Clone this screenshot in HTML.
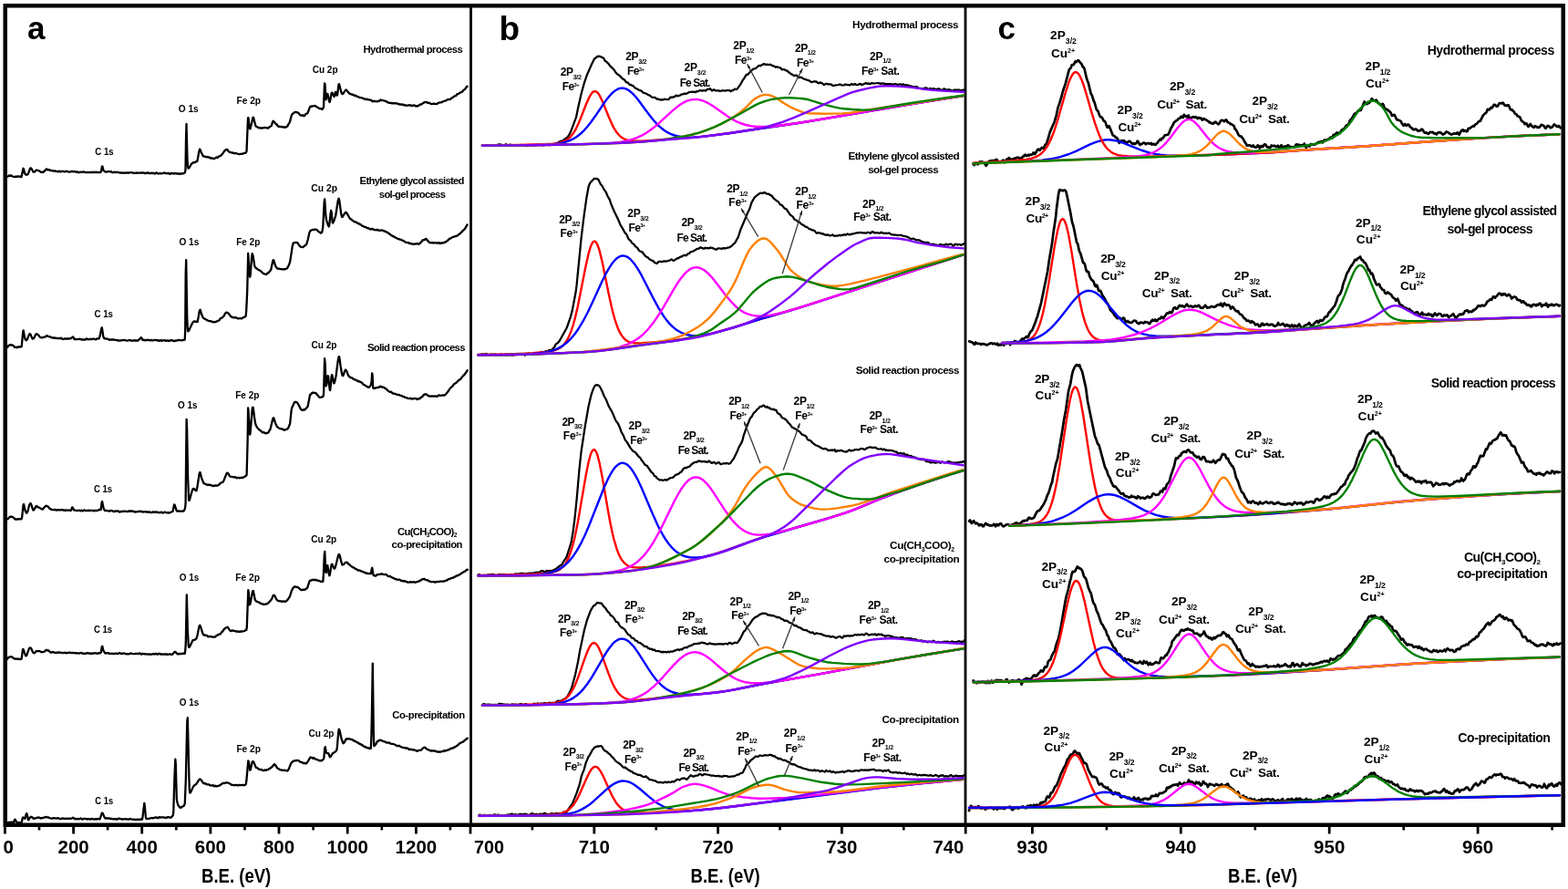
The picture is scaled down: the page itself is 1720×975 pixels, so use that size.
<!DOCTYPE html>
<html><head><meta charset="utf-8"><title>XPS spectra</title>
<style>html,body{margin:0;padding:0;background:#fff;overflow:hidden;}svg{display:block;}</style></head>
<body><svg width="1720" height="975" viewBox="0 0 1720 975">
<rect width="1720" height="975" fill="#fff"/>
<rect x="5.75" y="6.25" width="1709" height="898.5" fill="none" stroke="#000" stroke-width="4.5"/>
<line x1="516.5" y1="6" x2="516.5" y2="905" stroke="#000" stroke-width="2.8"/>
<line x1="1059" y1="6" x2="1059" y2="905" stroke="#000" stroke-width="2.8"/>
<line x1="5.4" y1="905" x2="5.4" y2="914.5" stroke="#000" stroke-width="2.8"/>
<line x1="43.0" y1="905" x2="43.0" y2="910.5" stroke="#000" stroke-width="2.6"/>
<line x1="80.6" y1="905" x2="80.6" y2="914.5" stroke="#000" stroke-width="2.8"/>
<line x1="118.1" y1="905" x2="118.1" y2="910.5" stroke="#000" stroke-width="2.6"/>
<line x1="155.7" y1="905" x2="155.7" y2="914.5" stroke="#000" stroke-width="2.8"/>
<line x1="193.3" y1="905" x2="193.3" y2="910.5" stroke="#000" stroke-width="2.6"/>
<line x1="230.9" y1="905" x2="230.9" y2="914.5" stroke="#000" stroke-width="2.8"/>
<line x1="268.5" y1="905" x2="268.5" y2="910.5" stroke="#000" stroke-width="2.6"/>
<line x1="306.0" y1="905" x2="306.0" y2="914.5" stroke="#000" stroke-width="2.8"/>
<line x1="343.6" y1="905" x2="343.6" y2="910.5" stroke="#000" stroke-width="2.6"/>
<line x1="381.2" y1="905" x2="381.2" y2="914.5" stroke="#000" stroke-width="2.8"/>
<line x1="418.8" y1="905" x2="418.8" y2="910.5" stroke="#000" stroke-width="2.6"/>
<line x1="456.4" y1="905" x2="456.4" y2="914.5" stroke="#000" stroke-width="2.8"/>
<line x1="493.9" y1="905" x2="493.9" y2="910.5" stroke="#000" stroke-width="2.6"/>
<line x1="516.0" y1="905" x2="516.0" y2="914.5" stroke="#000" stroke-width="2.8"/>
<line x1="583.9" y1="905" x2="583.9" y2="910.5" stroke="#000" stroke-width="2.6"/>
<line x1="651.8" y1="905" x2="651.8" y2="914.5" stroke="#000" stroke-width="2.8"/>
<line x1="719.7" y1="905" x2="719.7" y2="910.5" stroke="#000" stroke-width="2.6"/>
<line x1="787.6" y1="905" x2="787.6" y2="914.5" stroke="#000" stroke-width="2.8"/>
<line x1="855.5" y1="905" x2="855.5" y2="910.5" stroke="#000" stroke-width="2.6"/>
<line x1="923.4" y1="905" x2="923.4" y2="914.5" stroke="#000" stroke-width="2.8"/>
<line x1="991.3" y1="905" x2="991.3" y2="910.5" stroke="#000" stroke-width="2.6"/>
<line x1="1059.2" y1="905" x2="1059.2" y2="914.5" stroke="#000" stroke-width="2.8"/>
<line x1="1132.4" y1="905" x2="1132.4" y2="914.5" stroke="#000" stroke-width="2.8"/>
<line x1="1213.9" y1="905" x2="1213.9" y2="910.5" stroke="#000" stroke-width="2.6"/>
<line x1="1295.3" y1="905" x2="1295.3" y2="914.5" stroke="#000" stroke-width="2.8"/>
<line x1="1376.8" y1="905" x2="1376.8" y2="910.5" stroke="#000" stroke-width="2.6"/>
<line x1="1458.2" y1="905" x2="1458.2" y2="914.5" stroke="#000" stroke-width="2.8"/>
<line x1="1539.7" y1="905" x2="1539.7" y2="910.5" stroke="#000" stroke-width="2.6"/>
<line x1="1621.1" y1="905" x2="1621.1" y2="914.5" stroke="#000" stroke-width="2.8"/>
<line x1="1702.6" y1="905" x2="1702.6" y2="910.5" stroke="#000" stroke-width="2.6"/>
<g font-family='"Liberation Sans", Arial, sans-serif' font-weight="bold" fill="#000">
<text x="3.4" y="936.0" font-size="19.40" textLength="11.4" lengthAdjust="spacingAndGlyphs" >0</text>
<text x="63.5" y="936.0" font-size="19.40" textLength="34.2" lengthAdjust="spacingAndGlyphs" >200</text>
<text x="138.6" y="936.0" font-size="19.40" textLength="34.2" lengthAdjust="spacingAndGlyphs" >400</text>
<text x="213.8" y="936.0" font-size="19.40" textLength="34.2" lengthAdjust="spacingAndGlyphs" >600</text>
<text x="288.9" y="936.0" font-size="19.40" textLength="34.2" lengthAdjust="spacingAndGlyphs" >800</text>
<text x="358.4" y="936.0" font-size="19.40" textLength="45.6" lengthAdjust="spacingAndGlyphs" >1000</text>
<text x="433.6" y="936.0" font-size="19.40" textLength="45.6" lengthAdjust="spacingAndGlyphs" >1200</text>
<text x="520.0" y="936.0" font-size="19.40" textLength="33.0" lengthAdjust="spacingAndGlyphs" >700</text>
<text x="634.7" y="936.0" font-size="19.40" textLength="34.2" lengthAdjust="spacingAndGlyphs" >710</text>
<text x="770.5" y="936.0" font-size="19.40" textLength="34.2" lengthAdjust="spacingAndGlyphs" >720</text>
<text x="906.3" y="936.0" font-size="19.40" textLength="34.2" lengthAdjust="spacingAndGlyphs" >730</text>
<text x="1023.6" y="936.0" font-size="19.40" textLength="33.7" lengthAdjust="spacingAndGlyphs" >740</text>
<text x="1115.3" y="936.0" font-size="19.40" textLength="34.2" lengthAdjust="spacingAndGlyphs" >930</text>
<text x="1278.2" y="936.0" font-size="19.40" textLength="34.2" lengthAdjust="spacingAndGlyphs" >940</text>
<text x="1441.1" y="936.0" font-size="19.40" textLength="34.2" lengthAdjust="spacingAndGlyphs" >950</text>
<text x="1604.0" y="936.0" font-size="19.40" textLength="34.2" lengthAdjust="spacingAndGlyphs" >960</text>
<text x="221.0" y="967.7" font-size="21.40" textLength="76.3" lengthAdjust="spacingAndGlyphs" >B.E. (eV)</text>
<text x="757.6" y="967.7" font-size="21.40" textLength="76.1" lengthAdjust="spacingAndGlyphs" >B.E. (eV)</text>
<text x="1347.0" y="967.7" font-size="21.40" textLength="76.3" lengthAdjust="spacingAndGlyphs" >B.E. (eV)</text>
<text x="30" y="42.5" font-size="35">a</text>
<text x="547.5" y="43.7" font-size="37">b</text>
<text x="1094.5" y="42.5" font-size="35">c</text>
</g>
<g font-family='"Liberation Sans", Arial, sans-serif' font-weight="bold" fill="#000">
<text x="398.5" y="57.7" font-size="11.30" textLength="109.2" lengthAdjust="spacing" >Hydrothermal process</text>
<text x="342.7" y="79.9" font-size="11.30" textLength="27.9" lengthAdjust="spacingAndGlyphs" >Cu 2p</text>
<text x="259.5" y="113.5" font-size="11.30" textLength="26.6" lengthAdjust="spacingAndGlyphs" >Fe 2p</text>
<text x="195.8" y="123.1" font-size="11.30" textLength="21.9" lengthAdjust="spacingAndGlyphs" >O 1s</text>
<text x="104.3" y="170.0" font-size="11.30" textLength="20.4" lengthAdjust="spacingAndGlyphs" >C 1s</text>
<text x="394.6" y="202.0" font-size="11.30" textLength="114.9" lengthAdjust="spacing" >Ethylene glycol assisted</text>
<text x="415.8" y="217.4" font-size="11.30" textLength="73.2" lengthAdjust="spacing" >sol-gel process</text>
<text x="341.3" y="210.2" font-size="11.30" textLength="28.7" lengthAdjust="spacingAndGlyphs" >Cu 2p</text>
<text x="259.2" y="268.7" font-size="11.30" textLength="26.1" lengthAdjust="spacingAndGlyphs" >Fe 2p</text>
<text x="196.4" y="268.5" font-size="11.30" textLength="22.0" lengthAdjust="spacingAndGlyphs" >O 1s</text>
<text x="103.5" y="347.9" font-size="11.30" textLength="20.5" lengthAdjust="spacingAndGlyphs" >C 1s</text>
<text x="402.9" y="385.4" font-size="11.30" textLength="107.6" lengthAdjust="spacing" >Solid reaction process</text>
<text x="341.5" y="382.2" font-size="11.30" textLength="28.0" lengthAdjust="spacingAndGlyphs" >Cu 2p</text>
<text x="258.2" y="437.1" font-size="11.30" textLength="26.3" lengthAdjust="spacingAndGlyphs" >Fe 2p</text>
<text x="195.0" y="448.0" font-size="11.30" textLength="21.5" lengthAdjust="spacingAndGlyphs" >O 1s</text>
<text x="103.0" y="539.8" font-size="11.30" textLength="20.2" lengthAdjust="spacingAndGlyphs" >C 1s</text>
<text x="429.6" y="600.5" font-size="11.30" textLength="77.9" lengthAdjust="spacing" >co-precipitation</text>
<text x="341.2" y="594.5" font-size="11.30" textLength="28.0" lengthAdjust="spacingAndGlyphs" >Cu 2p</text>
<text x="258.2" y="637.3" font-size="11.30" textLength="26.8" lengthAdjust="spacingAndGlyphs" >Fe 2p</text>
<text x="196.8" y="637.2" font-size="11.30" textLength="21.5" lengthAdjust="spacingAndGlyphs" >O 1s</text>
<text x="102.9" y="694.3" font-size="11.30" textLength="20.3" lengthAdjust="spacingAndGlyphs" >C 1s</text>
<text x="430.2" y="788.3" font-size="11.30" textLength="79.9" lengthAdjust="spacing" >Co-precipitation</text>
<text x="338.6" y="808.2" font-size="11.30" textLength="27.9" lengthAdjust="spacingAndGlyphs" >Cu 2p</text>
<text x="259.4" y="825.3" font-size="11.30" textLength="26.6" lengthAdjust="spacingAndGlyphs" >Fe 2p</text>
<text x="196.8" y="774.2" font-size="11.30" textLength="21.5" lengthAdjust="spacingAndGlyphs" >O 1s</text>
<text x="104.3" y="882.2" font-size="11.30" textLength="19.8" lengthAdjust="spacingAndGlyphs" >C 1s</text>
<text x="436" y="586.5" font-size="11.3" textLength="65.3" lengthAdjust="spacing">Cu(CH<tspan font-size="6.5" dy="2">3</tspan><tspan dy="-2">COO)</tspan><tspan font-size="6.5" dy="2">2</tspan></text>
</g>
<polyline points="8.0,193.6 9.0,193.3 10.0,192.5 11.5,192.8 12.0,192.4 13.0,192.8 13.5,193.5 15.5,194.0 20.0,193.5 22.0,193.6 23.0,194.1 23.5,193.9 25.5,184.7 26.0,185.2 27.0,190.0 28.5,191.6 29.5,191.7 30.5,191.2 31.0,190.4 33.0,184.9 33.5,184.4 34.0,184.5 35.0,185.8 36.0,187.8 36.5,188.4 37.0,188.7 38.0,188.4 39.5,186.7 40.0,186.5 42.0,187.0 44.0,188.1 45.0,188.9 46.5,188.7 47.0,189.0 49.0,187.5 51.0,185.4 52.0,185.9 52.5,186.5 54.0,186.0 55.0,187.0 56.0,186.9 59.0,187.7 60.5,187.4 61.5,187.8 63.0,187.9 63.5,188.4 64.5,188.1 65.0,187.6 66.5,188.4 67.5,187.9 69.0,187.8 71.0,188.4 72.0,188.2 73.0,187.6 74.5,188.3 76.5,188.7 78.0,188.0 79.5,188.0 81.0,188.3 82.0,188.0 83.5,188.7 84.5,188.3 86.0,189.2 86.5,189.3 88.0,188.6 89.5,188.9 91.5,188.4 94.0,189.1 96.5,188.8 98.0,189.1 98.5,188.9 99.0,189.0 100.5,188.8 101.5,189.0 103.0,188.7 104.0,189.2 105.5,188.7 106.0,189.1 106.5,188.9 107.0,189.2 108.5,188.9 109.5,189.1 110.5,188.9 111.0,187.4 112.0,182.3 112.5,182.7 113.5,187.1 116.0,188.7 119.0,188.1 120.0,188.1 120.5,188.4 122.0,188.1 123.0,189.0 124.0,189.3 125.5,188.6 127.5,189.1 129.0,188.7 131.0,189.5 132.5,189.4 133.5,189.7 134.5,189.5 135.5,189.9 136.5,189.5 137.5,189.7 140.0,189.3 142.0,189.5 144.0,189.0 145.5,189.7 147.0,189.6 148.5,189.8 150.0,189.4 151.5,189.8 152.5,189.6 154.0,189.6 154.5,189.4 155.0,189.7 157.0,189.4 157.5,189.6 158.5,189.6 159.0,190.2 160.0,190.2 160.5,189.6 161.0,189.8 162.0,189.4 162.5,189.4 163.5,190.1 164.0,189.9 165.5,190.2 166.5,189.6 167.5,190.0 169.0,189.8 170.0,190.5 171.5,189.3 172.0,189.8 172.5,189.8 173.0,190.3 174.0,190.5 175.5,190.0 176.5,190.3 178.5,190.2 180.5,189.4 182.0,190.2 183.5,190.3 184.0,189.8 185.0,189.8 185.5,190.4 186.5,190.9 187.5,189.9 188.0,189.8 189.0,190.4 190.0,190.4 190.5,190.0 195.0,190.5 196.0,190.3 197.5,190.8 199.5,190.2 200.5,190.5 202.5,189.7 203.0,188.7 203.5,186.3 204.0,153.2 204.5,136.0 205.5,175.0 206.0,182.2 206.5,184.6 207.0,184.5 207.5,183.9 210.5,179.2 212.0,178.1 213.5,178.3 214.0,178.0 215.5,177.1 216.0,177.0 216.5,176.4 218.0,167.8 219.0,163.7 219.5,163.8 221.0,167.8 223.0,171.4 223.5,171.3 224.0,171.7 225.0,171.6 226.5,172.4 227.5,172.0 228.5,172.5 230.0,172.7 231.0,173.6 232.5,173.4 234.5,174.1 235.0,174.1 237.5,172.4 238.0,172.9 239.0,172.8 240.0,171.4 241.5,171.2 242.0,170.9 244.5,168.2 246.5,165.2 248.5,163.8 249.0,163.8 249.5,164.1 250.5,165.9 251.5,166.7 252.0,166.8 252.5,167.1 253.0,167.0 255.0,167.8 255.5,167.5 257.0,168.3 259.0,167.9 260.0,168.5 262.5,169.1 264.0,168.8 265.0,168.9 265.5,168.6 266.0,168.7 266.5,168.4 267.0,168.4 267.5,167.8 269.0,167.9 269.5,167.6 270.5,166.2 272.0,129.3 272.5,129.1 273.5,138.7 274.0,141.2 274.5,141.4 277.5,128.7 278.0,128.9 278.5,130.4 280.0,136.8 280.5,138.0 281.0,138.7 284.5,140.4 285.5,140.2 286.5,140.6 287.5,140.6 288.5,140.1 291.0,139.9 294.0,140.6 296.0,139.0 297.5,138.3 298.0,137.4 299.0,133.7 299.5,132.8 301.0,133.9 301.5,134.8 302.0,135.0 302.5,135.9 304.0,136.8 304.5,137.9 305.5,138.8 306.0,138.6 307.5,139.1 309.5,139.0 310.5,139.5 311.5,139.7 312.0,139.4 313.5,139.5 314.0,139.4 315.5,138.3 316.5,136.1 317.5,134.6 318.0,133.6 319.5,127.6 320.5,125.3 321.5,124.3 322.0,124.2 323.5,122.9 326.0,123.2 328.0,124.5 329.0,125.9 330.0,126.6 331.0,126.7 332.0,126.2 333.0,127.0 334.0,127.1 335.5,124.9 337.0,124.5 337.5,123.8 340.0,117.3 341.0,116.7 341.5,116.8 342.0,116.4 342.5,116.6 345.0,116.0 346.0,116.2 347.5,117.4 349.0,118.0 350.0,119.0 351.5,119.0 353.5,119.9 354.0,119.4 355.0,117.3 356.0,91.4 356.5,92.0 357.5,109.3 359.0,102.8 359.5,103.2 361.0,110.7 361.5,112.0 362.0,111.4 363.5,102.8 364.0,101.6 364.5,101.8 366.5,106.0 367.0,104.9 368.0,100.8 368.5,100.9 369.5,104.7 370.0,104.7 371.5,92.7 372.0,92.1 374.5,101.6 375.0,102.7 375.5,103.1 376.5,102.6 378.5,99.5 379.5,98.5 380.0,98.6 381.5,100.6 384.0,103.1 386.0,103.4 386.5,103.9 387.0,103.9 389.0,104.9 390.0,104.7 392.0,106.1 392.5,106.0 393.5,106.3 394.5,107.1 396.5,107.1 398.0,107.8 399.0,108.1 399.5,108.5 400.5,108.7 401.0,108.7 402.0,109.1 403.0,108.6 404.0,109.3 405.0,109.3 405.5,109.7 406.5,109.8 407.0,109.6 408.5,111.3 410.0,110.8 410.5,111.0 411.0,110.8 414.0,111.4 415.5,110.6 416.0,110.8 417.5,109.4 418.5,110.1 419.5,110.0 423.0,110.8 424.5,111.9 427.0,112.9 429.0,112.9 430.0,113.4 431.5,113.1 433.0,113.3 434.0,113.1 435.5,113.5 436.0,113.9 436.5,113.8 437.5,114.0 438.5,114.7 440.0,114.5 443.0,115.0 443.5,115.4 444.5,115.5 445.0,115.3 447.0,115.8 448.5,115.2 449.0,115.5 450.5,115.3 451.5,116.0 452.5,116.1 454.0,115.3 454.5,115.4 455.5,116.3 457.0,116.2 457.5,116.5 458.0,116.1 458.5,116.1 459.5,115.6 460.5,114.7 462.0,114.5 464.0,113.1 464.5,113.1 465.0,112.4 465.5,112.4 466.0,112.0 466.5,112.1 468.0,111.9 469.0,112.8 469.5,113.0 470.5,112.7 473.5,114.2 475.5,113.7 478.5,114.1 479.5,113.8 480.5,113.0 482.5,112.3 484.0,112.4 485.5,111.5 488.5,110.5 489.0,110.5 489.5,110.0 491.0,109.3 491.5,108.9 492.0,109.2 493.0,109.2 494.5,108.4 495.0,107.8 496.0,107.1 497.0,106.8 498.5,105.3 500.0,105.2 501.5,103.2 503.0,102.9 505.0,101.4 506.5,101.0 507.5,100.2 508.0,99.3 510.5,97.3 512.0,94.9 512.5,94.7 512.6,94.9" fill="none" stroke="#000" stroke-width="2.3" stroke-linejoin="round" stroke-linecap="round" />
<polyline points="8.2,380.8 9.2,379.2 11.2,378.1 12.2,378.5 12.7,378.3 13.2,378.7 13.7,378.5 14.7,379.0 15.7,380.6 16.2,381.0 17.2,380.6 17.7,380.6 18.7,381.3 20.2,380.2 21.7,380.6 23.7,380.2 25.2,364.1 25.7,362.4 27.2,370.6 27.7,372.0 28.7,373.2 29.7,372.6 31.7,367.6 32.7,366.0 33.7,367.1 35.2,370.9 35.7,371.7 36.7,371.4 37.7,370.0 39.2,366.6 40.2,366.2 42.2,367.4 43.2,369.0 44.2,369.9 45.7,370.3 49.7,369.4 51.2,368.1 53.7,369.2 55.2,369.4 55.7,369.8 57.7,370.5 59.2,370.4 60.2,370.9 61.2,370.7 62.7,371.2 64.7,370.9 65.7,371.3 66.7,370.7 67.2,370.7 67.7,371.4 68.7,371.9 69.7,372.1 70.7,371.5 71.2,371.4 73.7,371.5 74.7,371.3 76.2,371.5 77.7,370.9 78.2,371.0 79.7,369.6 80.2,369.5 81.7,372.1 82.2,371.8 84.7,372.1 87.7,371.7 88.2,372.2 88.7,372.0 89.2,372.4 89.7,372.1 90.2,372.6 91.7,372.4 93.2,372.7 94.2,372.1 94.7,371.5 95.2,371.5 96.2,372.2 96.7,372.3 98.2,371.9 99.7,372.0 100.2,371.7 100.7,372.0 101.2,371.8 101.7,371.9 102.7,371.7 103.7,371.7 104.2,372.3 105.2,372.3 106.7,371.3 108.7,371.3 109.7,368.2 111.2,360.6 111.7,359.3 112.2,361.3 113.2,368.7 114.2,371.1 115.2,371.4 116.2,371.5 116.7,371.3 117.7,371.8 118.7,371.8 119.7,372.8 121.2,372.3 122.2,372.6 122.7,372.4 125.2,372.5 127.2,373.1 128.7,372.8 129.7,373.6 131.2,373.3 132.2,373.6 133.2,373.2 135.7,373.2 136.7,372.8 137.7,373.3 139.7,373.7 142.2,373.0 143.2,373.1 143.7,373.6 144.7,373.7 145.2,373.4 145.7,373.7 146.7,373.6 147.2,373.2 148.7,373.6 149.2,373.4 151.2,373.6 153.7,371.4 154.7,370.1 155.2,370.4 156.2,372.5 156.7,373.1 157.2,373.1 157.7,372.7 158.7,372.9 159.2,373.4 160.2,373.3 161.7,372.6 164.7,373.4 165.7,372.9 167.2,373.5 169.7,372.9 170.7,372.9 172.2,373.3 172.7,373.1 174.7,373.8 176.2,372.9 177.2,373.9 180.2,373.0 180.7,373.5 181.2,373.5 181.7,373.9 182.7,373.5 183.7,373.4 184.2,373.8 185.2,373.8 185.7,373.5 187.2,373.5 188.2,373.1 191.2,374.2 191.7,374.1 192.2,373.7 193.2,373.5 193.7,373.7 195.2,372.9 200.2,373.3 200.7,372.8 202.2,372.8 202.7,372.5 203.2,362.7 203.7,299.9 204.2,285.1 205.2,346.5 205.7,359.3 206.2,363.3 207.2,362.5 211.2,354.1 212.2,352.7 213.2,352.3 214.7,352.8 215.2,352.6 216.7,353.0 218.7,341.6 219.2,340.0 219.7,339.8 221.2,345.1 222.7,348.3 224.7,349.8 225.2,349.9 226.7,351.0 227.7,351.2 228.2,351.7 229.2,352.2 231.2,352.1 232.2,352.9 232.7,353.1 233.7,352.9 234.7,353.3 235.2,353.3 236.7,352.8 237.2,352.9 237.7,352.3 238.2,352.3 238.7,351.8 240.2,351.6 241.7,349.4 243.2,348.7 245.2,347.1 247.2,343.6 248.2,342.6 249.2,342.8 250.7,343.8 253.2,347.1 256.2,348.4 258.2,348.2 261.2,349.3 262.2,349.3 263.2,349.0 264.7,349.5 267.2,348.0 268.2,347.9 269.2,347.1 269.7,346.2 270.2,340.7 271.2,319.6 272.2,277.8 273.2,294.6 273.7,300.7 274.2,303.7 274.7,301.2 276.2,280.7 276.7,278.2 277.2,279.2 277.7,281.6 279.2,291.3 279.7,292.8 281.2,294.4 281.7,294.5 283.2,295.8 285.7,297.0 286.2,297.5 286.7,297.7 288.2,299.5 289.7,300.4 292.2,301.0 293.7,299.4 294.2,299.3 294.7,298.6 295.2,298.5 295.7,297.6 296.2,297.3 297.2,295.7 299.2,286.5 299.7,285.2 300.2,285.4 301.7,290.3 302.7,292.6 304.2,294.7 305.2,294.8 305.7,294.6 306.7,294.6 307.2,295.1 308.7,295.1 309.7,295.4 312.2,295.2 312.7,295.3 313.2,294.9 314.7,294.5 315.2,293.9 317.2,289.9 318.2,286.8 320.7,270.4 321.7,266.6 324.2,265.8 324.7,266.2 325.2,266.1 325.7,266.3 326.2,266.0 328.2,269.1 329.7,270.6 331.7,271.1 332.7,270.8 334.2,269.4 335.7,268.6 336.2,267.9 337.7,263.0 339.2,255.9 340.2,253.3 342.7,252.0 345.2,251.9 345.7,251.5 347.7,252.0 349.2,253.9 350.7,254.7 351.7,255.6 352.7,255.4 353.2,254.7 354.2,249.8 355.7,221.1 356.2,218.5 357.2,234.8 357.7,239.3 358.2,241.8 359.7,246.4 360.7,248.5 361.2,247.2 362.7,233.5 363.2,231.0 363.7,233.2 364.7,244.2 365.2,244.6 366.7,241.2 368.2,236.5 370.7,220.5 371.2,218.4 371.7,217.7 372.2,219.6 374.2,234.3 374.7,236.8 375.2,237.9 375.7,238.0 377.2,235.4 379.2,232.8 380.2,233.4 383.7,239.5 385.2,240.6 385.7,240.6 386.7,242.0 388.2,242.7 388.7,243.4 390.2,243.4 391.7,244.3 392.2,244.9 393.7,245.3 395.2,246.2 395.7,246.2 397.2,247.8 398.2,247.8 399.2,248.6 401.7,249.4 403.2,250.4 404.2,250.2 406.2,251.4 407.2,251.5 407.7,251.0 408.7,250.8 410.2,252.1 411.2,252.0 412.7,252.4 413.7,251.8 414.7,252.1 415.2,252.6 416.2,252.8 418.7,252.4 419.7,252.6 420.7,253.3 421.7,253.3 422.7,254.0 423.7,254.2 427.7,256.8 429.2,258.1 432.2,259.6 433.2,260.4 434.2,260.7 436.2,261.8 439.7,262.8 441.2,263.7 442.7,264.1 444.7,265.7 445.7,265.8 446.7,266.2 447.2,266.1 448.2,266.1 448.7,266.9 449.2,266.7 449.7,267.1 450.2,266.9 450.7,267.4 451.2,267.2 453.2,267.8 455.2,267.4 456.2,267.7 457.7,267.0 459.2,267.8 460.7,266.9 461.2,266.0 462.7,264.9 463.7,263.3 464.2,263.1 465.7,263.2 466.7,261.9 467.2,261.8 470.7,265.6 471.2,266.0 472.7,266.4 474.2,265.8 474.7,266.3 475.7,266.6 476.2,266.3 476.7,266.4 477.2,266.2 479.7,266.7 480.7,266.5 481.2,266.1 482.7,267.0 483.2,266.9 483.7,266.5 485.2,266.5 487.2,266.1 487.7,265.7 488.2,265.8 490.2,264.4 490.7,264.3 492.7,261.9 493.2,261.7 493.7,261.9 495.2,260.8 497.2,259.8 497.7,259.9 498.2,259.6 498.7,259.5 499.2,259.0 500.2,258.8 501.2,258.8 503.2,257.1 504.2,256.4 504.7,256.3 505.7,255.0 507.2,253.8 507.7,252.9 509.7,251.3 512.6,246.4" fill="none" stroke="#000" stroke-width="2.3" stroke-linejoin="round" stroke-linecap="round" />
<polyline points="8.6,569.2 10.6,567.0 11.6,566.5 13.1,566.8 14.6,567.6 15.1,567.6 15.6,568.5 16.6,569.5 17.6,569.3 19.1,569.6 19.6,569.2 23.1,569.4 23.6,569.2 24.1,567.7 25.6,553.6 26.1,552.9 27.6,559.9 28.1,561.3 29.1,562.7 29.6,562.3 30.6,560.3 32.1,554.1 33.1,552.3 33.6,552.0 34.6,554.2 36.1,559.1 36.6,559.6 37.6,558.6 39.6,555.1 40.1,554.9 41.6,556.3 42.1,556.2 43.1,556.7 45.1,558.2 45.6,558.0 46.1,558.4 47.1,558.5 48.1,556.9 50.6,554.7 51.1,555.0 51.6,554.9 52.6,555.6 54.6,557.9 57.1,559.1 58.1,559.2 60.1,558.8 61.1,559.4 62.1,559.5 64.1,559.1 64.6,559.3 67.1,559.3 67.6,559.0 68.6,559.1 69.1,559.5 70.1,559.3 71.6,560.0 72.1,559.3 73.6,559.7 76.1,559.7 77.6,560.0 78.1,559.3 79.1,556.5 79.6,556.5 81.1,559.4 83.6,560.0 86.1,559.9 86.6,559.7 88.6,560.3 89.1,559.6 90.1,560.0 90.6,560.5 92.1,559.4 93.6,560.0 95.1,560.2 96.1,559.8 96.6,560.0 97.1,559.6 97.6,560.0 98.1,559.7 98.6,560.1 99.1,559.8 102.1,559.9 102.6,560.3 104.1,560.0 106.6,560.0 108.1,559.5 109.1,558.8 110.6,559.1 111.6,551.4 112.1,550.0 113.6,557.5 114.6,559.5 115.1,560.0 116.6,560.0 117.1,560.2 117.6,560.0 119.6,560.6 120.6,560.6 121.1,559.9 121.6,559.9 123.6,560.3 124.6,561.1 125.1,561.2 126.6,560.3 128.1,560.7 129.6,560.5 131.1,561.5 131.6,561.5 132.6,560.9 134.1,561.1 134.6,560.7 136.1,560.9 136.6,560.7 139.1,560.8 140.1,561.3 140.6,560.7 141.6,560.3 142.6,560.5 143.1,560.9 144.6,560.4 145.6,560.6 146.1,561.0 147.1,561.3 147.6,560.9 148.6,561.6 151.1,561.0 152.6,561.1 153.1,560.7 154.6,561.0 155.6,560.8 156.6,561.5 157.6,561.3 158.6,561.4 159.1,561.2 160.1,561.1 160.6,561.6 161.1,561.3 161.6,561.6 163.6,561.4 164.1,561.8 164.6,561.6 166.1,562.2 166.6,562.1 167.6,561.3 168.1,561.3 169.6,561.8 171.1,561.3 172.1,561.6 173.1,562.2 174.1,562.0 175.6,562.4 176.1,561.9 177.1,561.6 178.1,562.3 179.1,562.5 179.6,562.0 180.6,561.7 183.1,562.4 184.6,562.1 185.1,562.5 186.1,562.4 186.6,562.0 188.1,561.6 189.6,560.6 191.1,553.3 191.6,553.7 193.6,559.9 194.1,560.4 194.6,560.7 195.6,560.3 196.6,560.6 199.6,560.6 200.1,560.8 200.6,560.6 201.1,560.7 202.1,559.9 203.1,556.9 203.6,552.0 204.6,459.9 205.1,469.7 206.1,523.3 207.1,548.8 207.6,548.9 208.1,547.6 210.6,538.8 211.6,536.3 212.1,535.9 212.6,535.9 214.6,537.9 215.1,538.2 215.6,538.1 216.6,533.0 218.6,519.6 219.1,518.1 219.6,518.1 221.1,524.4 223.6,530.2 224.6,530.4 226.6,531.5 228.1,531.8 228.6,531.7 229.1,531.9 229.6,531.6 230.1,531.9 230.6,531.8 234.1,533.1 235.6,532.5 236.6,532.5 237.1,532.8 237.6,532.4 238.1,532.7 238.6,532.3 239.1,532.4 240.6,531.3 242.1,529.5 243.6,529.1 244.6,528.6 245.1,527.9 248.6,519.3 249.1,518.7 249.6,518.6 250.6,519.6 251.6,521.7 252.6,522.7 256.6,523.3 258.1,523.1 258.6,523.7 259.6,524.3 261.1,523.8 262.1,523.9 262.6,524.3 263.6,524.2 265.1,523.7 266.1,524.1 268.6,522.7 269.6,521.8 270.1,521.7 270.6,521.0 271.6,484.3 272.1,447.4 272.6,451.2 273.6,472.3 274.1,476.7 274.6,474.7 276.6,449.8 277.1,446.6 277.6,447.0 278.1,449.9 279.1,458.3 280.1,464.5 281.1,467.1 282.6,469.5 285.1,471.9 286.6,472.7 287.6,474.1 288.1,474.4 289.1,474.2 289.6,474.3 290.6,475.0 291.6,475.3 292.1,475.0 293.6,474.8 294.6,473.9 296.6,470.4 299.1,460.0 299.6,458.5 300.1,458.3 300.6,459.1 302.1,464.2 304.1,468.2 304.6,468.6 306.6,469.9 308.1,470.3 309.6,470.3 310.6,471.3 311.6,471.5 312.1,471.3 312.6,471.6 313.1,471.2 314.6,470.9 316.1,469.6 318.1,464.7 319.6,450.1 320.1,447.4 323.1,441.0 323.6,440.8 324.1,441.1 325.1,440.9 326.1,441.6 328.6,446.0 329.1,447.5 330.1,448.8 331.1,449.7 332.1,449.9 332.6,449.5 333.6,449.2 334.1,449.5 335.1,448.7 335.6,448.0 337.1,446.5 337.6,445.7 340.1,432.9 340.6,432.8 341.1,432.1 341.6,432.0 342.1,431.1 343.1,430.6 344.1,430.6 345.6,431.1 346.1,431.0 346.6,431.3 348.1,433.3 348.6,433.6 350.1,435.7 350.6,435.8 352.1,435.8 353.1,435.4 353.6,435.4 354.6,434.5 355.1,430.6 356.1,393.1 356.6,398.2 357.6,423.4 358.1,422.7 359.6,412.2 360.1,412.6 361.6,426.8 362.1,428.1 362.6,424.6 363.6,413.1 364.1,411.1 364.6,412.2 366.1,420.4 366.6,420.4 367.1,419.1 368.6,412.2 370.6,396.4 371.6,391.1 372.1,391.2 372.6,393.8 373.6,401.7 375.1,410.2 375.6,411.8 376.1,412.3 376.6,411.5 378.1,407.2 379.1,405.5 380.1,406.7 382.1,411.9 384.1,413.8 386.6,414.6 387.1,415.3 388.1,416.1 388.6,416.0 390.6,417.0 391.1,417.0 392.6,418.2 393.1,418.4 393.6,418.0 394.1,418.3 394.6,418.3 395.1,418.9 397.1,419.8 398.6,421.7 400.6,422.7 402.6,424.2 403.1,424.1 403.6,424.6 404.6,424.8 405.1,424.6 406.6,422.6 407.6,419.0 408.1,409.3 408.6,411.5 409.1,423.9 409.6,425.9 411.1,425.9 411.6,425.6 412.1,425.7 412.6,425.1 414.6,425.0 415.1,424.6 415.6,424.8 416.6,424.4 417.1,423.6 418.6,424.5 419.1,424.3 421.1,424.8 422.1,425.7 423.6,426.4 425.6,428.6 426.6,429.3 427.1,429.6 428.1,429.8 428.6,429.6 429.1,429.8 430.6,431.4 431.6,431.4 432.1,431.8 432.6,431.9 433.6,431.8 435.6,432.9 437.1,432.9 439.1,433.8 440.1,433.8 441.6,434.9 442.6,434.8 444.1,435.8 446.1,436.1 447.1,436.9 449.6,437.1 450.1,436.8 450.6,437.1 451.1,437.0 451.6,437.5 453.6,437.3 454.6,436.9 456.6,437.2 457.6,438.0 459.1,437.4 460.1,437.4 461.6,435.9 462.1,435.9 463.1,435.1 465.6,432.4 466.6,432.4 467.1,432.6 467.6,432.4 469.1,433.6 470.1,434.1 470.6,434.1 471.1,434.6 474.1,434.4 476.1,434.7 477.6,434.4 478.6,434.8 479.6,434.8 481.1,433.4 481.6,433.7 482.1,433.5 482.6,433.8 483.6,433.8 484.6,433.5 485.1,433.7 486.6,433.5 487.1,433.6 488.1,433.2 489.1,432.4 492.1,428.5 493.6,426.0 496.6,423.3 497.6,421.6 499.6,420.2 500.6,419.7 502.6,417.5 505.6,415.5 506.6,413.7 510.1,410.1 512.7,406.2" fill="none" stroke="#000" stroke-width="2.3" stroke-linejoin="round" stroke-linecap="round" />
<polyline points="7.8,722.9 9.3,721.1 10.8,720.4 11.8,720.3 13.3,720.4 14.3,721.6 15.3,722.3 15.8,722.2 16.3,722.6 18.3,722.5 19.3,722.8 20.3,722.5 21.8,723.1 23.3,722.9 23.8,721.5 24.8,713.6 25.3,711.9 25.8,712.7 27.8,718.5 28.3,719.3 28.8,719.2 29.3,718.6 31.8,711.6 32.8,710.4 33.3,710.4 33.8,710.7 34.3,711.4 36.3,715.8 37.3,716.3 38.3,716.0 39.3,714.4 39.8,714.1 40.3,714.1 40.8,714.3 41.8,714.2 42.3,713.9 43.8,714.1 45.3,715.2 46.8,715.2 48.8,714.7 50.3,713.0 50.8,712.8 51.8,713.0 52.3,713.5 52.8,713.4 53.8,713.9 54.8,715.1 56.3,715.8 56.8,715.3 57.8,715.0 58.8,715.6 59.3,715.5 60.8,716.0 64.8,715.5 65.8,715.6 66.3,715.9 69.3,716.0 69.8,716.2 70.8,715.8 71.8,715.7 72.3,716.3 75.8,715.7 76.3,715.9 76.8,715.7 78.3,716.1 79.8,715.9 80.8,716.2 82.3,716.1 82.8,716.4 83.3,716.2 86.3,716.6 89.3,715.8 90.3,716.6 91.3,717.0 91.8,716.7 93.8,716.8 95.8,716.1 97.3,716.5 98.3,716.4 99.8,717.1 100.8,716.3 102.3,716.8 103.3,716.3 103.8,716.4 104.3,716.2 105.3,716.3 105.8,716.7 106.8,716.9 108.3,716.2 108.8,716.1 109.3,716.4 110.3,716.1 110.8,715.3 111.8,709.2 112.3,708.8 113.3,713.3 115.3,716.5 115.8,716.6 116.8,716.2 117.8,716.4 118.8,716.2 120.3,716.9 121.3,717.0 122.8,716.6 123.3,716.9 123.8,716.8 124.3,717.2 124.8,716.8 126.3,716.9 127.3,716.5 128.8,717.2 130.8,716.1 133.8,717.1 134.3,716.7 135.8,716.6 136.3,716.4 137.8,717.2 139.3,717.4 140.3,717.1 141.3,717.3 142.3,717.0 142.8,716.6 143.8,716.5 144.3,716.9 148.3,717.1 148.8,716.8 150.8,716.8 151.8,717.1 152.3,717.1 152.8,716.4 153.8,716.7 154.8,717.5 155.8,717.4 156.3,717.0 157.3,717.0 158.3,717.3 159.3,717.1 161.8,717.7 164.3,717.3 165.8,717.8 167.3,717.2 169.8,717.5 170.8,716.6 172.3,717.7 172.8,717.4 173.3,717.5 174.8,716.7 176.3,717.7 177.3,717.4 178.8,717.7 181.3,717.3 182.3,717.5 182.8,717.8 183.3,717.5 184.8,717.8 186.3,717.2 187.8,717.9 188.3,717.9 189.3,717.6 191.8,714.8 192.3,714.8 193.8,716.6 194.8,717.3 195.8,717.1 196.3,717.4 197.8,716.8 199.3,717.2 200.8,716.4 201.3,716.9 202.8,716.8 203.3,713.2 203.8,704.9 204.8,652.4 205.8,689.9 206.8,708.8 207.3,709.9 207.8,709.7 208.3,708.9 211.3,702.4 214.3,701.4 215.3,700.5 216.3,697.9 218.3,687.8 218.8,686.2 219.3,685.8 220.3,688.1 222.3,694.7 223.3,696.3 223.8,696.2 224.3,696.6 224.8,696.5 225.3,696.8 226.8,696.9 228.3,698.3 228.8,698.3 229.3,697.9 230.3,697.8 230.8,698.3 232.3,698.2 233.3,698.7 235.8,698.5 237.8,696.8 239.3,696.3 239.8,695.7 241.3,695.5 241.8,695.2 243.3,693.1 243.8,692.9 244.3,692.3 245.8,690.0 247.8,688.5 249.8,687.7 251.3,690.3 252.3,691.5 253.3,692.1 254.8,691.4 256.3,691.8 257.8,691.8 258.8,692.6 260.8,692.4 261.8,692.9 263.3,692.6 263.8,692.9 264.3,692.5 265.3,692.3 266.3,692.5 268.3,692.0 269.8,690.9 270.3,690.8 270.8,687.8 272.3,647.2 272.8,650.0 273.8,663.3 274.3,662.6 274.8,660.8 276.8,649.8 277.3,648.2 277.8,648.1 279.8,658.0 281.3,659.6 283.8,660.5 285.3,661.4 285.8,661.4 286.3,662.1 286.8,662.3 288.3,662.3 288.8,662.8 289.8,663.0 291.3,662.5 292.8,662.3 293.8,661.8 297.3,658.1 298.3,656.5 299.8,652.9 300.3,652.7 300.8,652.8 301.8,654.2 303.3,657.5 304.8,658.8 305.8,659.1 306.3,659.0 307.3,659.4 308.8,659.4 309.3,659.9 311.3,659.3 312.8,659.9 313.8,659.5 315.8,657.4 317.3,655.2 318.3,653.3 319.8,648.0 321.3,645.1 322.8,643.5 323.8,643.3 325.8,644.0 326.8,643.9 327.8,645.0 329.3,646.1 329.8,646.8 330.3,647.1 330.8,647.2 332.8,646.6 333.8,646.9 336.3,645.4 337.3,644.4 339.3,638.0 339.8,637.1 340.3,636.6 341.3,636.6 342.3,635.8 343.3,636.0 344.8,635.8 345.3,636.0 346.8,636.0 347.3,636.5 349.3,636.6 349.8,637.1 351.3,637.4 351.8,637.9 354.3,637.9 354.8,631.0 355.8,607.9 356.3,604.9 357.3,627.5 357.8,628.1 358.8,620.6 359.3,620.0 360.8,629.5 361.3,631.3 361.8,630.8 363.3,620.8 363.8,618.8 364.3,618.7 366.3,623.3 366.8,623.7 367.3,623.3 368.3,620.4 370.8,610.3 371.3,608.7 371.8,607.9 372.3,608.3 372.8,609.9 374.8,617.7 375.3,619.1 375.8,619.6 377.3,618.8 378.8,617.0 380.3,616.6 381.3,617.3 381.8,618.2 382.8,619.0 383.3,619.0 384.8,620.6 386.8,622.2 388.3,622.6 389.8,623.9 391.3,624.3 392.8,625.6 394.3,625.5 395.3,625.9 396.3,626.7 397.3,626.7 398.3,627.1 400.3,628.3 402.3,628.5 403.3,629.2 405.8,628.9 406.8,629.3 407.8,624.0 408.3,622.8 409.3,629.6 409.8,631.0 410.3,630.9 410.8,631.3 411.8,631.6 412.8,631.1 413.8,630.1 415.3,630.2 416.8,629.6 417.8,629.7 419.3,629.3 420.3,629.9 421.8,630.2 423.3,629.9 424.3,630.6 425.3,631.7 426.3,632.1 427.3,631.8 428.3,632.1 428.8,632.8 431.3,634.0 432.3,634.2 433.3,635.1 434.8,635.2 435.3,635.6 436.8,635.8 437.3,635.6 437.8,635.8 438.3,635.7 439.8,637.0 440.8,636.7 442.3,637.6 443.8,637.2 444.3,637.5 445.8,637.8 446.8,638.5 449.3,638.6 450.3,638.1 451.8,638.6 453.8,638.2 455.8,638.8 458.3,637.7 459.8,637.5 461.3,636.3 461.8,636.4 463.3,635.2 464.3,635.3 465.3,634.8 465.8,634.9 466.8,636.0 468.8,636.1 470.3,637.3 470.8,637.3 472.3,638.1 475.8,638.1 477.3,638.7 478.8,637.9 480.8,638.1 481.8,637.9 482.3,637.6 486.8,637.5 488.3,637.2 488.8,636.7 489.3,636.7 489.8,636.3 490.3,636.5 491.8,635.1 493.3,635.1 495.3,633.8 496.3,633.9 497.3,633.6 497.8,633.0 498.3,633.0 498.8,632.5 499.3,632.5 500.8,631.4 501.3,631.5 502.3,631.2 506.8,628.5 507.3,628.0 509.3,626.9 509.8,626.9 511.8,625.0 512.8,624.6 513.0,624.9" fill="none" stroke="#000" stroke-width="2.3" stroke-linejoin="round" stroke-linecap="round" />
<polyline points="7.8,902.2 8.8,902.5 9.3,902.0 10.3,901.8 10.8,902.0 11.8,902.0 12.3,901.7 13.3,901.7 13.8,902.1 14.8,902.0 16.3,898.7 16.8,898.8 17.8,901.1 18.8,902.0 19.3,901.9 19.8,902.2 20.8,902.3 21.3,902.1 23.3,902.3 23.8,901.6 24.8,897.2 25.3,896.4 27.3,897.9 28.8,892.7 29.3,892.1 29.8,893.5 30.8,898.8 31.3,899.4 32.3,897.5 33.8,895.9 34.3,895.8 34.8,895.9 36.8,897.8 38.3,897.4 38.8,897.5 41.8,896.4 42.3,896.8 42.8,896.6 43.3,896.7 44.8,897.6 46.8,896.9 48.3,896.8 49.8,896.1 50.8,896.0 51.3,896.4 52.8,896.4 54.8,897.3 57.3,897.7 58.8,897.2 61.8,897.6 63.3,897.2 64.8,897.6 65.3,898.0 66.8,898.1 68.8,897.4 70.3,898.0 71.8,897.7 72.3,897.9 73.8,897.7 74.8,897.9 76.3,897.6 77.8,897.8 79.3,897.2 79.8,896.7 80.3,896.8 81.8,898.2 82.3,897.8 83.8,898.4 85.3,898.0 86.8,898.3 87.8,898.0 88.3,897.4 89.3,897.8 90.3,898.6 91.3,898.3 91.8,897.8 93.8,897.8 95.3,898.6 95.8,898.1 96.8,898.1 97.3,898.3 98.8,898.2 99.8,898.6 101.3,897.8 102.8,898.6 103.8,898.7 105.3,898.2 106.3,898.5 106.8,898.1 107.8,898.0 109.3,898.5 109.8,897.8 111.8,891.6 112.3,891.6 112.8,892.1 114.8,896.9 115.8,897.5 117.3,897.2 118.3,897.8 119.3,897.4 120.3,897.5 121.3,898.0 122.8,898.0 124.3,898.4 126.8,898.1 128.3,898.8 129.3,898.3 129.8,897.7 130.3,897.8 130.8,897.6 131.8,898.2 133.3,898.2 133.8,898.6 134.3,898.7 135.3,898.4 136.8,898.4 137.3,898.1 140.3,898.7 140.8,898.5 141.3,898.6 142.8,898.0 143.8,898.4 148.8,899.0 150.8,898.6 153.3,899.0 153.8,898.6 154.8,898.4 155.3,898.9 155.8,898.9 156.3,897.3 158.3,881.0 158.8,884.0 159.8,895.2 160.3,897.9 161.3,898.2 161.8,897.8 163.3,897.9 166.3,897.0 167.8,897.4 169.3,896.7 169.8,896.8 171.3,896.4 172.3,896.7 173.3,897.3 174.8,896.2 176.3,896.7 177.3,896.4 179.3,896.4 180.8,896.8 181.8,896.6 182.8,896.9 183.8,896.2 184.3,896.2 185.8,896.3 186.8,896.8 187.8,896.6 189.8,894.2 190.3,890.0 191.3,856.1 192.3,832.7 192.8,838.0 193.8,876.0 194.3,879.4 195.3,882.9 197.8,885.9 198.3,885.6 198.8,885.7 199.3,885.1 200.3,884.5 201.3,884.2 201.8,883.7 202.8,881.3 203.8,856.0 205.3,790.8 205.8,787.1 207.3,849.6 207.8,866.0 208.3,869.6 208.8,869.3 209.8,867.6 211.8,863.0 213.8,860.7 214.3,860.7 215.3,859.9 218.3,855.2 219.3,854.5 220.8,855.7 222.8,858.7 223.8,859.4 224.3,859.1 225.3,859.2 226.8,860.3 229.3,860.4 230.3,861.3 231.3,861.3 232.3,861.7 233.8,861.2 234.3,861.5 234.8,862.3 235.3,862.4 236.3,861.7 237.3,862.3 237.8,862.4 240.3,861.6 241.8,860.9 244.3,859.0 247.3,858.8 247.8,858.2 248.3,858.2 251.3,859.0 253.3,860.2 253.8,860.8 255.3,860.9 256.3,861.2 260.3,860.9 261.3,861.6 262.8,860.8 263.8,861.2 266.3,860.8 268.3,861.2 269.3,860.6 269.8,859.9 270.3,856.8 272.3,834.4 272.8,835.3 274.3,844.7 274.8,844.3 276.3,837.3 276.8,835.6 277.3,835.1 277.8,835.2 278.3,835.9 280.8,841.8 282.3,842.1 282.8,842.8 284.8,844.1 286.8,843.9 288.3,845.1 289.3,845.0 290.3,844.5 291.8,844.8 293.3,844.1 294.3,844.0 295.3,842.9 295.8,842.9 296.8,842.4 297.3,841.7 297.8,841.6 298.8,840.7 300.8,838.1 301.8,838.7 304.3,842.6 305.8,843.2 306.8,844.1 310.3,844.9 311.8,844.6 312.8,844.8 314.8,845.5 315.8,844.9 316.8,843.4 319.3,836.9 320.3,835.7 320.8,835.6 322.3,834.4 323.3,834.4 325.3,834.0 327.8,834.2 329.3,835.7 329.8,835.9 331.3,836.0 332.8,837.2 334.3,836.8 335.8,837.6 336.8,836.5 340.3,830.8 340.8,830.5 341.8,830.8 343.3,831.8 344.3,831.2 344.8,831.4 345.8,832.6 347.3,832.8 350.3,834.3 350.8,833.9 351.3,834.2 351.8,833.9 352.3,834.5 352.8,834.3 354.8,832.6 355.3,831.4 356.3,820.0 356.8,819.1 357.8,825.4 359.3,826.2 359.8,826.3 360.3,826.1 361.8,830.3 362.8,829.8 364.8,826.3 365.3,825.9 365.8,825.9 366.8,825.0 367.8,824.5 369.3,822.8 369.8,819.6 371.3,802.2 371.8,799.6 372.3,800.3 372.8,802.2 374.3,809.3 376.3,815.1 376.8,815.3 377.8,814.2 379.3,811.1 380.3,810.2 380.8,810.5 382.3,810.2 383.3,810.3 386.8,811.4 388.3,812.7 388.8,812.5 389.8,812.9 390.8,813.8 391.8,814.2 392.3,814.1 392.8,814.9 397.3,817.1 398.8,818.4 399.3,818.5 400.3,819.3 401.3,819.1 402.8,820.3 404.3,820.3 405.3,821.0 405.8,821.1 406.3,820.7 406.8,820.8 407.3,810.9 407.8,789.4 408.8,727.6 409.8,804.6 410.3,818.3 412.3,816.2 413.8,813.4 414.3,812.9 414.8,812.9 416.3,811.6 417.3,812.0 418.8,812.0 419.8,812.9 422.8,813.6 423.3,814.3 423.8,814.5 425.3,814.3 425.8,814.7 426.3,814.5 427.3,814.7 428.3,815.6 430.8,815.8 433.3,816.8 435.3,818.0 437.8,817.8 439.3,818.9 441.3,819.7 442.3,820.0 443.8,820.1 445.3,820.6 446.3,820.3 448.8,822.0 449.3,822.1 450.3,821.6 451.8,822.3 452.8,822.3 453.3,822.1 454.3,822.4 454.8,822.9 456.3,823.0 456.8,823.5 457.8,823.8 459.8,822.8 461.3,822.9 461.8,822.7 464.3,820.2 466.3,819.7 468.3,821.7 469.3,822.2 469.8,822.0 471.3,823.1 471.8,823.1 473.3,823.6 473.8,823.2 475.3,823.6 476.3,823.3 478.3,823.9 478.8,824.4 479.8,824.6 481.3,824.3 482.8,824.8 484.3,824.2 485.3,824.0 485.8,824.2 486.8,823.7 487.3,823.1 488.8,823.6 490.3,822.8 493.3,821.8 494.8,820.7 496.8,820.5 498.3,819.3 499.3,819.4 500.8,818.0 502.3,817.2 503.8,815.6 506.8,813.9 507.3,813.9 508.3,813.4 509.3,812.3 510.8,811.3 511.3,810.5 512.8,809.9 513.0,809.6" fill="none" stroke="#000" stroke-width="2.3" stroke-linejoin="round" stroke-linecap="round" />
<g>
<polyline points="529.0,159.6 530.0,159.7 532.0,159.1 534.0,159.1 536.0,160.1 537.0,159.5 538.0,159.3 539.0,159.7 540.0,159.8 542.0,159.1 544.0,159.6 545.0,159.0 547.0,158.4 548.0,158.4 549.0,158.4 550.0,158.9 551.0,158.9 552.0,159.4 553.0,159.5 555.0,158.2 557.0,159.3 558.0,159.2 559.0,158.7 561.0,158.8 563.0,159.6 564.0,159.2 566.0,159.7 567.0,159.2 569.0,159.4 571.0,158.8 573.0,159.7 574.0,158.9 575.0,159.4 577.0,159.3 578.0,160.2 579.0,159.7 580.0,158.8 582.0,159.4 585.0,159.3 587.0,159.8 588.0,159.0 591.0,158.8 592.0,158.4 593.0,158.5 595.0,159.5 596.0,159.4 597.0,158.3 599.0,158.7 600.0,157.9 603.0,159.2 606.0,157.8 608.0,158.3 609.0,157.5 610.0,157.1 611.0,157.0 612.0,156.6 614.0,155.2 616.0,154.6 617.0,154.6 621.0,151.5 622.0,151.0 624.0,148.5 626.0,144.6 632.0,128.7 634.0,118.8 638.0,101.2 641.0,90.6 644.0,81.9 649.0,70.5 652.0,64.5 654.0,63.1 655.0,61.9 656.0,62.1 657.0,61.6 658.0,62.1 659.0,62.2 660.0,62.9 662.0,63.5 663.0,65.6 664.0,67.0 665.0,67.5 667.0,69.3 668.0,70.5 669.0,72.2 673.0,75.9 674.0,77.1 675.0,79.0 677.0,81.2 679.0,82.4 683.0,86.4 685.0,87.5 687.0,90.3 688.0,90.4 689.0,90.8 690.0,92.2 691.0,93.2 692.0,92.9 693.0,93.6 695.0,94.5 696.0,96.0 697.0,96.7 699.0,97.5 700.0,98.3 702.0,99.2 703.0,99.3 704.0,100.0 705.0,101.4 709.0,102.7 711.0,104.1 713.0,104.8 715.0,106.5 716.0,106.9 718.0,106.8 719.0,107.1 720.0,108.3 721.0,108.8 722.0,108.7 725.0,109.6 727.0,109.1 728.0,109.3 729.0,108.6 730.0,108.9 733.0,109.2 734.0,108.6 735.0,107.0 736.0,106.5 737.0,107.0 738.0,106.4 740.0,106.4 741.0,105.0 742.0,104.6 743.0,105.3 744.0,105.2 746.0,104.6 748.0,103.3 749.0,103.4 751.0,102.4 752.0,102.9 753.0,102.7 754.0,102.3 755.0,101.6 757.0,100.8 759.0,100.9 760.0,100.6 763.0,101.2 764.0,100.1 765.0,100.3 766.0,100.1 768.0,99.0 770.0,99.7 772.0,99.2 773.0,99.2 774.0,99.6 776.0,97.9 777.0,98.0 779.0,97.1 781.0,99.5 783.0,98.3 784.0,98.6 785.0,99.5 788.0,99.3 790.0,99.8 791.0,99.8 793.0,99.1 794.0,99.5 796.0,99.7 797.0,99.0 799.0,99.2 800.0,99.0 801.0,100.0 802.0,100.0 803.0,99.1 804.0,99.2 805.0,98.6 806.0,97.5 807.0,98.1 808.0,98.0 809.0,97.1 813.0,91.3 815.0,87.5 816.0,86.4 818.0,82.9 819.0,81.6 820.0,81.8 821.0,81.0 824.0,77.6 826.0,76.0 827.0,75.3 829.0,75.0 832.0,72.2 833.0,71.9 834.0,72.3 837.0,70.5 838.0,70.1 840.0,71.0 841.0,70.7 844.0,71.0 845.0,70.7 848.0,72.4 849.0,72.4 851.0,73.8 852.0,73.4 853.0,73.4 854.0,74.0 856.0,74.4 858.0,76.5 859.0,76.2 860.0,76.2 861.0,76.5 862.0,77.3 863.0,77.3 864.0,78.0 865.0,79.3 866.0,79.5 868.0,81.5 869.0,81.6 871.0,83.1 873.0,82.5 874.0,82.7 876.0,85.0 877.0,85.1 878.0,84.6 879.0,84.8 881.0,86.2 888.0,88.6 890.0,90.2 893.0,89.2 894.0,89.7 895.0,89.3 896.0,89.7 897.0,91.0 898.0,91.3 900.0,90.4 902.0,91.4 904.0,93.1 906.0,91.8 907.0,91.8 908.0,92.4 910.0,92.3 912.0,92.7 913.0,93.6 914.0,94.0 915.0,93.9 916.0,93.4 917.0,93.5 920.0,93.0 921.0,92.5 922.0,92.6 923.0,93.4 926.0,93.5 927.0,92.5 928.0,92.6 929.0,93.1 931.0,93.1 932.0,93.4 933.0,93.0 934.0,92.2 935.0,92.3 936.0,93.0 937.0,92.7 938.0,92.0 939.0,92.9 940.0,93.1 941.0,93.0 943.0,91.9 944.0,92.1 945.0,93.1 946.0,92.7 947.0,92.6 950.0,91.1 952.0,92.0 953.0,91.5 954.0,92.1 955.0,91.9 956.0,91.2 959.0,91.5 964.0,91.0 965.0,91.7 966.0,92.0 967.0,91.3 968.0,91.5 970.0,91.5 971.0,92.1 972.0,92.1 973.0,92.5 974.0,92.0 975.0,92.2 977.0,92.0 978.0,92.4 980.0,92.6 982.0,92.0 985.0,93.0 986.0,92.5 988.0,92.3 989.0,93.0 991.0,92.4 992.0,93.4 993.0,94.0 994.0,93.2 995.0,93.3 997.0,93.9 998.0,94.5 999.0,94.4 1000.0,94.7 1001.0,95.3 1002.0,95.2 1003.0,95.5 1005.0,95.0 1006.0,95.4 1007.0,96.8 1008.0,96.6 1011.0,97.0 1013.0,97.8 1014.0,96.8 1015.0,96.3 1017.0,96.8 1018.0,97.8 1019.0,97.9 1020.0,97.1 1021.0,96.9 1022.0,97.6 1023.0,98.0 1024.0,96.9 1025.0,97.6 1027.0,98.2 1028.0,97.7 1030.0,97.3 1031.0,97.8 1032.0,98.9 1033.0,98.9 1035.0,97.7 1036.0,97.4 1038.0,98.5 1039.0,98.5 1041.0,98.2 1043.0,98.9 1044.0,99.6 1045.0,99.8 1046.0,98.9 1047.0,98.5 1052.0,98.6 1053.0,99.1 1055.0,99.1 1057.0,98.5 1058.0,98.5" fill="none" stroke="#000" stroke-width="2.25" stroke-linejoin="round" stroke-linecap="round" />
<polyline points="529.0,159.4 570.0,158.9 600.0,158.0 607.0,157.6 612.0,156.9 616.0,156.0 619.0,154.9 622.0,153.3 625.0,150.8 628.0,147.3 630.0,144.3 632.0,140.8 635.0,134.5 643.0,114.3 646.0,107.4 648.0,103.8 649.0,102.4 650.0,101.3 651.0,100.6 652.0,100.2 653.0,100.1 654.0,100.5 655.0,101.2 656.0,102.2 658.0,105.2 661.0,111.4 668.0,128.8 671.0,135.6 673.0,139.6 675.0,143.0 678.0,147.0 680.0,149.1 682.0,150.8 684.0,152.0 686.0,152.9 688.0,153.6 691.0,154.2 697.0,154.6 703.0,154.6 712.0,154.1 760.0,150.8 776.0,149.1 800.0,146.0 886.0,133.3 995.0,114.8 1057.0,104.9" fill="none" stroke="#ff0000" stroke-width="2.4" stroke-linejoin="round" stroke-linecap="round" />
<polyline points="529.0,159.6 579.0,159.2 601.0,158.7 609.0,158.0 615.0,157.1 620.0,155.9 625.0,154.1 629.0,152.2 633.0,149.7 637.0,146.5 640.0,143.7 644.0,139.3 648.0,134.3 653.0,127.3 663.0,112.5 666.0,108.4 669.0,104.8 672.0,101.6 675.0,99.2 678.0,97.5 681.0,96.7 684.0,96.7 687.0,97.6 690.0,99.3 694.0,102.6 697.0,105.8 700.0,109.5 712.0,125.7 717.0,132.0 720.0,135.4 723.0,138.4 728.0,142.5 731.0,144.5 734.0,146.1 737.0,147.5 740.0,148.5 743.0,149.2 747.0,150.0 755.0,150.6 761.0,150.5 767.0,150.1 785.0,148.1 803.0,145.7 832.0,141.3 874.0,135.2 901.0,130.9 996.0,114.7 1057.0,105.0" fill="none" stroke="#0000ff" stroke-width="2.4" stroke-linejoin="round" stroke-linecap="round" />
<polyline points="529.0,159.6 598.0,159.0 648.0,157.9 662.0,157.3 672.0,156.7 681.0,155.6 688.0,154.4 694.0,152.7 699.0,150.9 704.0,148.6 709.0,145.7 714.0,142.3 720.0,137.6 738.0,121.1 745.0,115.5 749.0,112.9 753.0,110.9 757.0,109.6 760.0,109.1 763.0,108.9 767.0,109.4 771.0,110.5 775.0,112.2 778.0,113.8 782.0,116.2 796.0,126.1 801.0,129.4 807.0,132.8 812.0,135.0 818.0,137.0 824.0,138.2 830.0,138.9 837.0,139.0 845.0,138.7 854.0,137.8 866.0,136.3 881.0,134.1 904.0,130.4 995.0,114.8 1057.0,105.0" fill="none" stroke="#ff00ff" stroke-width="2.4" stroke-linejoin="round" stroke-linecap="round" />
<polyline points="529.0,159.6 568.0,159.3 614.0,158.7 650.0,157.9 684.0,156.7 702.0,155.6 723.0,153.8 732.0,152.6 748.0,150.0 760.0,147.5 770.0,144.6 782.0,140.1 788.0,137.5 793.0,135.0 803.0,129.5 807.0,126.8 811.0,123.9 817.0,119.0 825.0,110.8 828.0,108.4 831.0,106.6 834.0,105.2 837.0,104.3 839.0,103.9 841.0,103.9 843.0,104.1 846.0,105.0 849.0,106.2 852.0,107.8 860.0,113.3 866.0,116.8 873.0,120.1 880.0,122.9 883.0,123.8 887.0,124.3 904.0,124.8 924.0,124.4 933.0,123.7 952.0,120.4 1000.0,113.5 1057.0,104.8" fill="none" stroke="#ff8000" stroke-width="2.4" stroke-linejoin="round" stroke-linecap="round" />
<polyline points="529.0,159.6 563.0,159.4 607.0,158.9 638.0,158.2 668.0,157.3 685.0,156.6 703.0,155.6 723.0,153.8 733.0,152.5 749.0,149.8 758.0,147.9 766.0,145.8 774.0,143.2 783.0,139.6 791.0,135.9 811.0,125.2 827.0,116.1 832.0,113.7 838.0,111.3 843.0,109.8 848.0,108.7 856.0,107.6 861.0,107.3 866.0,107.3 874.0,107.6 881.0,108.2 887.0,109.3 903.0,114.3 915.0,117.4 921.0,118.6 926.0,119.3 935.0,120.0 944.0,120.5 951.0,120.6 955.0,120.4 959.0,119.9 974.0,117.2 1001.0,112.8 1038.0,107.3 1057.0,104.8" fill="none" stroke="#008000" stroke-width="2.4" stroke-linejoin="round" stroke-linecap="round" />
<polyline points="529.0,159.6 567.0,159.4 613.0,158.8 648.0,157.9 682.0,156.8 704.0,155.5 737.0,152.7 759.0,151.1 770.0,150.0 800.0,146.1 829.0,141.7 836.0,140.4 845.0,138.0 859.0,133.6 870.0,129.4 883.0,123.9 921.0,106.8 931.0,102.7 936.0,100.9 941.0,99.5 952.0,96.9 959.0,95.5 965.0,94.6 970.0,94.3 976.0,94.3 985.0,94.6 998.0,95.6 1016.0,98.1 1023.0,98.9 1042.0,100.1 1057.0,100.7" fill="none" stroke="#8000ff" stroke-width="2.4" stroke-linejoin="round" stroke-linecap="round" />
<polyline points="524.6,388.8 525.6,388.8 526.6,389.0 528.6,388.4 529.6,388.6 530.6,388.3 532.6,388.5 533.6,388.0 534.6,388.8 535.6,389.1 539.6,388.5 542.6,388.8 543.6,388.5 545.6,389.1 548.6,388.9 549.6,388.4 550.6,389.0 551.6,389.2 553.6,389.1 554.6,388.7 556.6,389.3 557.6,389.3 559.6,388.4 561.6,389.8 562.6,389.7 564.6,388.4 565.6,389.1 567.6,387.8 568.6,388.4 570.6,387.9 572.6,389.1 573.6,388.7 574.6,388.9 575.6,389.6 576.6,389.5 577.6,388.6 579.6,387.6 581.6,388.3 584.6,388.2 585.6,387.5 587.6,387.9 589.6,387.9 591.6,387.0 592.6,386.9 593.6,386.1 594.6,385.8 595.6,386.5 596.6,386.4 597.6,386.0 598.6,385.2 600.6,385.1 602.6,383.9 604.6,384.5 608.6,380.0 609.6,377.6 611.6,376.3 613.6,374.1 621.6,359.8 625.6,348.5 627.6,341.1 631.6,320.3 632.6,312.4 637.6,261.2 640.6,236.6 643.6,215.7 645.6,204.9 646.6,201.8 648.6,198.9 649.6,198.3 651.6,196.1 652.6,195.9 653.6,195.9 654.6,196.3 655.6,196.3 656.6,197.3 658.6,201.6 659.6,203.0 660.6,203.9 662.6,207.9 664.6,210.5 666.6,215.2 668.6,218.6 670.6,224.5 673.6,231.5 678.6,241.8 680.6,246.8 682.6,249.9 685.6,255.5 686.6,256.2 687.6,257.7 689.6,262.4 691.6,263.9 693.6,267.0 694.6,267.3 695.6,268.2 696.6,269.8 699.6,272.4 700.6,274.2 701.6,275.3 703.6,276.2 704.6,276.4 705.6,278.1 708.6,281.5 710.6,282.2 711.6,283.6 714.6,285.7 716.6,286.2 717.6,287.7 720.6,289.0 722.6,286.9 724.6,286.9 725.6,287.2 726.6,287.1 727.6,286.4 728.6,286.7 729.6,286.3 730.6,286.6 731.6,286.5 733.6,285.9 736.6,284.4 738.6,285.8 739.6,285.7 742.6,283.3 743.6,283.5 745.6,282.1 747.6,281.4 750.6,279.8 751.6,279.9 752.6,280.4 754.6,278.3 755.6,278.1 756.6,277.5 757.6,276.2 759.6,275.9 761.6,274.7 762.6,274.5 763.6,273.4 764.6,272.9 766.6,272.7 767.6,271.5 768.6,271.4 771.6,272.6 772.6,272.6 773.6,271.7 774.6,272.2 776.6,272.1 777.6,272.4 779.6,271.5 780.6,272.0 781.6,271.9 783.6,273.0 785.6,273.8 787.6,272.3 790.6,272.5 791.6,273.0 793.6,271.9 794.6,272.6 800.6,271.1 803.6,268.9 804.6,267.6 805.6,266.9 806.6,265.8 808.6,261.9 809.6,260.5 812.6,251.2 818.6,237.3 819.6,234.5 822.6,228.3 823.6,224.6 824.6,221.9 827.6,216.7 830.6,214.0 832.6,212.8 833.6,211.8 834.6,211.6 836.6,212.0 838.6,210.9 840.6,212.3 843.6,212.9 844.6,213.9 846.6,214.6 848.6,217.5 850.6,219.2 851.6,219.7 852.6,220.8 853.6,221.2 854.6,222.4 855.6,224.3 857.6,224.8 860.6,228.6 862.6,229.3 866.6,235.3 868.6,236.9 869.6,237.5 871.6,240.8 873.6,241.5 875.6,243.5 876.6,243.4 879.6,246.2 880.6,246.5 883.6,248.6 885.6,249.3 887.6,251.2 888.6,251.1 890.6,252.4 891.6,252.3 893.6,253.1 895.6,255.6 896.6,255.7 897.6,255.1 899.6,255.6 901.6,256.6 902.6,256.2 903.6,256.9 905.6,257.8 907.6,257.3 909.6,258.3 911.6,258.3 913.6,257.4 914.6,258.6 915.6,258.9 916.6,258.6 918.6,258.7 920.6,257.8 922.6,258.3 923.6,257.7 924.6,258.0 925.6,257.4 926.6,257.2 927.6,257.8 929.6,256.5 931.6,257.4 932.6,257.3 933.6,256.6 935.6,256.6 936.6,256.0 937.6,256.0 939.6,255.4 942.6,255.3 943.6,254.9 944.6,255.0 945.6,255.5 946.6,255.3 950.6,255.7 951.6,254.8 953.6,255.0 954.6,255.8 955.6,255.5 956.6,254.0 957.6,254.2 958.6,255.1 959.6,255.5 961.6,255.2 963.6,255.5 965.6,255.5 966.6,254.7 967.6,255.3 968.6,255.4 969.6,256.0 971.6,255.6 972.6,256.0 974.6,255.6 975.6,255.6 977.6,257.1 978.6,257.4 979.6,257.3 980.6,257.6 982.6,257.5 984.6,258.2 985.6,257.8 986.6,257.8 989.6,258.2 990.6,258.9 993.6,259.1 994.6,259.7 996.6,260.3 997.6,261.4 998.6,261.5 999.6,262.1 1000.6,262.1 1001.6,261.6 1004.6,263.0 1005.6,263.3 1007.6,263.1 1008.6,263.7 1009.6,263.8 1010.6,264.8 1012.6,265.3 1014.6,266.3 1015.6,265.8 1016.6,265.8 1017.6,266.1 1018.6,266.2 1020.6,268.2 1021.6,267.8 1022.6,268.0 1023.6,267.7 1024.6,268.1 1026.6,268.3 1028.6,269.2 1031.6,268.0 1032.6,268.4 1036.6,268.8 1037.6,267.6 1039.6,268.6 1041.6,267.9 1043.6,267.7 1045.6,269.6 1046.6,269.0 1047.6,267.8 1048.6,267.7 1050.6,268.6 1051.6,268.0 1052.6,268.0 1053.6,268.7 1054.6,268.8 1056.6,267.5 1057.6,267.4" fill="none" stroke="#000" stroke-width="2.25" stroke-linejoin="round" stroke-linecap="round" />
<polyline points="524.6,389.0 546.6,388.7 566.6,388.1 584.6,387.1 597.6,386.0 604.6,385.0 609.6,383.8 613.6,382.0 615.6,380.7 617.6,378.9 620.6,375.3 623.6,370.1 626.6,362.9 628.6,356.8 630.6,349.6 633.6,337.0 642.6,291.5 645.6,278.2 647.6,271.3 648.6,268.7 649.6,266.7 650.6,265.3 651.6,264.7 652.6,264.7 653.6,265.5 654.6,266.9 655.6,269.0 657.6,274.9 660.6,287.1 667.6,321.8 670.6,335.6 672.6,343.7 674.6,350.8 677.6,359.4 679.6,363.9 681.6,367.4 683.6,370.1 685.6,372.2 687.6,373.7 690.6,375.2 693.6,375.9 697.6,376.4 704.6,376.3 716.6,375.4 732.6,373.9 746.6,372.3 756.6,370.8 765.6,369.3 773.6,367.5 783.6,365.0 803.6,359.4 831.6,350.5 861.6,342.0 879.6,336.6 991.6,300.3 1056.6,279.4" fill="none" stroke="#ff0000" stroke-width="2.4" stroke-linejoin="round" stroke-linecap="round" />
<polyline points="524.6,389.4 547.6,389.2 568.6,388.8 581.6,388.3 591.6,387.5 599.6,386.3 606.6,384.4 612.6,381.9 617.6,379.0 622.6,375.0 626.6,371.0 630.6,366.2 634.6,360.5 639.6,352.2 644.6,342.7 649.6,332.2 660.6,308.2 664.6,300.2 667.6,294.8 671.6,288.7 674.6,285.2 676.6,283.3 678.6,281.9 681.6,280.7 682.6,280.5 684.6,280.6 686.6,281.1 688.6,282.1 690.6,283.5 692.6,285.4 696.6,290.3 699.6,294.8 703.6,301.7 716.6,327.1 722.6,338.1 728.6,347.6 731.6,351.6 734.6,355.1 737.6,358.1 740.6,360.7 743.6,362.8 747.6,365.0 750.6,366.2 754.6,367.3 758.6,368.0 763.6,368.2 768.6,368.0 773.6,367.3 779.6,366.1 787.6,364.1 805.6,359.0 833.6,350.1 867.6,340.4 891.6,332.8 988.6,301.3 1056.6,279.4" fill="none" stroke="#0000ff" stroke-width="2.4" stroke-linejoin="round" stroke-linecap="round" />
<polyline points="524.6,389.4 552.6,389.2 582.6,388.5 615.6,387.3 646.6,385.8 658.6,384.7 670.6,382.8 679.6,380.7 687.6,378.0 691.6,376.2 694.6,374.6 700.6,370.7 703.6,368.3 706.6,365.6 711.6,360.3 716.6,354.1 722.6,345.3 727.6,337.1 739.6,316.4 743.6,310.0 746.6,305.7 750.6,300.7 754.6,296.9 756.6,295.5 758.6,294.4 761.6,293.4 764.6,293.2 766.6,293.6 768.6,294.2 770.6,295.2 772.6,296.4 776.6,299.7 779.6,302.8 783.6,307.5 795.6,323.2 801.6,330.5 806.6,335.7 811.6,339.8 816.6,342.9 819.6,344.2 822.6,345.2 825.6,345.9 829.6,346.5 836.6,346.6 843.6,345.9 852.6,344.2 862.6,341.7 874.6,338.2 893.6,332.2 988.6,301.3 1056.6,279.4" fill="none" stroke="#ff00ff" stroke-width="2.4" stroke-linejoin="round" stroke-linecap="round" />
<polyline points="524.6,389.4 551.6,389.2 579.6,388.6 612.6,387.4 638.6,386.2 683.6,380.8 717.6,375.8 727.6,374.0 735.6,372.2 741.6,370.4 746.6,368.6 751.6,366.3 757.6,363.3 762.6,360.4 766.6,357.9 771.6,354.2 775.6,350.8 779.6,346.8 782.6,343.4 788.6,335.8 795.6,326.4 799.6,320.5 803.6,314.1 806.6,308.4 808.6,304.1 815.6,287.3 818.6,280.6 820.6,276.7 822.6,273.4 824.6,270.7 826.6,268.4 830.6,264.6 833.6,262.6 835.6,261.7 836.6,261.5 838.6,261.5 839.6,261.7 841.6,262.6 843.6,264.1 846.6,267.0 851.6,273.0 855.6,278.2 863.6,291.1 866.6,295.3 869.6,298.4 874.6,302.3 878.6,304.9 881.6,306.6 884.6,308.0 888.6,309.4 893.6,310.8 900.6,312.2 905.6,313.0 910.6,313.6 917.6,313.7 924.6,312.9 931.6,311.6 950.6,307.2 960.6,304.7 1006.6,292.4 1052.6,279.7 1056.6,278.8" fill="none" stroke="#ff8000" stroke-width="2.4" stroke-linejoin="round" stroke-linecap="round" />
<polyline points="524.6,389.4 553.6,389.2 583.6,388.5 618.6,387.2 648.6,385.7 657.6,384.9 668.6,383.6 703.6,378.5 738.6,374.0 746.6,372.7 758.6,370.0 767.6,367.2 772.6,365.3 776.6,363.5 779.6,361.9 782.6,360.0 790.6,354.2 800.6,347.4 805.6,343.5 808.6,340.6 811.6,337.3 823.6,323.0 826.6,319.9 829.6,317.3 835.6,312.5 839.6,309.7 843.6,307.3 847.6,305.7 852.6,304.5 858.6,303.6 863.6,303.3 867.6,303.6 871.6,304.3 875.6,305.4 887.6,308.9 900.6,313.1 906.6,314.7 915.6,316.3 921.6,317.1 926.6,317.4 931.6,317.1 935.6,316.4 939.6,315.3 964.6,307.5 995.6,297.3 1013.6,292.1 1035.6,286.1 1056.6,279.4" fill="none" stroke="#008000" stroke-width="2.4" stroke-linejoin="round" stroke-linecap="round" />
<polyline points="524.6,389.4 557.6,389.1 593.6,388.1 641.6,386.1 657.6,384.9 672.6,383.0 704.6,378.4 740.6,373.8 758.6,371.0 767.6,369.3 776.6,367.2 803.6,359.6 816.6,355.3 825.6,351.7 835.6,346.9 844.6,341.5 854.6,334.6 866.6,325.4 873.6,319.3 887.6,306.2 894.6,300.0 907.6,289.3 918.6,280.9 929.6,273.2 936.6,268.8 940.6,266.8 947.6,263.6 951.6,262.0 954.6,261.2 958.6,260.7 963.6,260.6 976.6,261.1 986.6,261.7 992.6,262.7 1006.6,266.1 1023.6,269.1 1041.6,271.3 1056.6,272.4" fill="none" stroke="#8000ff" stroke-width="2.4" stroke-linejoin="round" stroke-linecap="round" />
<polyline points="524.6,630.4 525.6,630.0 526.6,630.9 527.6,630.9 529.6,632.1 530.6,631.6 531.6,630.7 532.6,631.3 533.6,631.5 534.6,630.6 535.6,630.3 537.6,630.3 538.6,630.9 539.6,629.8 540.6,629.9 541.6,630.4 543.6,630.8 546.6,630.8 547.6,629.8 550.6,630.4 551.6,630.4 552.6,629.9 553.6,630.0 554.6,630.6 556.6,630.2 557.6,631.3 558.6,631.2 559.6,629.8 560.6,630.3 561.6,631.2 564.6,629.6 566.6,629.4 568.6,629.7 571.6,628.8 572.6,629.0 573.6,628.8 575.6,629.6 580.6,628.7 582.6,628.8 583.6,628.4 584.6,628.9 586.6,627.9 587.6,627.8 590.6,627.7 591.6,628.0 593.6,626.2 594.6,626.3 595.6,626.1 597.6,627.4 598.6,626.9 599.6,625.8 600.6,626.0 601.6,626.8 603.6,625.8 605.6,626.6 607.6,624.9 609.6,624.2 611.6,622.3 612.6,621.9 613.6,620.9 616.6,619.0 617.6,616.7 620.6,612.4 621.6,610.6 626.6,594.9 628.6,582.9 630.6,567.3 632.6,547.6 635.6,513.4 637.6,495.0 641.6,468.5 645.6,445.4 648.6,432.8 650.6,427.1 652.6,423.1 653.6,422.4 654.6,422.2 655.6,422.3 657.6,423.5 658.6,425.3 660.6,429.3 662.6,434.2 664.6,437.7 667.6,445.1 671.6,452.3 675.6,461.6 677.6,464.0 679.6,468.2 681.6,473.9 683.6,477.1 685.6,482.2 687.6,484.6 691.6,491.4 694.6,495.0 696.6,495.7 700.6,500.8 701.6,501.5 702.6,502.6 703.6,504.6 705.6,506.9 707.6,509.8 708.6,510.4 709.6,510.6 714.6,518.0 715.6,518.5 716.6,519.6 717.6,521.7 719.6,522.7 720.6,524.3 721.6,525.3 722.6,525.7 723.6,526.5 725.6,526.3 726.6,526.8 727.6,526.9 728.6,526.3 729.6,526.2 731.6,526.7 732.6,525.5 733.6,525.3 735.6,524.0 737.6,523.8 738.6,523.4 740.6,521.2 741.6,520.6 742.6,520.4 744.6,519.5 745.6,518.5 747.6,517.3 749.6,514.1 750.6,513.3 751.6,513.0 752.6,513.4 753.6,512.5 754.6,512.3 756.6,511.5 758.6,509.3 759.6,508.5 762.6,506.8 764.6,506.8 765.6,505.6 767.6,505.6 769.6,506.4 771.6,506.2 772.6,505.8 773.6,506.5 774.6,506.4 775.6,506.8 776.6,506.5 777.6,505.5 780.6,507.8 783.6,506.9 784.6,508.1 785.6,508.5 787.6,507.3 788.6,507.1 790.6,509.3 794.6,508.0 795.6,508.5 796.6,507.9 799.6,508.7 800.6,508.3 801.6,507.5 803.6,504.5 804.6,503.4 808.6,495.2 810.6,490.4 813.6,485.1 814.6,482.5 815.6,478.2 818.6,469.3 822.6,459.5 823.6,457.9 824.6,457.1 826.6,453.3 827.6,452.1 828.6,451.5 830.6,448.9 831.6,448.3 832.6,447.3 833.6,445.8 835.6,445.8 837.6,444.5 839.6,446.4 840.6,446.6 841.6,446.0 842.6,447.3 843.6,447.0 845.6,448.6 846.6,448.8 848.6,448.7 849.6,449.6 850.6,449.6 851.6,450.0 852.6,452.6 854.6,454.2 855.6,454.4 857.6,457.6 858.6,458.5 860.6,459.1 861.6,460.2 862.6,460.6 864.6,463.5 866.6,465.4 868.6,468.3 869.6,469.0 870.6,469.3 871.6,470.2 872.6,470.3 874.6,472.3 875.6,472.4 877.6,473.8 879.6,476.6 880.6,476.6 881.6,477.3 883.6,478.1 884.6,479.2 885.6,481.3 886.6,482.7 888.6,482.9 891.6,485.9 894.6,488.2 897.6,489.2 898.6,490.0 902.6,492.2 903.6,492.4 904.6,491.9 905.6,492.0 906.6,492.5 908.6,494.2 910.6,493.7 911.6,494.0 912.6,493.5 913.6,494.2 914.6,493.5 915.6,493.1 916.6,495.2 917.6,495.2 918.6,494.1 920.6,494.4 921.6,494.3 922.6,493.8 924.6,494.8 926.6,495.3 927.6,495.3 928.6,495.6 929.6,494.7 930.6,494.3 931.6,493.5 932.6,493.8 933.6,494.6 934.6,494.0 935.6,494.1 936.6,493.8 937.6,493.2 940.6,493.0 941.6,493.4 942.6,493.1 943.6,492.3 944.6,492.0 946.6,492.2 948.6,493.2 950.6,491.6 953.6,490.5 954.6,490.4 957.6,491.2 959.6,490.7 960.6,490.8 961.6,491.8 963.6,492.4 965.6,492.5 966.6,492.1 968.6,493.4 969.6,492.5 971.6,493.8 972.6,493.6 974.6,494.1 975.6,493.7 976.6,494.0 978.6,494.0 981.6,495.4 983.6,495.6 984.6,497.0 985.6,497.3 987.6,496.8 989.6,497.6 990.6,497.6 991.6,497.2 992.6,498.6 993.6,499.5 994.6,498.4 995.6,499.2 998.6,500.4 999.6,500.0 1001.6,501.7 1002.6,501.4 1003.6,501.5 1005.6,502.5 1006.6,503.3 1007.6,503.1 1008.6,503.5 1009.6,503.5 1010.6,504.2 1011.6,504.1 1012.6,503.5 1013.6,504.5 1014.6,504.7 1016.6,506.3 1017.6,505.6 1018.6,505.8 1019.6,506.9 1021.6,507.5 1023.6,506.5 1025.6,507.7 1029.6,506.9 1030.6,507.0 1031.6,507.8 1033.6,506.4 1035.6,507.4 1036.6,507.4 1038.6,506.7 1039.6,506.6 1040.6,506.0 1041.6,506.3 1042.6,507.1 1043.6,507.0 1045.6,507.7 1047.6,507.4 1048.6,508.1 1050.6,507.1 1051.6,507.3 1053.6,506.7 1054.6,506.9 1055.6,506.6 1056.6,506.0 1057.6,506.6" fill="none" stroke="#000" stroke-width="2.25" stroke-linejoin="round" stroke-linecap="round" />
<polyline points="524.6,631.0 549.6,630.7 570.6,630.2 586.6,629.5 598.6,628.7 605.6,627.7 610.6,626.3 612.6,625.4 614.6,624.2 617.6,621.6 620.6,617.6 623.6,611.9 626.6,603.7 628.6,596.8 630.6,588.7 633.6,574.1 642.6,521.7 645.6,506.7 647.6,499.2 648.6,496.5 649.6,494.6 650.6,493.4 651.6,493.1 652.6,493.6 653.6,495.0 654.6,497.1 655.6,500.0 657.6,507.8 660.6,522.9 666.6,558.0 669.6,574.2 671.6,583.8 673.6,592.1 676.6,602.2 678.6,607.4 680.6,611.6 682.6,614.8 684.6,617.2 687.6,619.7 690.6,621.2 693.6,622.0 697.6,622.4 704.6,622.3 713.6,621.6 725.6,620.1 739.6,617.9 750.6,615.8 761.6,613.4 773.6,610.5 784.6,607.5 797.6,603.2 824.6,593.4 836.6,589.3 850.6,585.1 907.6,568.6 925.6,563.0 939.6,557.8 971.6,544.6 988.6,538.4 1006.6,532.1 1024.6,526.0 1040.6,520.8 1056.6,516.0" fill="none" stroke="#ff0000" stroke-width="2.4" stroke-linejoin="round" stroke-linecap="round" />
<polyline points="524.6,631.4 573.6,631.1 585.6,630.7 593.6,630.0 601.6,628.7 607.6,626.9 610.6,625.7 613.6,624.1 618.6,620.8 623.6,616.2 628.6,610.2 632.6,604.2 637.6,595.3 641.6,587.0 645.6,577.8 662.6,534.8 666.6,525.9 669.6,520.2 672.6,515.3 675.6,511.6 678.6,509.1 680.6,508.1 681.6,507.9 682.6,507.8 684.6,508.0 686.6,508.8 688.6,510.1 690.6,512.0 692.6,514.4 696.6,520.6 699.6,526.2 703.6,534.8 715.6,563.0 721.6,576.2 724.6,582.1 727.6,587.5 730.6,592.3 733.6,596.5 736.6,600.1 739.6,603.1 742.6,605.6 745.6,607.6 748.6,609.1 752.6,610.5 756.6,611.2 760.6,611.5 765.6,611.4 771.6,610.6 779.6,609.0 786.6,607.1 797.6,603.5 825.6,593.2 837.6,589.2 851.6,585.0 906.6,569.0 920.6,564.7 928.6,562.1 936.6,559.1 969.6,545.5 989.6,538.1 1024.6,526.0 1040.6,520.9 1056.6,516.0" fill="none" stroke="#0000ff" stroke-width="2.4" stroke-linejoin="round" stroke-linecap="round" />
<polyline points="524.6,631.4 594.6,630.9 635.6,630.3 648.6,629.8 662.6,628.7 673.6,627.0 678.6,625.9 682.6,624.8 686.6,623.4 689.6,622.1 692.6,620.6 695.6,618.7 698.6,616.6 701.6,614.0 706.6,608.9 711.6,602.6 716.6,595.0 721.6,586.2 726.6,576.5 739.6,549.9 743.6,542.5 746.6,537.4 750.6,531.7 752.6,529.3 754.6,527.3 756.6,525.7 758.6,524.5 761.6,523.5 764.6,523.4 766.6,523.9 768.6,524.8 771.6,526.8 775.6,530.7 778.6,534.4 781.6,538.6 794.6,558.6 799.6,565.8 802.6,569.7 805.6,573.2 810.6,578.1 815.6,581.8 818.6,583.4 821.6,584.7 824.6,585.6 827.6,586.2 830.6,586.5 834.6,586.6 839.6,586.3 844.6,585.7 850.6,584.5 858.6,582.6 874.6,578.3 905.6,569.3 918.6,565.4 927.6,562.4 935.6,559.5 969.6,545.5 990.6,537.7 1024.6,526.0 1040.6,520.9 1056.6,516.0" fill="none" stroke="#ff00ff" stroke-width="2.4" stroke-linejoin="round" stroke-linecap="round" />
<polyline points="524.6,631.4 564.6,631.2 604.6,630.8 640.6,630.2 654.6,629.5 673.6,628.0 696.6,625.5 711.6,622.1 716.6,620.7 722.6,618.6 730.6,615.3 738.6,611.6 749.6,606.0 758.6,601.1 763.6,597.9 768.6,594.3 773.6,590.2 779.6,585.0 786.6,578.4 792.6,572.3 797.6,566.7 801.6,561.6 804.6,557.3 806.6,554.1 813.6,541.2 816.6,536.1 820.6,530.3 824.6,525.2 828.6,520.7 833.6,515.9 836.6,513.5 838.6,512.5 839.6,512.3 841.6,512.4 843.6,513.4 845.6,515.1 847.6,517.3 850.6,521.2 854.6,526.9 861.6,538.7 863.6,541.7 866.6,545.3 870.6,548.6 873.6,550.6 876.6,552.3 879.6,553.6 883.6,555.0 889.6,556.7 894.6,557.8 898.6,558.4 902.6,558.6 909.6,558.4 918.6,557.4 933.6,554.8 941.6,552.9 950.6,550.0 969.6,542.9 978.6,539.7 1038.6,520.5 1052.6,516.1 1056.6,515.1" fill="none" stroke="#ff8000" stroke-width="2.4" stroke-linejoin="round" stroke-linecap="round" />
<polyline points="524.6,631.4 560.6,631.3 597.6,630.9 638.6,630.2 651.6,629.7 670.6,628.2 695.6,625.7 709.6,622.6 717.6,620.3 727.6,616.6 739.6,611.1 755.6,602.8 759.6,600.5 763.6,597.8 768.6,594.0 774.6,589.0 792.6,572.8 802.6,562.9 825.6,539.0 831.6,533.5 838.6,528.3 844.6,524.9 850.6,522.5 857.6,520.4 861.6,519.7 865.6,519.7 869.6,520.4 873.6,521.6 887.6,527.4 903.6,535.8 908.6,538.2 919.6,542.8 925.6,544.9 929.6,545.9 934.6,546.6 943.6,547.3 951.6,547.5 956.6,547.2 961.6,546.2 975.6,541.9 988.6,538.3 1026.6,525.4 1056.6,516.0" fill="none" stroke="#008000" stroke-width="2.4" stroke-linejoin="round" stroke-linecap="round" />
<polyline points="524.6,631.4 566.6,631.2 608.6,630.7 641.6,630.1 656.6,629.4 669.6,628.3 687.6,626.6 705.6,624.4 718.6,622.4 733.6,619.8 744.6,617.7 755.6,615.4 766.6,612.7 778.6,609.6 786.6,607.2 794.6,604.6 824.6,593.6 841.6,587.7 847.6,585.0 854.6,581.2 859.6,578.2 863.6,575.5 867.6,572.3 871.6,568.8 889.6,551.3 903.6,537.2 917.6,523.5 925.6,516.1 930.6,512.1 936.6,508.2 943.6,504.3 948.6,502.1 954.6,500.4 963.6,498.6 970.6,498.0 976.6,498.1 983.6,499.0 1000.6,501.9 1056.6,510.3" fill="none" stroke="#8000ff" stroke-width="2.4" stroke-linejoin="round" stroke-linecap="round" />
<polyline points="529.0,772.8 531.0,772.1 533.0,772.9 535.0,772.6 536.0,772.9 537.0,772.5 539.0,773.4 540.0,772.8 541.0,772.8 542.0,773.3 543.0,772.9 544.0,772.8 545.0,773.2 546.0,773.1 547.0,771.9 551.0,772.2 553.0,772.8 554.0,772.5 556.0,772.9 557.0,772.6 559.0,773.6 561.0,772.5 563.0,772.4 565.0,773.1 566.0,772.5 568.0,773.1 571.0,772.1 572.0,772.0 574.0,773.4 576.0,772.2 577.0,772.2 581.0,773.5 582.0,773.1 583.0,773.2 584.0,772.8 585.0,772.5 586.0,771.7 588.0,772.2 590.0,771.3 591.0,772.1 593.0,771.7 596.0,771.7 597.0,771.0 598.0,771.0 599.0,771.5 600.0,771.5 603.0,770.7 605.0,771.3 606.0,770.7 607.0,771.3 608.0,771.1 609.0,770.4 610.0,770.3 611.0,769.2 612.0,768.6 614.0,768.8 616.0,768.3 617.0,767.8 618.0,766.9 619.0,766.9 622.0,764.6 626.0,756.9 627.0,754.5 631.0,740.1 634.0,726.0 636.0,714.2 639.0,700.0 641.0,690.7 644.0,679.8 648.0,669.3 651.0,664.5 653.0,663.4 655.0,660.9 657.0,661.5 658.0,661.3 660.0,661.8 661.0,663.5 663.0,666.0 664.0,666.7 666.0,669.9 667.0,671.2 668.0,671.7 670.0,675.1 671.0,675.3 672.0,676.1 674.0,678.6 675.0,680.7 676.0,682.1 677.0,682.1 678.0,682.8 679.0,685.0 680.0,686.5 682.0,688.3 683.0,688.6 685.0,690.1 686.0,691.4 687.0,693.2 688.0,694.3 689.0,696.0 691.0,696.8 693.0,699.7 695.0,700.0 697.0,702.6 698.0,702.6 699.0,703.2 700.0,704.6 702.0,705.0 704.0,706.4 707.0,708.9 708.0,709.1 709.0,708.8 711.0,710.9 713.0,711.8 714.0,711.6 715.0,711.9 716.0,712.8 717.0,712.5 718.0,712.5 719.0,713.9 723.0,714.1 725.0,715.1 726.0,715.3 727.0,714.7 728.0,715.4 729.0,715.0 730.0,714.9 731.0,715.5 733.0,714.7 734.0,715.4 735.0,714.6 738.0,714.6 739.0,713.9 740.0,713.7 741.0,713.2 742.0,713.2 743.0,712.4 744.0,712.4 745.0,713.0 746.0,712.4 747.0,712.1 748.0,712.5 750.0,710.6 751.0,710.5 752.0,709.9 753.0,710.3 754.0,710.1 755.0,708.9 756.0,708.4 757.0,708.4 759.0,707.4 760.0,707.2 761.0,706.2 764.0,706.2 765.0,706.0 766.0,705.5 767.0,705.8 770.0,704.6 771.0,704.8 772.0,705.4 773.0,705.2 775.0,706.2 776.0,706.5 777.0,706.4 778.0,705.6 779.0,705.3 780.0,706.1 782.0,706.4 783.0,706.2 784.0,706.6 785.0,706.6 789.0,706.2 791.0,706.4 792.0,706.2 793.0,706.7 796.0,705.9 797.0,706.0 798.0,706.6 800.0,704.9 801.0,705.0 803.0,706.3 806.0,704.7 808.0,705.2 809.0,704.8 812.0,700.5 816.0,692.4 817.0,691.8 818.0,690.6 820.0,686.9 821.0,686.3 824.0,682.2 825.0,680.3 827.0,678.2 829.0,676.6 831.0,675.9 833.0,674.1 835.0,673.4 836.0,672.8 837.0,672.7 840.0,672.9 841.0,673.3 842.0,674.5 843.0,674.6 844.0,674.3 845.0,674.5 846.0,675.4 848.0,674.9 851.0,676.4 852.0,676.6 853.0,677.3 854.0,676.9 856.0,677.7 857.0,678.9 858.0,678.9 859.0,679.4 860.0,680.4 861.0,680.9 862.0,680.5 864.0,681.2 865.0,682.2 866.0,682.8 868.0,683.4 870.0,684.6 871.0,685.8 872.0,686.4 873.0,685.9 876.0,688.1 877.0,688.2 879.0,689.1 880.0,690.1 883.0,691.2 885.0,691.2 886.0,692.3 888.0,693.0 889.0,693.8 890.0,694.0 891.0,693.4 892.0,693.8 893.0,695.2 894.0,695.4 895.0,694.6 896.0,694.4 897.0,694.8 899.0,695.0 900.0,695.5 901.0,695.4 902.0,695.8 903.0,696.7 904.0,696.6 906.0,697.5 907.0,697.7 909.0,697.5 910.0,697.7 911.0,698.7 912.0,698.5 913.0,697.8 917.0,699.6 918.0,699.4 919.0,698.5 921.0,698.0 924.0,699.7 926.0,697.3 928.0,697.9 929.0,697.3 930.0,697.2 932.0,697.7 934.0,697.1 935.0,697.4 938.0,696.0 940.0,696.5 941.0,695.8 943.0,696.4 946.0,695.6 947.0,696.4 948.0,696.5 950.0,694.7 951.0,695.0 952.0,696.1 953.0,696.6 954.0,696.2 955.0,696.2 956.0,695.6 959.0,695.8 960.0,695.4 961.0,696.4 962.0,696.6 963.0,695.6 964.0,695.5 965.0,696.2 967.0,695.5 968.0,696.7 970.0,697.1 971.0,698.0 973.0,697.0 974.0,697.3 975.0,697.0 977.0,697.9 978.0,697.8 979.0,698.1 980.0,699.1 983.0,699.1 985.0,699.6 986.0,699.5 987.0,699.8 988.0,699.0 990.0,698.8 992.0,700.2 993.0,700.6 994.0,700.0 998.0,700.1 999.0,700.5 1000.0,700.3 1001.0,701.0 1002.0,701.3 1004.0,700.9 1005.0,701.4 1006.0,702.4 1007.0,702.1 1008.0,702.9 1009.0,702.9 1010.0,702.4 1011.0,702.3 1012.0,703.4 1013.0,703.8 1014.0,702.9 1015.0,703.1 1016.0,703.8 1018.0,704.4 1019.0,703.7 1021.0,703.6 1022.0,704.4 1024.0,702.7 1027.0,704.7 1028.0,704.0 1029.0,703.9 1031.0,704.7 1032.0,704.3 1033.0,704.4 1035.0,703.8 1038.0,703.7 1039.0,704.1 1040.0,703.6 1041.0,704.3 1042.0,704.4 1044.0,703.4 1046.0,704.1 1049.0,704.2 1052.0,703.1 1053.0,703.8 1055.0,703.6 1056.0,704.1 1057.0,703.6 1058.0,702.3" fill="none" stroke="#000" stroke-width="2.25" stroke-linejoin="round" stroke-linecap="round" />
<polyline points="529.0,773.4 569.0,772.9 586.0,772.4 599.0,771.8 606.0,771.2 611.0,770.4 615.0,769.3 618.0,767.8 621.0,765.7 624.0,762.7 627.0,758.4 629.0,754.9 631.0,750.7 634.0,743.4 642.0,720.6 645.0,713.0 647.0,709.0 648.0,707.5 649.0,706.3 650.0,705.5 651.0,705.1 652.0,705.2 653.0,705.6 654.0,706.4 655.0,707.5 657.0,710.9 660.0,717.8 667.0,737.4 670.0,745.1 672.0,749.7 674.0,753.6 677.0,758.5 679.0,760.9 681.0,762.9 683.0,764.4 685.0,765.5 687.0,766.3 690.0,767.1 693.0,767.4 696.0,767.6 702.0,767.4 711.0,766.6 739.0,763.7 777.0,760.3 795.0,758.1 806.0,756.2 833.0,750.7 897.0,739.6 986.0,723.1 1022.0,716.9 1057.0,711.3" fill="none" stroke="#ff0000" stroke-width="2.4" stroke-linejoin="round" stroke-linecap="round" />
<polyline points="529.0,773.6 578.0,773.2 593.0,772.9 602.0,772.5 609.0,771.9 615.0,770.9 620.0,769.6 625.0,767.6 629.0,765.4 633.0,762.5 637.0,758.9 640.0,755.6 644.0,750.5 648.0,744.6 653.0,736.4 663.0,719.0 666.0,714.2 669.0,709.9 672.0,706.2 675.0,703.4 678.0,701.5 681.0,700.6 684.0,700.7 687.0,701.8 690.0,703.8 694.0,707.8 697.0,711.6 700.0,715.9 711.0,733.2 716.0,740.6 719.0,744.5 722.0,748.0 727.0,752.8 730.0,755.0 733.0,756.9 736.0,758.4 739.0,759.5 745.0,761.0 749.0,761.5 753.0,761.7 761.0,761.7 772.0,760.9 786.0,759.5 797.0,757.9 807.0,756.1 833.0,750.8 897.0,739.6 985.0,723.3 1022.0,717.0 1057.0,711.4" fill="none" stroke="#0000ff" stroke-width="2.4" stroke-linejoin="round" stroke-linecap="round" />
<polyline points="529.0,773.6 591.0,773.1 624.0,772.5 648.0,771.8 664.0,771.1 675.0,770.3 683.0,769.4 690.0,767.9 696.0,766.0 701.0,763.9 706.0,761.2 711.0,757.9 716.0,753.8 721.0,749.1 727.0,742.8 739.0,729.4 743.0,725.3 746.0,722.5 750.0,719.5 753.0,717.6 757.0,716.0 760.0,715.4 763.0,715.3 767.0,716.0 770.0,717.1 774.0,719.2 780.0,723.6 792.0,734.0 797.0,738.1 802.0,741.6 807.0,744.5 812.0,746.6 818.0,748.3 824.0,749.1 830.0,749.3 837.0,749.0 845.0,748.2 869.0,744.5 900.0,739.1 990.0,722.4 1025.0,716.5 1057.0,711.4" fill="none" stroke="#ff00ff" stroke-width="2.4" stroke-linejoin="round" stroke-linecap="round" />
<polyline points="529.0,773.6 569.0,773.4 623.0,772.5 652.0,771.7 680.0,770.5 694.0,769.4 708.0,767.8 724.0,765.3 742.0,761.9 756.0,758.7 768.0,755.2 778.0,751.4 788.0,746.6 797.0,741.4 803.0,737.2 807.0,733.7 818.0,723.1 827.0,715.7 830.0,713.7 833.0,712.1 836.0,710.9 839.0,710.1 841.0,710.0 843.0,710.3 845.0,711.0 848.0,712.3 855.0,716.1 873.0,727.2 876.0,728.8 879.0,730.1 884.0,731.4 891.0,732.5 898.0,733.2 904.0,733.4 914.0,733.2 927.0,732.6 933.0,732.1 940.0,731.2 955.0,728.8 1001.0,720.5 1042.0,713.7 1057.0,710.8" fill="none" stroke="#ff8000" stroke-width="2.4" stroke-linejoin="round" stroke-linecap="round" />
<polyline points="529.0,773.6 567.0,773.4 618.0,772.6 643.0,772.0 668.0,771.1 685.0,770.2 699.0,768.9 711.0,767.4 727.0,764.7 741.0,762.1 752.0,759.7 762.0,757.1 771.0,754.1 775.0,752.5 780.0,750.1 797.0,741.0 816.0,731.2 825.0,726.7 833.0,723.0 841.0,719.5 846.0,717.7 854.0,715.4 860.0,714.2 865.0,714.0 869.0,714.6 873.0,715.8 882.0,719.4 887.0,721.1 899.0,724.5 907.0,726.2 913.0,726.9 926.0,727.9 936.0,728.4 945.0,728.5 954.0,727.9 973.0,725.4 1017.0,717.8 1057.0,711.4" fill="none" stroke="#008000" stroke-width="2.4" stroke-linejoin="round" stroke-linecap="round" />
<polyline points="529.0,773.6 569.0,773.4 623.0,772.5 652.0,771.7 680.0,770.5 697.0,769.1 738.0,764.2 774.0,760.8 788.0,759.2 803.0,756.9 841.0,749.3 850.0,747.0 861.0,743.6 868.0,740.9 877.0,736.7 891.0,729.6 910.0,719.3 928.0,710.3 934.0,707.8 941.0,705.4 948.0,703.3 953.0,702.1 959.0,701.3 968.0,700.5 975.0,700.2 981.0,700.3 989.0,700.9 1012.0,703.2 1039.0,705.1 1057.0,706.2" fill="none" stroke="#8000ff" stroke-width="2.4" stroke-linejoin="round" stroke-linecap="round" />
<polyline points="525.6,893.8 526.6,893.5 527.6,894.6 528.6,895.2 529.6,894.1 530.6,893.9 531.6,893.9 533.6,894.5 534.6,894.5 535.6,893.9 536.6,894.4 537.6,893.8 539.6,894.6 540.6,894.3 541.6,893.5 542.6,893.4 545.6,894.2 546.6,893.5 548.6,894.2 550.6,894.3 551.6,894.6 552.6,894.3 555.6,894.3 556.6,893.3 557.6,893.9 561.6,892.6 562.6,893.1 564.6,893.5 565.6,893.2 566.6,894.0 570.6,892.9 571.6,892.8 573.6,893.3 575.6,892.7 577.6,893.0 579.6,894.3 580.6,893.8 582.6,892.3 583.6,892.2 584.6,892.4 585.6,893.2 588.6,892.9 590.6,893.7 591.6,893.0 592.6,892.7 594.6,893.2 595.6,892.5 597.6,891.9 598.6,892.1 599.6,893.3 600.6,893.9 601.6,892.9 602.6,893.1 603.6,892.8 604.6,892.2 607.6,892.5 608.6,893.0 609.6,891.9 611.6,892.4 612.6,892.0 614.6,892.4 616.6,891.8 617.6,891.2 618.6,890.3 619.6,891.2 620.6,891.5 622.6,889.1 623.6,887.2 627.6,881.9 629.6,877.1 632.6,869.6 635.6,860.9 637.6,852.2 638.6,849.1 640.6,844.1 642.6,836.9 645.6,829.8 646.6,828.6 649.6,822.9 652.6,819.3 653.6,819.3 655.6,818.3 656.6,818.6 658.6,818.1 659.6,818.2 660.6,819.3 661.6,821.3 662.6,822.6 664.6,824.0 665.6,824.4 667.6,826.4 668.6,826.9 670.6,829.3 672.6,831.1 675.6,834.9 680.6,838.2 683.6,841.4 684.6,841.9 685.6,841.5 688.6,843.9 690.6,844.9 691.6,845.9 693.6,846.4 694.6,847.7 695.6,848.2 696.6,848.1 697.6,848.8 698.6,849.0 699.6,849.9 701.6,849.9 703.6,850.8 705.6,852.0 706.6,852.2 708.6,851.3 709.6,852.6 710.6,853.0 712.6,855.2 714.6,855.2 716.6,855.9 718.6,856.3 719.6,856.7 720.6,857.7 722.6,858.1 723.6,857.9 725.6,858.1 727.6,858.5 729.6,857.6 730.6,857.7 731.6,858.3 732.6,857.7 733.6,857.5 734.6,858.1 735.6,858.0 736.6,857.3 737.6,857.0 738.6,857.7 740.6,856.5 742.6,854.9 743.6,854.8 744.6,855.4 745.6,855.4 747.6,854.0 748.6,853.7 750.6,853.5 752.6,854.6 753.6,854.8 757.6,850.2 759.6,851.3 760.6,851.6 763.6,850.6 765.6,850.4 766.6,849.3 767.6,849.0 768.6,849.0 769.6,850.1 770.6,850.3 772.6,849.0 778.6,850.0 779.6,850.5 782.6,850.5 784.6,851.2 786.6,851.2 788.6,850.8 789.6,851.5 790.6,851.3 791.6,851.8 792.6,851.6 793.6,850.8 795.6,851.2 797.6,851.2 798.6,851.9 802.6,851.7 803.6,851.3 805.6,851.4 808.6,849.6 809.6,849.7 810.6,849.4 812.6,847.9 813.6,847.9 814.6,847.5 817.6,841.7 818.6,839.1 820.6,837.1 821.6,836.5 823.6,833.7 825.6,832.5 828.6,829.7 829.6,829.6 831.6,829.9 833.6,828.5 836.6,829.0 838.6,828.2 842.6,828.5 844.6,827.7 845.6,828.1 846.6,828.2 847.6,829.1 848.6,829.3 849.6,829.1 850.6,830.2 851.6,830.8 852.6,831.1 853.6,832.1 854.6,832.3 855.6,831.7 856.6,832.5 859.6,833.9 860.6,833.7 861.6,834.0 864.6,835.8 865.6,835.9 866.6,836.6 867.6,837.8 869.6,838.4 870.6,838.0 874.6,840.2 875.6,840.9 877.6,841.3 879.6,842.1 880.6,842.3 881.6,843.0 884.6,843.4 886.6,844.4 890.6,844.9 891.6,845.3 893.6,844.2 894.6,845.4 895.6,845.2 896.6,844.7 898.6,845.4 899.6,846.4 901.6,845.2 904.6,846.6 905.6,845.6 906.6,845.0 907.6,845.9 908.6,846.1 910.6,845.4 911.6,846.6 912.6,847.0 913.6,846.1 914.6,846.7 915.6,846.8 916.6,847.6 918.6,846.7 919.6,847.1 921.6,846.5 922.6,846.7 923.6,846.1 924.6,845.9 925.6,847.0 927.6,846.0 928.6,846.0 929.6,845.3 930.6,845.2 934.6,846.2 935.6,845.7 937.6,845.7 938.6,845.0 940.6,845.0 941.6,845.6 942.6,845.4 944.6,844.3 946.6,844.5 947.6,844.9 949.6,844.3 950.6,844.9 951.6,844.8 952.6,844.4 953.6,844.7 954.6,844.3 957.6,843.8 958.6,843.9 959.6,844.3 960.6,845.1 961.6,845.1 962.6,844.7 963.6,845.1 964.6,844.7 965.6,844.8 967.6,845.4 968.6,846.0 970.6,844.8 971.6,845.6 974.6,844.5 975.6,846.0 976.6,846.7 979.6,847.5 980.6,847.1 981.6,847.2 982.6,846.8 983.6,847.1 984.6,847.9 986.6,847.2 987.6,847.8 989.6,847.8 990.6,848.2 992.6,847.5 993.6,848.0 994.6,849.0 995.6,848.3 997.6,849.3 998.6,849.2 999.6,848.6 1002.6,849.7 1003.6,849.1 1004.6,849.1 1005.6,850.1 1006.6,850.5 1008.6,849.8 1010.6,850.3 1011.6,850.4 1012.6,849.8 1013.6,850.2 1015.6,849.9 1016.6,850.4 1017.6,850.5 1019.6,850.5 1020.6,850.1 1022.6,850.9 1024.6,851.0 1025.6,850.1 1026.6,849.9 1029.6,851.8 1031.6,850.5 1032.6,850.8 1033.6,850.2 1034.6,850.3 1035.6,851.7 1037.6,851.2 1039.6,851.6 1041.6,851.1 1042.6,850.2 1043.6,850.1 1044.6,851.4 1045.6,851.7 1047.6,850.9 1049.6,850.6 1050.6,851.4 1052.6,851.1 1055.6,851.2 1056.6,850.9 1057.6,850.3" fill="none" stroke="#000" stroke-width="2.25" stroke-linejoin="round" stroke-linecap="round" />
<polyline points="525.6,894.5 571.6,894.2 600.6,893.6 607.6,893.2 612.6,892.6 616.6,891.7 619.6,890.6 622.6,888.9 625.6,886.5 628.6,883.2 630.6,880.4 632.6,877.1 635.6,871.3 643.6,853.2 646.6,847.1 648.6,844.0 649.6,842.8 651.6,841.2 652.6,840.9 653.6,840.9 654.6,841.3 655.6,841.9 656.6,842.9 658.6,845.6 661.6,851.1 668.6,866.8 671.6,873.1 675.6,879.9 678.6,883.7 680.6,885.7 682.6,887.3 684.6,888.5 686.6,889.4 688.6,890.1 691.6,890.8 698.6,891.4 705.6,891.5 715.6,891.3 741.6,890.2 760.6,888.9 784.6,886.7 805.6,884.3 841.6,879.6 966.6,863.9 1013.6,858.9 1056.6,854.9" fill="none" stroke="#ff0000" stroke-width="2.4" stroke-linejoin="round" stroke-linecap="round" />
<polyline points="525.6,894.7 580.6,894.6 603.6,894.3 616.6,893.5 621.6,892.9 626.6,891.9 630.6,890.8 634.6,889.3 638.6,887.4 642.6,885.1 646.6,882.4 650.6,879.2 664.6,866.4 670.6,861.5 673.6,859.6 676.6,858.1 679.6,857.0 682.6,856.5 685.6,856.6 688.6,857.2 691.6,858.3 695.6,860.5 701.6,865.0 712.6,874.4 717.6,878.4 722.6,881.8 727.6,884.5 732.6,886.4 738.6,888.0 744.6,888.9 752.6,889.2 758.6,889.0 766.6,888.5 790.6,886.2 965.6,864.0 1012.6,859.0 1056.6,854.9" fill="none" stroke="#0000ff" stroke-width="2.4" stroke-linejoin="round" stroke-linecap="round" />
<polyline points="525.6,894.7 624.6,894.2 639.6,893.5 650.6,892.6 665.6,891.1 680.6,889.2 689.6,887.7 697.6,886.0 705.6,884.0 711.6,882.1 720.6,878.3 731.6,873.1 737.6,869.9 746.6,864.3 749.6,862.8 755.6,860.8 760.6,859.9 762.6,859.8 765.6,860.1 768.6,860.6 772.6,861.6 780.6,864.3 788.6,867.8 793.6,869.7 798.6,871.3 803.6,872.5 814.6,874.2 824.6,875.3 832.6,875.8 841.6,875.8 862.6,875.0 877.6,873.9 912.6,870.1 956.6,864.6 974.6,862.5 1017.6,858.3 1056.6,854.9" fill="none" stroke="#ff00ff" stroke-width="2.4" stroke-linejoin="round" stroke-linecap="round" />
<polyline points="525.6,894.7 627.6,894.3 672.6,893.5 696.6,892.7 704.6,891.6 740.6,888.3 752.6,887.0 766.6,885.0 778.6,882.7 783.6,881.5 789.6,879.7 802.6,875.0 808.6,872.4 819.6,866.6 825.6,864.0 832.6,862.0 839.6,860.8 843.6,860.7 846.6,861.1 849.6,862.0 860.6,865.9 868.6,867.9 873.6,868.7 876.6,869.0 881.6,869.1 908.6,868.6 918.6,868.2 928.6,867.3 964.6,862.5 978.6,861.0 1020.6,857.4 1056.6,854.9" fill="none" stroke="#ff8000" stroke-width="2.4" stroke-linejoin="round" stroke-linecap="round" />
<polyline points="525.6,894.7 624.6,894.2 653.6,892.9 680.6,891.1 701.6,889.2 725.6,886.4 737.6,884.6 775.6,878.4 783.6,876.8 791.6,874.9 800.6,872.2 807.6,869.7 812.6,867.5 826.6,860.6 835.6,856.6 840.6,854.5 844.6,853.3 849.6,852.1 853.6,851.3 857.6,850.9 862.6,850.9 867.6,851.4 880.6,853.6 894.6,856.6 900.6,857.8 915.6,859.8 925.6,860.5 945.6,860.1 989.6,858.1 1019.6,856.5 1056.6,854.2" fill="none" stroke="#008000" stroke-width="2.4" stroke-linejoin="round" stroke-linecap="round" />
<polyline points="525.6,894.7 616.6,894.4 667.6,893.6 688.6,893.0 709.6,892.2 736.6,890.8 752.6,889.8 774.6,887.8 793.6,885.8 814.6,883.2 846.6,878.9 879.6,872.3 898.6,868.8 908.6,866.6 917.6,864.0 944.6,854.6 948.6,853.6 952.6,852.9 958.6,852.4 964.6,852.4 983.6,854.0 997.6,854.6 1007.6,854.8 1032.6,854.4 1056.6,853.3" fill="none" stroke="#8000ff" stroke-width="2.4" stroke-linejoin="round" stroke-linecap="round" />
<polyline points="1067.7,180.2 1068.7,181.1 1069.7,179.1 1070.7,178.9 1071.7,180.0 1072.7,180.3 1073.7,179.2 1074.7,177.5 1075.7,178.2 1076.7,177.3 1077.7,177.5 1078.7,178.6 1079.7,178.5 1081.7,181.8 1084.7,177.0 1086.7,176.3 1087.7,176.4 1088.7,176.0 1090.7,176.5 1092.7,174.9 1093.7,175.3 1094.7,176.9 1096.7,178.0 1097.7,177.7 1098.7,176.6 1099.7,176.3 1100.7,175.7 1101.7,178.2 1102.7,177.7 1103.7,175.5 1104.7,174.4 1105.7,174.8 1106.7,173.2 1107.7,173.9 1108.7,175.4 1110.7,174.4 1111.7,174.8 1112.7,173.5 1113.7,173.7 1115.7,172.7 1116.7,173.2 1117.7,172.9 1118.7,174.2 1119.7,173.3 1120.7,173.8 1121.7,171.9 1122.7,171.7 1123.7,170.2 1124.7,169.6 1125.7,171.0 1126.7,171.0 1127.7,169.8 1128.7,170.6 1129.7,169.5 1131.7,169.8 1132.7,168.9 1133.7,167.3 1134.7,169.2 1135.7,168.5 1137.7,164.8 1138.7,163.5 1139.7,163.7 1140.7,164.8 1142.7,161.9 1143.7,162.2 1144.7,162.8 1146.7,158.5 1147.7,158.2 1149.7,152.3 1151.7,144.9 1156.7,133.5 1158.7,126.6 1160.7,117.3 1161.7,114.9 1164.7,105.0 1165.7,100.8 1168.7,91.9 1172.7,76.6 1173.7,75.2 1174.7,74.4 1175.7,71.4 1177.7,70.9 1179.7,67.2 1180.7,68.1 1181.7,66.9 1182.7,66.1 1183.7,66.9 1184.7,68.5 1185.7,69.3 1186.7,70.8 1187.7,73.2 1188.7,73.7 1189.7,76.0 1191.7,85.0 1192.7,88.2 1193.7,90.5 1196.7,102.7 1197.7,104.2 1199.7,110.7 1200.7,112.5 1202.7,120.0 1203.7,120.9 1204.7,122.4 1205.7,125.5 1206.7,127.7 1207.7,128.6 1208.7,128.5 1210.7,132.7 1211.7,132.8 1212.7,134.3 1213.7,137.7 1214.7,139.8 1215.7,138.6 1216.7,138.3 1220.7,148.3 1222.7,149.4 1223.7,150.6 1224.7,150.9 1225.7,152.0 1226.7,153.6 1227.7,156.8 1228.7,156.1 1229.7,154.3 1230.7,154.2 1231.7,154.7 1232.7,154.1 1234.7,155.7 1235.7,157.0 1237.7,155.3 1238.7,154.8 1239.7,155.2 1240.7,156.3 1242.7,157.8 1243.7,157.1 1244.7,158.0 1245.7,157.7 1246.7,156.5 1247.7,154.7 1248.7,155.5 1249.7,158.0 1250.7,158.9 1251.7,158.1 1252.7,157.9 1253.7,156.9 1254.7,156.5 1255.7,156.7 1256.7,158.1 1257.7,157.8 1258.7,157.0 1259.7,157.0 1260.7,157.7 1262.7,157.0 1263.7,158.7 1264.7,158.0 1265.7,157.8 1266.7,159.0 1267.7,158.6 1268.7,157.3 1269.7,156.7 1270.7,155.0 1272.7,152.6 1273.7,153.6 1274.7,151.6 1275.7,151.6 1277.7,148.4 1280.7,147.7 1281.7,147.2 1284.7,140.1 1285.7,138.9 1287.7,134.6 1289.7,132.7 1291.7,131.6 1292.7,130.1 1293.7,129.6 1294.7,129.6 1295.7,127.6 1297.7,129.0 1298.7,125.8 1300.7,127.8 1301.7,127.3 1302.7,129.0 1303.7,126.6 1304.7,129.0 1305.7,130.4 1307.7,128.5 1309.7,128.2 1310.7,129.0 1311.7,128.2 1313.7,130.1 1314.7,128.9 1316.7,129.8 1317.7,129.6 1318.7,131.6 1319.7,131.3 1320.7,130.0 1321.7,131.0 1322.7,131.2 1323.7,131.8 1324.7,132.7 1325.7,133.1 1326.7,134.4 1327.7,134.2 1328.7,135.2 1330.7,135.6 1332.7,133.9 1333.7,133.7 1334.7,135.0 1335.7,135.8 1336.7,136.3 1337.7,135.0 1338.7,133.0 1339.7,131.9 1341.7,132.0 1342.7,133.2 1343.7,132.8 1344.7,131.3 1345.7,132.0 1346.7,134.3 1348.7,134.7 1349.7,136.1 1350.7,136.0 1353.7,138.3 1354.7,141.5 1355.7,142.2 1356.7,143.7 1358.7,148.2 1359.7,149.1 1360.7,149.5 1361.7,149.6 1362.7,151.3 1363.7,152.2 1364.7,154.6 1366.7,157.4 1367.7,159.6 1370.7,159.3 1371.7,159.5 1372.7,160.8 1373.7,160.7 1374.7,159.4 1375.7,160.9 1377.7,161.7 1378.7,161.0 1379.7,159.3 1380.7,159.9 1381.7,162.5 1382.7,161.5 1383.7,160.0 1384.7,161.1 1385.7,160.5 1386.7,158.7 1387.7,158.1 1388.7,159.2 1389.7,161.2 1390.7,161.5 1391.7,161.3 1392.7,161.9 1393.7,161.5 1394.7,159.5 1395.7,160.2 1397.7,159.7 1399.7,161.0 1400.7,160.6 1401.7,159.6 1403.7,162.7 1404.7,160.3 1405.7,159.2 1406.7,161.0 1407.7,161.9 1409.7,160.4 1410.7,161.3 1412.7,159.2 1413.7,159.7 1415.7,161.5 1416.7,161.4 1417.7,161.0 1418.7,161.4 1420.7,160.7 1421.7,158.6 1422.7,158.3 1423.7,159.8 1424.7,158.7 1426.7,159.4 1427.7,159.0 1429.7,159.9 1430.7,157.6 1431.7,160.1 1432.7,161.8 1433.7,159.9 1434.7,159.2 1435.7,160.2 1436.7,160.4 1437.7,158.1 1438.7,158.2 1440.7,158.8 1442.7,158.4 1443.7,157.4 1444.7,157.0 1445.7,156.2 1446.7,155.8 1447.7,156.0 1449.7,155.0 1450.7,156.4 1452.7,153.4 1453.7,154.4 1454.7,153.3 1455.7,153.3 1457.7,152.4 1459.7,150.6 1461.7,151.3 1462.7,147.8 1463.7,148.1 1464.7,148.1 1465.7,145.9 1466.7,145.4 1467.7,147.2 1468.7,145.8 1469.7,146.1 1471.7,142.6 1474.7,140.9 1476.7,137.8 1477.7,137.1 1478.7,137.1 1479.7,135.3 1480.7,132.2 1481.7,131.0 1482.7,130.4 1485.7,125.0 1486.7,124.3 1487.7,123.9 1488.7,123.0 1489.7,121.6 1490.7,121.5 1491.7,120.0 1492.7,120.9 1496.7,111.5 1498.7,114.0 1499.7,114.2 1500.7,112.0 1501.7,113.0 1502.7,111.8 1503.7,110.6 1504.7,108.2 1505.7,109.4 1507.7,110.7 1509.7,109.7 1510.7,111.7 1514.7,115.3 1516.7,113.9 1517.7,115.3 1518.7,118.8 1519.7,119.8 1520.7,119.7 1521.7,120.0 1523.7,122.0 1524.7,122.5 1525.7,123.9 1526.7,126.9 1527.7,126.6 1528.7,125.9 1529.7,126.1 1530.7,127.9 1531.7,130.4 1532.7,131.5 1533.7,131.5 1536.7,132.9 1537.7,135.3 1539.7,137.8 1540.7,136.1 1541.7,136.5 1542.7,137.9 1544.7,136.4 1545.7,137.3 1546.7,139.0 1547.7,139.9 1548.7,140.4 1549.7,141.8 1550.7,142.3 1552.7,141.6 1553.7,141.9 1554.7,143.0 1555.7,143.6 1556.7,143.3 1557.7,143.3 1559.7,141.6 1560.7,142.5 1561.7,144.4 1562.7,145.3 1563.7,146.0 1564.7,145.4 1566.7,146.8 1567.7,146.2 1568.7,144.8 1570.7,145.2 1571.7,144.8 1572.7,146.1 1573.7,146.7 1574.7,146.3 1575.7,147.5 1576.7,146.1 1577.7,145.4 1579.7,145.2 1581.7,146.5 1582.7,147.7 1584.7,146.5 1586.7,144.3 1587.7,145.0 1588.7,145.2 1589.7,146.5 1590.7,146.6 1591.7,147.7 1594.7,146.4 1595.7,146.3 1596.7,146.8 1597.7,146.6 1598.7,145.3 1600.7,147.8 1601.7,145.4 1603.7,142.7 1604.7,142.3 1605.7,143.8 1606.7,143.1 1607.7,143.0 1608.7,144.3 1609.7,143.8 1610.7,140.8 1611.7,141.0 1612.7,140.5 1615.7,138.2 1616.7,138.6 1618.7,136.2 1619.7,136.0 1621.7,133.5 1622.7,132.8 1623.7,132.9 1626.7,126.9 1628.7,124.5 1629.7,124.2 1630.7,122.7 1631.7,119.9 1633.7,120.4 1635.7,117.8 1636.7,118.4 1638.7,114.9 1639.7,114.8 1641.7,116.8 1642.7,116.6 1644.7,113.3 1645.7,113.1 1647.7,113.3 1648.7,112.7 1650.7,115.7 1651.7,115.7 1652.7,116.1 1653.7,115.3 1654.7,115.3 1655.7,117.2 1656.7,119.9 1657.7,120.5 1658.7,120.3 1659.7,121.8 1660.7,122.4 1661.7,124.5 1663.7,125.6 1664.7,127.4 1666.7,128.1 1667.7,129.4 1668.7,131.9 1669.7,133.1 1670.7,133.6 1671.7,134.5 1672.7,136.2 1673.7,135.4 1674.7,135.6 1675.7,138.0 1676.7,138.9 1678.7,135.9 1680.7,138.8 1682.7,139.8 1683.7,138.2 1684.7,138.9 1685.7,138.9 1686.7,140.0 1687.7,139.6 1688.7,139.7 1690.7,136.9 1691.7,137.1 1693.7,138.1 1694.7,140.2 1695.7,140.7 1697.7,137.9 1699.7,138.7 1700.7,140.2 1701.7,139.9 1702.7,139.4 1704.7,136.5 1706.7,137.7 1707.7,138.9 1708.7,138.9 1709.7,138.0 1710.7,138.8 1711.7,140.3" fill="none" stroke="#000" stroke-width="2.7" stroke-linejoin="round" stroke-linecap="round" />
<polyline points="1067.7,179.1 1129.7,176.5 1142.7,175.6 1153.7,174.1 1158.7,173.1 1163.7,171.9 1172.7,169.0 1180.7,165.6 1195.7,158.4 1202.7,155.6 1208.7,154.0 1213.7,153.3 1216.7,153.3 1220.7,153.7 1223.7,154.2 1227.7,155.2 1233.7,157.3 1246.7,162.7 1252.7,165.0 1259.7,167.2 1265.7,168.6 1272.7,169.8 1279.7,170.5 1288.7,170.8 1298.7,170.8 1349.7,169.4 1390.7,167.6 1426.7,164.8 1500.7,160.3 1567.7,155.2 1618.7,151.8 1661.7,149.4 1710.7,147.3" fill="none" stroke="#0000ff" stroke-width="2.4" stroke-linejoin="round" stroke-linecap="round" />
<polyline points="1067.7,178.7 1106.7,176.6 1117.7,175.8 1125.7,174.9 1131.7,173.7 1135.7,172.4 1139.7,170.3 1142.7,168.0 1145.7,164.8 1148.7,160.6 1151.7,155.0 1153.7,150.6 1156.7,142.7 1159.7,133.5 1168.7,101.9 1172.7,89.5 1174.7,84.8 1176.7,81.3 1177.7,80.2 1178.7,79.4 1179.7,79.1 1180.7,79.2 1181.7,79.7 1182.7,80.6 1184.7,83.7 1186.7,88.0 1188.7,93.5 1190.7,99.8 1197.7,124.1 1201.7,137.0 1205.7,147.8 1207.7,152.3 1209.7,156.1 1211.7,159.3 1213.7,162.0 1215.7,164.2 1218.7,166.7 1220.7,167.9 1223.7,169.2 1226.7,170.1 1230.7,170.8 1236.7,171.3 1245.7,171.6 1275.7,171.3 1341.7,169.5 1382.7,167.9 1395.7,167.2 1428.7,164.7 1499.7,160.3 1567.7,155.2 1619.7,151.7 1661.7,149.3 1710.7,147.3" fill="none" stroke="#ff0000" stroke-width="2.4" stroke-linejoin="round" stroke-linecap="round" />
<polyline points="1067.7,179.1 1173.7,175.1 1218.7,173.2 1242.7,171.8 1249.7,171.1 1255.7,170.2 1260.7,169.0 1265.7,167.0 1269.7,164.8 1273.7,161.9 1276.7,159.1 1280.7,154.8 1284.7,149.7 1291.7,140.3 1295.7,135.6 1297.7,133.7 1299.7,132.2 1301.7,131.3 1303.7,130.9 1305.7,131.1 1307.7,131.9 1309.7,133.3 1311.7,135.0 1314.7,138.3 1323.7,149.7 1327.7,154.3 1331.7,158.2 1335.7,161.3 1337.7,162.5 1340.7,164.0 1345.7,165.8 1351.7,166.9 1358.7,167.5 1373.7,167.6 1394.7,166.8 1424.7,164.7 1498.7,160.3 1568.7,155.1 1623.7,151.4 1664.7,149.2 1710.7,147.3" fill="none" stroke="#ff00ff" stroke-width="2.4" stroke-linejoin="round" stroke-linecap="round" />
<polyline points="1067.7,179.2 1262.7,172.2 1288.7,171.0 1301.7,169.9 1306.7,169.1 1310.7,168.0 1314.7,166.4 1317.7,164.7 1320.7,162.6 1323.7,159.9 1326.7,156.8 1332.7,150.0 1335.7,147.0 1338.7,144.8 1340.7,144.0 1341.7,143.8 1342.7,143.8 1344.7,144.3 1347.7,146.1 1350.7,148.7 1359.7,158.0 1363.7,161.3 1366.7,163.2 1370.7,165.0 1374.7,166.1 1379.7,166.7 1385.7,166.9 1397.7,166.6 1424.7,164.8 1493.7,160.7 1570.7,155.0 1628.7,151.1 1667.7,149.1 1710.7,147.3" fill="none" stroke="#ff8000" stroke-width="2.4" stroke-linejoin="round" stroke-linecap="round" />
<polyline points="1067.7,179.2 1192.7,174.7 1324.7,170.3 1327.7,170.1 1334.7,169.0 1365.7,166.8 1398.7,163.9 1414.7,162.2 1430.7,160.0 1443.7,157.6 1448.7,156.3 1452.7,155.1 1455.7,153.9 1459.7,152.1 1463.7,149.9 1467.7,147.5 1470.7,145.4 1473.7,142.9 1478.7,137.8 1482.7,132.7 1489.7,122.1 1491.7,119.7 1493.7,117.5 1497.7,114.0 1500.7,112.0 1503.7,110.7 1505.7,110.5 1507.7,110.8 1510.7,112.2 1512.7,113.8 1515.7,116.7 1517.7,119.2 1519.7,122.3 1524.7,131.6 1526.7,134.8 1529.7,138.4 1532.7,141.2 1536.7,144.1 1540.7,146.2 1546.7,148.5 1552.7,150.1 1558.7,150.8 1572.7,151.2 1620.7,151.2 1632.7,150.9 1673.7,148.8 1710.7,147.3" fill="none" stroke="#008000" stroke-width="2.4" stroke-linejoin="round" stroke-linecap="round" />
<polyline points="1063.1,374.4 1064.1,374.5 1065.1,375.2 1066.1,375.2 1067.1,375.8 1068.1,377.4 1069.1,377.9 1070.1,375.5 1072.1,376.9 1074.1,376.8 1075.1,377.1 1076.1,378.0 1077.1,377.2 1078.1,377.1 1081.1,377.7 1082.1,378.5 1085.1,377.3 1086.1,376.4 1087.1,376.2 1088.1,376.4 1089.1,377.3 1090.1,376.7 1091.1,376.5 1092.1,377.7 1093.1,377.7 1094.1,376.6 1095.1,378.7 1097.1,377.7 1098.1,378.4 1099.1,377.5 1100.1,377.4 1101.1,378.7 1102.1,376.6 1103.1,376.7 1104.1,377.1 1105.1,375.7 1106.1,376.0 1108.1,378.2 1109.1,375.7 1110.1,375.5 1111.1,376.0 1113.1,373.9 1114.1,374.7 1116.1,375.0 1117.1,375.5 1118.1,375.1 1120.1,373.0 1121.1,371.6 1123.1,371.7 1126.1,369.0 1127.1,370.1 1128.1,369.4 1129.1,366.1 1131.1,363.0 1132.1,362.4 1136.1,352.5 1137.1,349.1 1138.1,346.7 1142.1,332.1 1149.1,297.8 1151.1,284.0 1154.1,266.6 1155.1,258.1 1158.1,238.0 1159.1,227.8 1161.1,213.0 1162.1,208.3 1163.1,208.2 1164.1,209.0 1165.1,208.8 1166.1,209.3 1167.1,208.5 1168.1,208.5 1169.1,209.4 1170.1,213.0 1174.1,232.5 1176.1,243.9 1177.1,246.8 1178.1,250.9 1181.1,266.0 1182.1,267.2 1184.1,275.9 1185.1,277.4 1188.1,288.2 1189.1,288.4 1190.1,290.2 1191.1,295.0 1192.1,297.9 1193.1,297.7 1194.1,298.4 1195.1,302.7 1197.1,306.5 1199.1,308.1 1200.1,310.1 1201.1,313.5 1202.1,314.3 1203.1,312.6 1204.1,315.0 1205.1,318.8 1206.1,318.7 1207.1,318.9 1209.1,323.4 1211.1,326.4 1214.1,332.2 1215.1,333.2 1216.1,335.1 1218.1,340.3 1220.1,342.0 1222.1,345.1 1223.1,346.4 1224.1,347.3 1225.1,348.9 1226.1,349.1 1227.1,348.0 1228.1,348.2 1229.1,349.9 1230.1,350.3 1231.1,349.7 1232.1,348.5 1233.1,348.9 1234.1,351.5 1235.1,353.1 1236.1,353.0 1237.1,352.0 1238.1,353.5 1239.1,353.3 1240.1,353.9 1241.1,354.0 1244.1,351.5 1246.1,352.1 1247.1,353.9 1249.1,355.1 1251.1,353.6 1252.1,353.9 1253.1,353.8 1254.1,354.4 1255.1,354.0 1256.1,352.9 1257.1,353.4 1259.1,353.5 1260.1,354.8 1261.1,355.2 1262.1,353.4 1264.1,350.7 1265.1,352.0 1266.1,351.6 1267.1,350.4 1268.1,352.0 1269.1,352.2 1270.1,350.6 1271.1,349.8 1272.1,349.3 1273.1,349.4 1274.1,347.4 1275.1,347.9 1276.1,349.2 1280.1,343.4 1281.1,343.8 1282.1,343.5 1283.1,342.0 1285.1,343.1 1286.1,341.7 1287.1,338.5 1288.1,337.3 1289.1,337.1 1290.1,338.7 1291.1,338.6 1292.1,337.6 1293.1,335.5 1294.1,334.8 1295.1,335.8 1296.1,335.9 1297.1,335.2 1299.1,336.8 1300.1,336.2 1301.1,334.4 1302.1,333.6 1303.1,335.3 1304.1,336.2 1306.1,335.6 1307.1,335.8 1308.1,336.8 1310.1,336.2 1311.1,335.4 1313.1,336.2 1314.1,335.2 1315.1,334.9 1317.1,337.7 1318.1,337.7 1319.1,338.0 1322.1,334.8 1323.1,335.9 1324.1,337.7 1325.1,337.4 1327.1,337.2 1328.1,336.3 1329.1,335.9 1331.1,336.8 1333.1,336.4 1335.1,334.5 1337.1,334.2 1338.1,334.6 1339.1,332.6 1340.1,334.1 1341.1,336.2 1342.1,333.9 1343.1,332.5 1345.1,334.9 1346.1,334.3 1347.1,334.6 1348.1,334.7 1349.1,335.7 1350.1,338.7 1351.1,337.3 1352.1,336.5 1353.1,337.4 1354.1,339.1 1356.1,341.3 1358.1,341.2 1359.1,343.4 1360.1,344.4 1362.1,345.2 1364.1,348.2 1365.1,349.4 1366.1,349.5 1367.1,351.3 1368.1,352.0 1369.1,351.5 1370.1,352.0 1372.1,353.9 1373.1,352.2 1374.1,353.2 1375.1,353.4 1377.1,356.3 1378.1,355.6 1380.1,355.9 1381.1,358.0 1382.1,358.0 1383.1,357.1 1384.1,354.8 1385.1,354.9 1386.1,356.7 1388.1,355.8 1389.1,355.8 1390.1,355.1 1391.1,356.4 1393.1,356.3 1394.1,355.7 1395.1,356.1 1396.1,355.9 1397.1,357.2 1398.1,357.8 1400.1,357.2 1401.1,356.1 1402.1,354.0 1403.1,356.1 1404.1,356.3 1405.1,356.2 1407.1,354.8 1408.1,355.7 1409.1,357.4 1410.1,357.9 1411.1,356.1 1412.1,356.0 1413.1,357.5 1414.1,357.0 1415.1,358.5 1417.1,356.3 1418.1,358.1 1419.1,358.4 1420.1,356.6 1421.1,357.9 1422.1,357.7 1423.1,358.2 1424.1,356.6 1425.1,355.5 1427.1,358.8 1428.1,360.0 1429.1,359.7 1431.1,356.9 1435.1,355.4 1436.1,354.0 1439.1,358.6 1441.1,355.1 1442.1,354.8 1443.1,353.2 1444.1,352.4 1445.1,352.0 1446.1,354.1 1447.1,353.2 1448.1,351.1 1449.1,351.4 1450.1,352.0 1451.1,351.3 1452.1,350.0 1453.1,348.1 1454.1,347.3 1455.1,347.3 1456.1,346.6 1457.1,343.8 1458.1,342.2 1459.1,342.2 1460.1,339.9 1461.1,339.3 1462.1,337.6 1464.1,335.4 1466.1,330.1 1467.1,326.5 1468.1,324.3 1469.1,323.5 1470.1,322.1 1471.1,319.8 1472.1,317.1 1473.1,312.6 1474.1,309.3 1475.1,307.1 1477.1,300.9 1478.1,298.6 1479.1,297.8 1480.1,295.2 1481.1,293.7 1482.1,291.5 1483.1,291.0 1484.1,288.8 1485.1,287.7 1486.1,285.0 1487.1,284.8 1488.1,285.2 1489.1,283.5 1490.1,283.2 1492.1,281.5 1493.1,284.1 1494.1,285.4 1495.1,285.6 1496.1,287.5 1497.1,288.0 1498.1,289.1 1500.1,293.4 1501.1,296.3 1502.1,295.8 1503.1,298.6 1504.1,300.6 1505.1,299.8 1506.1,301.8 1507.1,305.9 1510.1,312.5 1511.1,312.3 1512.1,311.7 1513.1,311.8 1514.1,314.7 1515.1,315.8 1516.1,317.4 1517.1,318.0 1518.1,318.1 1519.1,321.1 1520.1,322.1 1521.1,321.6 1522.1,320.4 1524.1,322.0 1526.1,323.1 1527.1,325.1 1528.1,326.3 1530.1,327.6 1531.1,329.7 1532.1,329.2 1533.1,327.7 1535.1,332.6 1536.1,334.4 1537.1,334.5 1538.1,334.9 1539.1,335.9 1540.1,337.5 1542.1,337.6 1543.1,338.4 1544.1,339.8 1546.1,338.8 1547.1,340.7 1548.1,340.8 1551.1,343.8 1552.1,343.7 1553.1,342.5 1554.1,342.2 1555.1,342.5 1556.1,344.9 1558.1,345.4 1559.1,343.6 1560.1,342.7 1561.1,345.3 1563.1,344.8 1564.1,345.1 1565.1,345.7 1566.1,345.1 1567.1,343.9 1568.1,345.4 1569.1,344.8 1570.1,345.1 1571.1,347.1 1572.1,346.6 1573.1,344.7 1574.1,343.5 1575.1,345.1 1576.1,346.0 1578.1,344.0 1579.1,344.0 1580.1,344.2 1582.1,346.9 1583.1,346.8 1584.1,345.4 1586.1,346.2 1587.1,345.4 1588.1,346.2 1589.1,348.0 1590.1,347.1 1591.1,346.7 1592.1,345.8 1593.1,345.2 1594.1,344.2 1596.1,347.7 1597.1,348.7 1601.1,344.6 1603.1,345.1 1604.1,344.2 1605.1,344.5 1607.1,341.1 1608.1,341.0 1609.1,340.3 1610.1,340.7 1611.1,342.5 1612.1,341.7 1613.1,341.5 1614.1,342.1 1615.1,341.5 1616.1,339.9 1617.1,340.3 1620.1,337.5 1621.1,335.5 1622.1,335.2 1623.1,335.9 1624.1,336.0 1625.1,334.9 1626.1,334.7 1627.1,335.4 1628.1,335.5 1630.1,333.5 1631.1,331.3 1632.1,330.3 1633.1,330.0 1634.1,328.7 1635.1,328.2 1636.1,328.9 1638.1,325.1 1640.1,326.6 1641.1,325.1 1642.1,324.6 1643.1,322.9 1644.1,321.9 1645.1,321.6 1647.1,323.7 1648.1,322.4 1649.1,323.4 1650.1,322.2 1651.1,322.6 1652.1,324.1 1653.1,324.5 1655.1,322.8 1657.1,324.9 1658.1,327.5 1659.1,326.5 1661.1,325.4 1662.1,325.8 1663.1,326.3 1664.1,328.4 1666.1,329.3 1667.1,329.0 1668.1,330.0 1669.1,331.7 1670.1,330.5 1671.1,330.3 1672.1,332.3 1673.1,332.2 1675.1,334.7 1676.1,334.2 1677.1,334.9 1678.1,334.7 1679.1,336.3 1680.1,336.2 1681.1,334.5 1682.1,334.0 1683.1,333.8 1684.1,334.9 1685.1,335.3 1686.1,333.8 1687.1,334.6 1688.1,333.3 1689.1,332.7 1690.1,333.2 1691.1,336.1 1693.1,334.5 1694.1,334.2 1695.1,334.6 1696.1,332.7 1698.1,336.5 1699.1,334.7 1700.1,334.4 1701.1,334.7 1702.1,333.7 1704.1,335.2 1707.1,333.8 1709.1,334.5 1710.1,335.5 1711.1,334.9" fill="none" stroke="#000" stroke-width="2.7" stroke-linejoin="round" stroke-linecap="round" />
<polyline points="1099.0,376.0 1111.0,375.6 1118.0,375.2 1123.0,374.6 1127.0,373.6 1130.0,372.1 1133.0,369.7 1135.0,367.3 1136.0,365.7 1138.0,362.0 1140.0,357.1 1142.0,351.0 1144.0,343.5 1146.0,334.5 1150.0,312.6 1157.0,268.9 1160.0,253.4 1162.0,245.9 1163.0,243.2 1164.0,241.4 1165.0,240.4 1166.0,240.3 1167.0,241.0 1168.0,242.7 1169.0,245.2 1170.0,248.4 1172.0,256.9 1175.0,273.4 1181.0,310.9 1184.0,327.9 1187.0,342.0 1190.0,352.9 1193.0,360.7 1195.0,364.5 1197.0,367.3 1199.0,369.4 1201.0,370.9 1204.0,372.3 1207.0,373.1 1213.0,373.6 1222.0,373.4 1233.0,372.7 1258.0,370.7 1270.0,369.9 1385.0,364.5 1495.0,357.0 1534.0,354.6 1577.0,352.3 1641.0,349.4 1711.0,346.9" fill="none" stroke="#ff0000" stroke-width="2.4" stroke-linejoin="round" stroke-linecap="round" />
<polyline points="1099.0,376.0 1115.0,375.3 1121.0,374.7 1126.0,373.9 1131.0,372.7 1135.0,371.4 1139.0,369.6 1143.0,367.4 1147.0,364.7 1150.0,362.3 1153.0,359.6 1157.0,355.5 1163.0,348.4 1176.0,331.8 1179.0,328.3 1182.0,325.2 1185.0,322.6 1188.0,320.6 1191.0,319.3 1194.0,318.8 1197.0,319.1 1200.0,320.1 1203.0,321.8 1206.0,324.1 1209.0,326.9 1212.0,330.2 1225.0,345.6 1230.0,351.1 1236.0,356.8 1241.0,360.5 1244.0,362.3 1247.0,363.9 1253.0,366.1 1260.0,367.7 1269.0,368.6 1278.0,368.8 1291.0,368.5 1370.0,365.2 1402.0,363.4 1455.0,359.6 1496.0,356.9 1561.0,353.1 1629.0,349.9 1672.0,348.2 1711.0,346.9" fill="none" stroke="#0000ff" stroke-width="2.4" stroke-linejoin="round" stroke-linecap="round" />
<polyline points="1099.0,376.2 1146.0,375.7 1189.0,374.5 1210.0,373.3 1219.0,372.4 1227.0,371.1 1234.0,369.7 1241.0,368.0 1248.0,365.8 1254.0,363.6 1261.0,360.5 1268.0,357.0 1286.0,346.3 1292.0,343.1 1295.0,341.8 1298.0,340.7 1301.0,340.0 1304.0,339.7 1307.0,339.7 1310.0,340.2 1313.0,340.9 1316.0,341.9 1322.0,344.6 1334.0,350.6 1340.0,353.4 1347.0,356.2 1353.0,358.1 1360.0,359.8 1368.0,361.1 1376.0,361.8 1385.0,362.2 1398.0,362.1 1416.0,361.3 1525.0,354.9 1598.0,351.1 1655.0,348.7 1711.0,346.8" fill="none" stroke="#ff00ff" stroke-width="2.4" stroke-linejoin="round" stroke-linecap="round" />
<polyline points="1099.0,376.6 1154.0,376.2 1209.0,375.0 1225.0,373.9 1260.0,370.6 1293.0,368.2 1307.0,366.9 1313.0,366.1 1317.0,365.2 1321.0,363.9 1324.0,362.6 1327.0,360.8 1330.0,358.5 1340.0,349.1 1342.0,347.7 1343.0,347.3 1345.0,346.9 1347.0,347.3 1349.0,348.4 1351.0,349.9 1359.0,356.9 1362.0,358.9 1366.0,360.9 1370.0,362.2 1374.0,362.9 1379.0,363.3 1385.0,363.4 1396.0,363.2 1411.0,362.5 1510.0,356.0 1584.0,351.9 1646.0,349.2 1711.0,346.9" fill="none" stroke="#ff8000" stroke-width="2.4" stroke-linejoin="round" stroke-linecap="round" />
<polyline points="1099.0,376.6 1158.0,376.1 1197.0,375.4 1212.0,374.9 1225.0,374.0 1253.0,371.3 1266.0,370.3 1295.0,368.7 1362.0,365.4 1393.0,363.5 1410.0,362.1 1425.0,360.6 1436.0,359.3 1444.0,357.9 1448.0,356.9 1451.0,355.8 1454.0,354.5 1456.0,353.3 1458.0,351.8 1460.0,350.1 1462.0,348.0 1464.0,345.4 1466.0,342.5 1468.0,339.1 1472.0,330.8 1475.0,323.6 1482.0,305.4 1485.0,298.6 1487.0,295.0 1489.0,292.4 1490.0,291.6 1491.0,291.1 1492.0,290.9 1493.0,291.1 1494.0,291.6 1495.0,292.4 1496.0,293.5 1498.0,296.6 1501.0,302.8 1509.0,322.4 1512.0,329.1 1515.0,335.0 1518.0,339.8 1521.0,343.5 1523.0,345.5 1525.0,347.1 1527.0,348.4 1529.0,349.4 1533.0,350.7 1537.0,351.5 1543.0,352.0 1551.0,352.1 1562.0,352.0 1666.0,348.2 1711.0,346.8" fill="none" stroke="#008000" stroke-width="2.4" stroke-linejoin="round" stroke-linecap="round" />
<polyline points="1099.0,376.6 1157.0,376.1 1194.0,375.5 1211.0,375.0 1224.0,374.1 1254.0,371.3 1268.0,370.3 1298.0,368.6 1366.0,365.4 1396.0,363.7 1426.0,361.4 1467.0,357.9 1477.0,356.8 1485.0,355.6 1491.0,354.3 1497.0,352.4 1502.0,350.3 1507.0,347.6 1519.0,339.6 1523.0,337.3 1527.0,335.6 1530.0,335.2 1533.0,335.4 1537.0,336.7 1540.0,338.2 1551.0,344.3 1555.0,346.2 1558.0,347.3 1561.0,348.3 1565.0,349.2 1569.0,349.9 1574.0,350.4 1584.0,350.7 1599.0,350.4 1711.0,346.8" fill="none" stroke="#8000ff" stroke-width="2.4" stroke-linejoin="round" stroke-linecap="round" />
<polyline points="1063.1,571.5 1064.1,570.5 1065.1,573.2 1066.1,573.9 1067.1,572.2 1068.1,571.1 1070.1,574.4 1071.1,573.5 1072.1,573.9 1074.1,576.3 1076.1,575.0 1077.1,575.4 1078.1,577.3 1079.1,577.1 1081.1,573.9 1082.1,574.5 1083.1,575.7 1084.1,575.4 1085.1,576.4 1087.1,576.2 1088.1,576.5 1089.1,576.0 1090.1,574.8 1091.1,575.8 1092.1,577.4 1093.1,575.0 1094.1,575.1 1095.1,576.4 1097.1,574.3 1098.1,574.2 1099.1,576.0 1100.1,577.2 1101.1,577.3 1102.1,576.5 1103.1,576.3 1104.1,575.0 1105.1,575.2 1106.1,575.0 1108.1,576.7 1109.1,576.5 1110.1,575.2 1111.1,576.1 1113.1,573.8 1114.1,573.9 1115.1,573.2 1116.1,574.0 1117.1,574.4 1118.1,574.0 1119.1,574.0 1121.1,572.4 1122.1,571.2 1123.1,571.6 1124.1,570.9 1125.1,570.8 1126.1,571.0 1127.1,570.3 1128.1,568.2 1129.1,567.6 1130.1,568.5 1131.1,569.0 1133.1,568.4 1134.1,567.8 1137.1,561.8 1138.1,560.6 1140.1,559.9 1141.1,558.7 1143.1,555.5 1144.1,554.4 1147.1,548.4 1149.1,542.5 1150.1,541.1 1153.1,531.1 1154.1,528.9 1155.1,523.0 1158.1,509.2 1160.1,502.9 1165.1,473.6 1167.1,460.4 1169.1,450.0 1172.1,428.5 1174.1,421.4 1176.1,410.1 1177.1,406.5 1179.1,402.0 1181.1,400.0 1182.1,400.9 1183.1,401.3 1184.1,400.2 1185.1,403.2 1187.1,407.5 1191.1,425.1 1193.1,440.3 1201.1,478.8 1202.1,480.9 1204.1,486.9 1205.1,487.5 1206.1,490.1 1212.1,512.5 1214.1,516.2 1215.1,519.7 1216.1,522.2 1217.1,523.3 1219.1,528.8 1220.1,530.5 1221.1,533.0 1222.1,533.8 1223.1,533.2 1225.1,535.4 1226.1,537.1 1227.1,537.7 1228.1,539.8 1230.1,541.7 1231.1,541.0 1232.1,541.0 1233.1,543.5 1234.1,543.6 1235.1,544.5 1236.1,544.4 1237.1,544.9 1238.1,545.9 1239.1,545.4 1240.1,545.2 1241.1,543.7 1242.1,544.9 1244.1,544.8 1245.1,545.2 1246.1,546.2 1247.1,546.5 1248.1,544.2 1250.1,545.4 1251.1,546.6 1252.1,545.9 1254.1,545.9 1255.1,546.7 1256.1,546.9 1257.1,545.7 1259.1,544.3 1260.1,545.5 1261.1,545.9 1262.1,545.1 1263.1,544.9 1264.1,542.1 1265.1,541.1 1267.1,542.5 1268.1,542.9 1271.1,542.3 1273.1,538.7 1274.1,538.7 1275.1,539.6 1276.1,535.8 1277.1,535.7 1278.1,536.4 1280.1,531.1 1282.1,529.3 1283.1,526.8 1284.1,522.5 1288.1,510.8 1289.1,505.8 1290.1,502.3 1292.1,502.6 1293.1,500.7 1294.1,499.8 1295.1,499.8 1296.1,497.0 1297.1,496.6 1298.1,495.5 1299.1,495.2 1301.1,496.0 1302.1,494.1 1303.1,493.4 1304.1,493.5 1305.1,495.3 1307.1,496.5 1308.1,496.2 1310.1,499.6 1311.1,499.9 1312.1,501.0 1313.1,501.6 1314.1,500.9 1315.1,500.8 1316.1,503.2 1317.1,503.9 1318.1,503.8 1319.1,501.5 1320.1,501.1 1321.1,501.5 1323.1,506.0 1324.1,506.3 1325.1,505.9 1327.1,506.9 1328.1,506.5 1329.1,506.9 1330.1,506.3 1331.1,504.6 1333.1,507.9 1334.1,506.5 1336.1,504.5 1337.1,504.2 1338.1,504.5 1341.1,497.8 1342.1,498.7 1343.1,498.2 1344.1,499.0 1345.1,502.3 1346.1,503.2 1347.1,502.8 1348.1,506.1 1349.1,507.8 1350.1,508.7 1351.1,510.9 1352.1,511.3 1353.1,513.3 1354.1,516.1 1356.1,524.6 1357.1,526.1 1358.1,528.4 1360.1,534.8 1362.1,539.7 1363.1,540.4 1364.1,541.5 1366.1,546.1 1367.1,547.0 1369.1,551.3 1370.1,550.1 1371.1,550.6 1372.1,551.7 1373.1,550.3 1374.1,549.5 1375.1,549.8 1376.1,551.4 1377.1,551.9 1378.1,551.4 1379.1,551.8 1380.1,553.1 1381.1,552.4 1382.1,550.5 1384.1,552.1 1385.1,552.5 1387.1,551.1 1389.1,550.1 1390.1,551.3 1392.1,552.1 1393.1,551.2 1395.1,550.9 1396.1,551.2 1397.1,552.6 1399.1,552.4 1400.1,551.5 1401.1,551.7 1402.1,550.7 1405.1,553.0 1407.1,552.7 1408.1,553.4 1409.1,553.1 1411.1,553.4 1412.1,552.5 1413.1,552.2 1414.1,552.5 1415.1,552.1 1417.1,553.7 1418.1,553.3 1419.1,551.6 1420.1,550.6 1423.1,552.8 1424.1,551.7 1425.1,551.6 1426.1,552.1 1427.1,551.3 1428.1,551.7 1429.1,553.5 1430.1,553.5 1433.1,550.3 1434.1,551.1 1435.1,551.1 1437.1,550.1 1439.1,550.2 1441.1,551.6 1442.1,550.1 1443.1,547.8 1445.1,547.0 1446.1,547.8 1447.1,549.0 1448.1,548.7 1449.1,547.6 1450.1,547.4 1452.1,544.7 1453.1,544.3 1455.1,546.3 1456.1,544.7 1457.1,545.9 1458.1,545.8 1459.1,543.9 1461.1,542.0 1463.1,542.1 1464.1,541.4 1465.1,541.6 1466.1,541.1 1467.1,539.5 1470.1,535.7 1471.1,533.8 1472.1,533.7 1474.1,531.1 1475.1,531.4 1476.1,528.0 1477.1,526.0 1478.1,525.0 1479.1,522.1 1481.1,519.0 1483.1,516.9 1485.1,514.0 1487.1,509.0 1489.1,502.2 1490.1,500.3 1491.1,496.7 1492.1,494.4 1493.1,494.1 1497.1,484.8 1498.1,481.0 1500.1,477.1 1502.1,475.1 1503.1,475.6 1505.1,472.9 1507.1,472.7 1509.1,475.4 1510.1,475.2 1511.1,474.1 1513.1,478.0 1514.1,479.2 1515.1,480.2 1516.1,479.9 1517.1,482.0 1518.1,483.3 1520.1,487.9 1521.1,489.7 1522.1,490.7 1523.1,492.4 1524.1,493.0 1525.1,494.7 1526.1,498.1 1527.1,499.5 1528.1,499.9 1529.1,502.3 1531.1,509.4 1532.1,511.2 1533.1,511.7 1534.1,511.3 1536.1,516.1 1537.1,517.4 1539.1,518.9 1540.1,521.3 1541.1,521.9 1542.1,520.7 1543.1,520.9 1544.1,523.4 1545.1,523.0 1546.1,524.7 1547.1,525.6 1548.1,524.0 1550.1,525.1 1552.1,527.2 1553.1,528.7 1555.1,527.7 1556.1,528.5 1557.1,527.7 1558.1,528.3 1559.1,530.1 1560.1,528.2 1561.1,527.9 1562.1,528.4 1563.1,527.3 1564.1,527.2 1565.1,529.5 1566.1,529.0 1567.1,528.9 1568.1,529.1 1569.1,528.7 1570.1,529.0 1572.1,533.3 1574.1,531.4 1575.1,529.7 1576.1,530.2 1577.1,530.3 1578.1,531.6 1581.1,531.3 1582.1,530.5 1583.1,530.1 1584.1,531.3 1585.1,530.1 1586.1,530.0 1587.1,530.7 1588.1,530.9 1590.1,532.5 1592.1,531.2 1594.1,530.5 1595.1,528.5 1596.1,529.0 1598.1,527.3 1599.1,527.8 1600.1,527.7 1601.1,528.3 1602.1,527.5 1603.1,524.5 1604.1,525.8 1605.1,527.6 1607.1,525.6 1609.1,520.2 1610.1,519.5 1611.1,520.4 1612.1,519.5 1613.1,516.8 1615.1,514.2 1616.1,511.4 1617.1,511.4 1618.1,512.6 1619.1,511.6 1620.1,508.7 1621.1,507.7 1623.1,501.6 1624.1,499.7 1625.1,500.7 1626.1,500.0 1627.1,500.2 1630.1,492.3 1631.1,492.8 1634.1,485.8 1635.1,486.9 1636.1,486.2 1637.1,483.8 1638.1,483.0 1640.1,482.3 1641.1,481.3 1642.1,481.2 1643.1,478.9 1646.1,474.1 1647.1,475.6 1648.1,477.7 1650.1,477.1 1651.1,477.9 1652.1,477.4 1654.1,482.2 1655.1,483.4 1656.1,483.7 1658.1,488.6 1659.1,488.5 1660.1,489.8 1661.1,489.5 1662.1,491.1 1663.1,495.2 1664.1,497.4 1666.1,500.2 1669.1,507.5 1670.1,506.7 1671.1,507.0 1672.1,510.5 1673.1,512.2 1674.1,513.2 1675.1,514.7 1676.1,517.2 1678.1,516.9 1679.1,516.0 1682.1,519.3 1683.1,519.7 1684.1,519.6 1685.1,520.7 1686.1,519.0 1687.1,518.9 1688.1,519.3 1689.1,518.6 1690.1,520.0 1691.1,520.3 1692.1,520.2 1693.1,521.4 1695.1,519.6 1696.1,518.2 1697.1,517.4 1699.1,518.8 1701.1,519.1 1702.1,516.7 1703.1,516.6 1704.1,517.2 1705.1,519.3 1707.1,517.3 1708.1,517.3 1709.1,518.4 1710.1,517.8 1711.1,517.8" fill="none" stroke="#000" stroke-width="2.7" stroke-linejoin="round" stroke-linecap="round" />
<polyline points="1107.2,576.3 1120.2,575.6 1129.2,574.9 1134.2,574.2 1138.2,573.1 1140.2,572.3 1142.2,571.2 1145.2,568.7 1148.2,564.8 1150.2,561.1 1153.2,553.4 1155.2,546.6 1157.2,538.4 1159.2,528.7 1162.2,511.5 1170.2,458.4 1173.2,441.2 1175.2,432.5 1176.2,429.2 1177.2,426.8 1178.2,425.2 1179.2,424.5 1180.2,424.8 1181.2,425.9 1182.2,427.9 1183.2,430.8 1185.2,438.8 1188.2,455.2 1195.2,501.4 1198.2,519.6 1201.2,534.9 1204.2,546.8 1207.2,555.6 1209.2,559.9 1211.2,563.2 1213.2,565.6 1215.2,567.4 1218.2,569.1 1221.2,570.0 1226.2,570.7 1232.2,570.9 1244.2,570.8 1262.2,570.3 1314.2,568.1 1369.2,565.0 1413.2,562.0 1456.2,558.6 1479.2,556.4 1533.2,550.6 1561.2,548.1 1605.2,544.9 1643.2,542.4 1678.2,540.5 1711.2,539.0" fill="none" stroke="#ff0000" stroke-width="2.4" stroke-linejoin="round" stroke-linecap="round" />
<polyline points="1107.2,576.7 1125.2,575.8 1138.2,574.6 1148.2,573.0 1153.2,571.9 1157.2,570.7 1165.2,567.7 1173.2,563.7 1180.2,559.4 1194.2,550.1 1201.2,546.1 1205.2,544.3 1208.2,543.3 1211.2,542.6 1214.2,542.2 1217.2,542.2 1221.2,542.7 1224.2,543.5 1228.2,544.9 1235.2,548.3 1249.2,556.4 1255.2,559.6 1262.2,562.7 1268.2,564.8 1275.2,566.5 1282.2,567.5 1290.2,568.1 1300.2,568.3 1316.2,567.8 1341.2,566.6 1372.2,564.8 1404.2,562.6 1461.2,558.1 1531.2,550.8 1559.2,548.2 1603.2,545.0 1642.2,542.5 1678.2,540.5 1711.2,539.0" fill="none" stroke="#0000ff" stroke-width="2.4" stroke-linejoin="round" stroke-linecap="round" />
<polyline points="1107.2,576.7 1171.2,573.9 1195.2,572.6 1215.2,571.3 1230.2,569.9 1240.2,568.7 1248.2,567.1 1254.2,565.3 1259.2,563.0 1262.2,561.1 1264.2,559.6 1268.2,556.0 1272.2,551.4 1276.2,545.6 1280.2,538.8 1292.2,515.2 1296.2,508.3 1298.2,505.6 1300.2,503.5 1302.2,502.2 1304.2,501.8 1306.2,502.2 1308.2,503.4 1310.2,505.4 1312.2,508.1 1316.2,514.7 1325.2,531.8 1329.2,538.8 1334.2,546.1 1338.2,550.8 1340.2,552.7 1343.2,555.2 1346.2,557.1 1349.2,558.6 1352.2,559.7 1355.2,560.6 1359.2,561.3 1363.2,561.8 1373.2,562.2 1387.2,562.1 1406.2,561.4 1430.2,560.0 1452.2,558.4 1467.2,557.1 1533.2,550.3 1560.2,548.0 1605.2,544.7 1643.2,542.3 1678.2,540.4 1711.2,538.9" fill="none" stroke="#ff00ff" stroke-width="2.4" stroke-linejoin="round" stroke-linecap="round" />
<polyline points="1107.2,576.9 1186.2,573.9 1251.2,570.8 1270.2,569.6 1285.2,568.5 1296.2,567.3 1304.2,565.9 1309.2,564.5 1313.2,562.8 1317.2,560.0 1320.2,557.1 1323.2,553.3 1326.2,548.6 1329.2,543.1 1335.2,531.1 1337.2,527.7 1339.2,525.2 1340.2,524.4 1341.2,523.9 1342.2,523.7 1343.2,523.9 1344.2,524.4 1345.2,525.3 1347.2,527.8 1349.2,531.1 1355.2,542.3 1358.2,547.4 1361.2,551.7 1364.2,555.0 1366.2,556.7 1368.2,558.1 1372.2,560.0 1377.2,561.2 1384.2,561.8 1393.2,561.9 1404.2,561.6 1419.2,560.9 1437.2,559.8 1469.2,557.2 1532.2,550.6 1559.2,548.2 1603.2,545.0 1642.2,542.4 1678.2,540.4 1711.2,539.0" fill="none" stroke="#ff8000" stroke-width="2.4" stroke-linejoin="round" stroke-linecap="round" />
<polyline points="1107.2,576.9 1172.2,574.5 1241.2,571.6 1296.2,568.9 1340.2,566.4 1379.2,563.7 1411.2,560.9 1435.2,558.1 1443.2,556.9 1450.2,555.5 1454.2,554.4 1458.2,553.1 1461.2,551.7 1464.2,550.1 1467.2,548.0 1469.2,546.3 1472.2,543.3 1474.2,540.9 1478.2,535.2 1480.2,531.8 1483.2,526.1 1487.2,517.5 1496.2,496.4 1499.2,490.2 1501.2,486.8 1503.2,484.2 1505.2,482.5 1506.2,482.1 1507.2,481.9 1508.2,482.0 1509.2,482.3 1511.2,483.7 1513.2,486.1 1515.2,489.2 1518.2,494.8 1529.2,517.9 1533.2,525.0 1537.2,530.8 1541.2,535.3 1545.2,538.6 1549.2,540.9 1554.2,542.7 1559.2,543.7 1565.2,544.3 1573.2,544.6 1584.2,544.4 1604.2,543.7 1672.2,540.3 1711.2,538.7" fill="none" stroke="#008000" stroke-width="2.4" stroke-linejoin="round" stroke-linecap="round" />
<polyline points="1067.7,746.3 1068.7,748.5 1071.7,749.3 1072.7,748.1 1073.7,747.9 1074.7,748.7 1075.7,748.5 1076.7,747.8 1078.7,747.6 1079.7,748.7 1080.7,749.0 1081.7,748.7 1082.7,749.1 1083.7,746.8 1084.7,747.6 1085.7,749.2 1086.7,747.3 1087.7,746.4 1088.7,748.7 1089.7,748.2 1090.7,746.8 1091.7,747.6 1092.7,746.3 1093.7,745.8 1094.7,746.7 1095.7,746.5 1096.7,746.0 1097.7,746.3 1098.7,746.2 1099.7,747.0 1101.7,747.8 1103.7,745.2 1104.7,745.2 1106.7,748.6 1107.7,748.0 1108.7,746.7 1109.7,747.1 1110.7,746.2 1111.7,747.1 1112.7,746.7 1113.7,747.3 1114.7,747.2 1115.7,746.4 1116.7,746.1 1117.7,745.2 1118.7,746.0 1120.7,750.6 1122.7,745.7 1123.7,745.0 1124.7,745.7 1125.7,743.9 1126.7,744.1 1127.7,744.9 1128.7,744.4 1129.7,746.2 1130.7,745.7 1131.7,743.5 1133.7,740.8 1134.7,740.4 1135.7,741.6 1136.7,741.5 1139.7,738.0 1140.7,737.2 1141.7,735.3 1142.7,735.7 1143.7,736.6 1144.7,735.3 1145.7,732.3 1146.7,731.1 1147.7,731.7 1148.7,730.1 1149.7,725.8 1150.7,724.4 1151.7,724.0 1152.7,722.6 1153.7,719.3 1155.7,715.6 1156.7,714.7 1158.7,706.7 1159.7,703.7 1160.7,701.7 1161.7,697.7 1163.7,687.8 1168.7,658.8 1169.7,654.0 1171.7,647.0 1173.7,637.4 1174.7,634.6 1175.7,629.3 1176.7,626.8 1177.7,627.4 1178.7,626.9 1179.7,625.6 1181.7,621.5 1182.7,622.1 1183.7,623.3 1184.7,623.2 1186.7,625.0 1187.7,627.4 1188.7,631.3 1189.7,633.2 1190.7,633.9 1191.7,636.3 1193.7,643.9 1195.7,648.9 1196.7,650.5 1198.7,659.0 1199.7,662.0 1200.7,662.8 1201.7,665.6 1202.7,669.4 1204.7,673.6 1207.7,682.7 1208.7,684.5 1209.7,685.5 1211.7,689.7 1212.7,690.7 1214.7,696.8 1215.7,697.7 1216.7,701.2 1218.7,704.3 1220.7,708.5 1221.7,710.3 1222.7,710.6 1223.7,711.9 1224.7,714.2 1225.7,717.5 1226.7,718.0 1227.7,717.3 1229.7,719.4 1232.7,724.0 1233.7,721.9 1234.7,723.6 1235.7,723.8 1236.7,723.0 1238.7,723.6 1239.7,724.5 1240.7,725.1 1241.7,724.0 1242.7,725.6 1243.7,725.7 1244.7,726.8 1245.7,726.7 1246.7,727.1 1248.7,727.1 1249.7,726.1 1250.7,725.4 1252.7,727.8 1253.7,728.0 1254.7,725.0 1256.7,727.2 1257.7,725.7 1258.7,726.8 1259.7,729.3 1260.7,728.7 1261.7,727.0 1262.7,728.5 1263.7,729.0 1266.7,727.2 1267.7,726.1 1268.7,726.3 1269.7,727.1 1271.7,727.2 1273.7,721.3 1275.7,722.3 1276.7,721.5 1278.7,718.4 1279.7,718.6 1280.7,716.4 1281.7,715.2 1283.7,710.0 1284.7,708.7 1285.7,703.8 1286.7,702.2 1287.7,701.6 1288.7,699.7 1289.7,698.7 1290.7,696.9 1291.7,696.1 1292.7,696.8 1293.7,694.4 1295.7,690.9 1296.7,690.8 1297.7,691.8 1298.7,691.7 1299.7,690.7 1300.7,690.3 1301.7,690.7 1302.7,689.4 1304.7,690.7 1305.7,690.7 1306.7,691.5 1307.7,691.3 1308.7,692.1 1309.7,694.6 1311.7,695.0 1312.7,694.6 1314.7,695.9 1316.7,697.7 1317.7,696.0 1318.7,695.9 1319.7,694.9 1320.7,692.5 1321.7,694.3 1322.7,696.9 1323.7,698.0 1324.7,697.9 1325.7,699.5 1326.7,700.0 1327.7,699.2 1328.7,700.8 1329.7,701.5 1330.7,700.0 1331.7,699.0 1332.7,700.3 1334.7,698.1 1336.7,696.8 1337.7,697.2 1339.7,696.2 1341.7,693.1 1342.7,693.7 1343.7,694.8 1344.7,695.4 1345.7,698.0 1346.7,696.7 1347.7,696.8 1348.7,699.3 1349.7,700.3 1350.7,700.5 1351.7,701.4 1353.7,705.5 1355.7,707.8 1357.7,712.8 1358.7,713.5 1359.7,712.2 1361.7,717.4 1364.7,723.5 1365.7,724.3 1366.7,724.6 1368.7,728.1 1369.7,727.5 1371.7,730.6 1372.7,729.6 1373.7,728.0 1374.7,729.6 1376.7,730.4 1377.7,731.6 1379.7,730.8 1380.7,731.6 1382.7,731.1 1384.7,731.1 1385.7,730.5 1387.7,730.5 1388.7,729.6 1389.7,729.9 1390.7,731.8 1392.7,730.8 1395.7,731.0 1397.7,730.4 1398.7,731.3 1399.7,730.8 1400.7,731.0 1401.7,728.9 1402.7,729.4 1403.7,731.3 1405.7,730.1 1406.7,730.5 1407.7,729.8 1408.7,729.6 1409.7,728.2 1411.7,729.9 1412.7,731.0 1413.7,731.1 1414.7,730.3 1415.7,731.4 1417.7,727.1 1418.7,727.5 1419.7,730.7 1420.7,730.1 1421.7,728.9 1422.7,728.4 1423.7,728.8 1424.7,730.5 1425.7,730.4 1426.7,731.1 1428.7,727.1 1429.7,729.0 1430.7,728.8 1431.7,729.0 1432.7,730.2 1433.7,729.3 1434.7,729.6 1436.7,727.7 1437.7,728.2 1438.7,728.0 1439.7,729.2 1440.7,729.1 1441.7,728.2 1442.7,728.3 1444.7,727.4 1445.7,727.7 1446.7,727.1 1447.7,726.9 1448.7,725.8 1449.7,726.3 1450.7,726.3 1451.7,725.2 1452.7,724.9 1454.7,725.5 1455.7,724.6 1457.7,726.1 1459.7,722.2 1461.7,723.8 1462.7,722.8 1463.7,723.1 1464.7,722.6 1467.7,719.3 1468.7,719.0 1470.7,718.9 1471.7,718.1 1472.7,716.8 1473.7,716.2 1474.7,715.1 1475.7,712.5 1478.7,710.1 1481.7,705.9 1482.7,705.6 1483.7,703.7 1484.7,700.7 1486.7,698.8 1487.7,699.1 1489.7,694.7 1492.7,690.9 1493.7,690.3 1494.7,688.0 1496.7,684.5 1497.7,681.7 1498.7,681.7 1499.7,680.2 1501.7,676.1 1502.7,676.2 1504.7,675.1 1505.7,677.0 1507.7,675.0 1508.7,675.6 1509.7,676.8 1510.7,677.4 1511.7,677.5 1512.7,678.5 1513.7,678.5 1514.7,676.6 1515.7,676.7 1516.7,677.4 1518.7,681.5 1519.7,681.5 1520.7,680.8 1522.7,684.6 1523.7,684.7 1525.7,687.0 1526.7,687.0 1527.7,689.9 1528.7,691.5 1529.7,692.2 1530.7,691.8 1531.7,692.5 1533.7,695.9 1535.7,698.7 1536.7,701.2 1537.7,701.7 1538.7,700.6 1539.7,701.8 1540.7,704.5 1541.7,704.8 1542.7,706.7 1543.7,707.6 1544.7,706.4 1545.7,706.8 1546.7,707.5 1547.7,707.1 1548.7,707.3 1550.7,709.9 1551.7,709.3 1553.7,709.1 1554.7,709.4 1555.7,710.9 1556.7,708.9 1558.7,711.3 1559.7,710.6 1560.7,712.4 1561.7,713.2 1562.7,711.9 1563.7,712.0 1564.7,711.7 1565.7,713.0 1567.7,713.8 1568.7,714.8 1569.7,714.8 1570.7,715.2 1571.7,714.3 1572.7,712.9 1573.7,713.9 1574.7,714.0 1575.7,713.2 1576.7,714.9 1577.7,714.8 1579.7,713.5 1581.7,714.4 1583.7,713.5 1584.7,712.5 1585.7,714.4 1587.7,711.1 1590.7,713.5 1591.7,712.8 1593.7,713.0 1594.7,715.0 1596.7,714.3 1597.7,712.2 1598.7,712.1 1599.7,711.4 1600.7,712.2 1601.7,711.8 1602.7,709.4 1605.7,708.0 1606.7,708.1 1608.7,706.5 1609.7,707.2 1610.7,706.7 1611.7,704.3 1612.7,703.7 1613.7,703.4 1615.7,701.0 1616.7,701.3 1617.7,700.6 1619.7,697.8 1620.7,698.5 1621.7,697.2 1622.7,694.1 1623.7,693.1 1624.7,692.9 1625.7,690.9 1626.7,690.4 1627.7,689.3 1630.7,684.5 1632.7,682.9 1633.7,685.3 1634.7,684.9 1636.7,681.4 1638.7,680.6 1639.7,679.7 1640.7,678.2 1641.7,676.3 1642.7,676.3 1644.7,674.1 1645.7,674.4 1646.7,676.2 1647.7,676.8 1648.7,675.9 1649.7,678.5 1650.7,679.1 1651.7,677.6 1652.7,677.7 1654.7,680.4 1655.7,679.8 1656.7,679.8 1657.7,680.9 1658.7,680.5 1660.7,685.3 1661.7,686.0 1664.7,689.6 1666.7,690.6 1668.7,694.4 1669.7,697.2 1670.7,698.9 1672.7,698.2 1673.7,699.0 1675.7,703.1 1676.7,703.1 1677.7,702.6 1678.7,702.9 1679.7,704.6 1680.7,705.0 1681.7,705.0 1683.7,707.4 1684.7,707.1 1685.7,708.5 1686.7,708.6 1687.7,707.8 1688.7,708.1 1690.7,706.6 1692.7,706.8 1693.7,707.8 1695.7,708.4 1696.7,707.6 1697.7,704.9 1698.7,706.2 1699.7,705.9 1700.7,706.8 1701.7,706.7 1702.7,707.7 1703.7,708.2 1704.7,706.1 1705.7,706.8 1706.7,706.5 1707.7,705.4 1708.7,707.0 1709.7,706.9 1710.7,706.0 1711.7,705.7" fill="none" stroke="#000" stroke-width="2.7" stroke-linejoin="round" stroke-linecap="round" />
<polyline points="1067.7,748.1 1109.7,747.1 1123.7,746.6 1131.7,746.0 1136.7,745.3 1140.7,744.2 1143.7,742.8 1146.7,740.5 1149.7,737.0 1151.7,733.9 1154.7,727.5 1156.7,722.1 1158.7,715.7 1161.7,704.3 1164.7,691.0 1170.7,662.7 1173.7,650.4 1175.7,644.0 1177.7,639.5 1178.7,638.0 1179.7,637.2 1180.7,637.0 1181.7,637.4 1182.7,638.4 1183.7,640.0 1184.7,642.2 1186.7,648.0 1189.7,659.6 1196.7,692.1 1199.7,705.0 1202.7,716.1 1205.7,724.8 1207.7,729.5 1209.7,733.2 1211.7,736.1 1213.7,738.4 1215.7,740.0 1217.7,741.3 1220.7,742.5 1223.7,743.2 1228.7,743.7 1234.7,743.9 1260.7,743.7 1304.7,742.4 1354.7,740.5 1395.7,738.3 1453.7,734.8 1530.7,729.2 1558.7,727.4 1641.7,723.3 1677.7,721.9 1710.7,720.8" fill="none" stroke="#ff0000" stroke-width="2.4" stroke-linejoin="round" stroke-linecap="round" />
<polyline points="1067.7,748.0 1108.7,747.1 1136.7,746.0 1144.7,745.5 1151.7,744.8 1156.7,744.0 1161.7,742.9 1165.7,741.7 1169.7,740.1 1173.7,738.1 1176.7,736.2 1180.7,733.3 1184.7,730.0 1197.7,717.6 1201.7,714.2 1204.7,712.1 1206.7,711.1 1209.7,710.1 1211.7,709.9 1213.7,710.0 1215.7,710.5 1217.7,711.4 1220.7,713.1 1225.7,717.0 1235.7,726.2 1240.7,730.4 1245.7,733.9 1250.7,736.7 1256.7,739.1 1262.7,740.6 1270.7,741.6 1279.7,742.1 1294.7,742.1 1317.7,741.5 1345.7,740.6 1372.7,739.4 1407.7,737.5 1455.7,734.6 1529.7,729.2 1558.7,727.4 1641.7,723.3 1677.7,721.9 1710.7,720.8" fill="none" stroke="#0000ff" stroke-width="2.4" stroke-linejoin="round" stroke-linecap="round" />
<polyline points="1067.7,748.2 1142.7,746.7 1205.7,744.8 1224.7,744.0 1239.7,743.0 1249.7,742.0 1256.7,740.7 1261.7,739.3 1266.7,737.1 1270.7,734.5 1274.7,731.1 1277.7,728.0 1281.7,723.0 1285.7,717.1 1293.7,704.6 1296.7,700.5 1298.7,698.3 1300.7,696.7 1302.7,695.7 1303.7,695.5 1304.7,695.5 1306.7,696.0 1308.7,697.3 1310.7,699.1 1314.7,704.1 1322.7,716.1 1326.7,721.6 1331.7,727.3 1335.7,730.8 1337.7,732.2 1340.7,733.9 1345.7,735.9 1350.7,737.1 1357.7,737.9 1365.7,738.1 1377.7,738.1 1411.7,736.8 1461.7,734.0 1531.7,729.0 1559.7,727.3 1641.7,723.3 1677.7,721.8 1710.7,720.8" fill="none" stroke="#ff00ff" stroke-width="2.4" stroke-linejoin="round" stroke-linecap="round" />
<polyline points="1067.7,748.3 1148.7,746.8 1230.7,744.7 1256.7,743.7 1276.7,742.8 1290.7,741.8 1299.7,740.8 1304.7,739.8 1309.7,738.2 1313.7,736.1 1316.7,734.1 1319.7,731.4 1323.7,726.9 1332.7,714.5 1335.7,710.7 1338.7,708.0 1340.7,707.1 1341.7,707.0 1342.7,707.1 1344.7,707.8 1345.7,708.4 1347.7,710.2 1350.7,713.7 1356.7,721.7 1359.7,725.4 1363.7,729.5 1366.7,731.9 1370.7,734.2 1374.7,735.7 1379.7,736.7 1385.7,737.2 1394.7,737.2 1406.7,736.9 1445.7,735.0 1472.7,733.4 1542.7,728.3 1593.7,725.6 1655.7,722.7 1710.7,720.8" fill="none" stroke="#ff8000" stroke-width="2.4" stroke-linejoin="round" stroke-linecap="round" />
<polyline points="1067.7,748.2 1131.7,747.2 1204.7,745.5 1259.7,743.9 1311.7,742.0 1353.7,740.1 1389.7,737.8 1421.7,735.2 1432.7,734.1 1441.7,732.8 1450.7,731.0 1454.7,729.9 1458.7,728.4 1461.7,727.1 1464.7,725.5 1467.7,723.5 1470.7,721.2 1475.7,716.5 1480.7,710.7 1485.7,703.9 1495.7,689.2 1500.7,682.8 1503.7,680.0 1505.7,678.6 1507.7,677.8 1509.7,677.5 1511.7,677.7 1513.7,678.5 1515.7,679.8 1518.7,682.5 1522.7,687.2 1531.7,699.1 1535.7,704.2 1540.7,709.7 1544.7,713.3 1548.7,716.3 1552.7,718.6 1557.7,720.7 1562.7,722.1 1568.7,723.1 1574.7,723.6 1582.7,723.9 1593.7,723.9 1618.7,723.3 1710.7,720.5" fill="none" stroke="#008000" stroke-width="2.4" stroke-linejoin="round" stroke-linecap="round" />
<polyline points="1063.0,889.1 1065.0,883.8 1067.0,885.2 1069.0,885.4 1070.0,885.1 1071.0,886.0 1073.0,884.2 1074.0,884.6 1076.0,886.8 1077.0,886.6 1078.0,885.8 1079.0,885.9 1081.0,887.8 1082.0,886.1 1084.0,886.5 1085.0,885.3 1086.0,885.8 1087.0,886.0 1088.0,885.7 1090.0,887.4 1091.0,887.2 1092.0,886.1 1093.0,886.7 1094.0,887.8 1095.0,885.5 1096.0,885.9 1097.0,886.8 1098.0,886.4 1100.0,886.3 1101.0,886.9 1102.0,887.1 1103.0,885.9 1108.0,884.7 1110.0,888.0 1111.0,888.1 1113.0,885.4 1114.0,886.3 1115.0,885.1 1116.0,885.6 1117.0,886.8 1118.0,885.1 1119.0,885.8 1120.0,885.7 1121.0,884.8 1122.0,884.4 1123.0,885.1 1124.0,885.1 1125.0,886.3 1126.0,886.1 1127.0,883.8 1129.0,884.0 1130.0,883.2 1131.0,883.3 1132.0,884.4 1133.0,884.0 1134.0,882.7 1136.0,884.2 1137.0,882.6 1138.0,882.8 1139.0,885.0 1140.0,884.1 1141.0,880.8 1142.0,880.1 1143.0,880.9 1144.0,879.6 1146.0,879.2 1147.0,878.4 1148.0,874.9 1149.0,873.4 1151.0,874.7 1153.0,869.3 1154.0,869.3 1155.0,868.1 1157.0,863.3 1159.0,861.2 1161.0,856.4 1164.0,848.1 1165.0,846.5 1167.0,841.8 1168.0,840.6 1169.0,838.5 1171.0,832.7 1172.0,832.1 1174.0,828.0 1175.0,827.2 1176.0,827.9 1177.0,826.7 1178.0,824.3 1179.0,823.5 1181.0,825.6 1182.0,827.3 1183.0,825.8 1184.0,826.0 1185.0,828.7 1187.0,832.3 1189.0,837.1 1190.0,836.7 1191.0,837.2 1192.0,838.4 1194.0,844.9 1195.0,846.3 1196.0,848.6 1197.0,850.0 1198.0,852.0 1199.0,852.1 1200.0,851.6 1201.0,852.3 1202.0,852.5 1203.0,853.6 1205.0,859.2 1206.0,860.7 1207.0,859.8 1208.0,859.5 1209.0,860.0 1210.0,862.3 1211.0,862.8 1212.0,862.8 1213.0,864.3 1214.0,864.5 1215.0,863.5 1216.0,865.7 1217.0,866.4 1218.0,866.3 1219.0,867.4 1220.0,870.1 1221.0,871.2 1222.0,871.0 1223.0,868.8 1224.0,869.4 1225.0,870.9 1226.0,869.9 1227.0,869.8 1228.0,870.5 1229.0,873.9 1230.0,874.5 1233.0,873.2 1234.0,873.6 1235.0,874.5 1236.0,874.4 1237.0,875.6 1238.0,874.7 1239.0,874.8 1240.0,876.6 1241.0,876.3 1242.0,876.5 1244.0,874.3 1245.0,876.1 1246.0,876.1 1247.0,877.2 1248.0,875.4 1249.0,875.0 1250.0,877.2 1251.0,877.9 1253.0,876.5 1254.0,877.3 1255.0,875.8 1257.0,875.7 1259.0,876.8 1260.0,875.8 1261.0,876.3 1262.0,875.7 1263.0,873.1 1264.0,872.8 1265.0,873.3 1267.0,872.9 1268.0,871.4 1269.0,872.9 1270.0,873.1 1272.0,869.8 1273.0,870.1 1274.0,869.8 1275.0,869.9 1279.0,867.3 1280.0,863.9 1281.0,863.7 1282.0,864.3 1283.0,862.9 1284.0,863.2 1285.0,861.9 1286.0,861.7 1287.0,860.8 1288.0,860.7 1289.0,860.9 1290.0,860.3 1291.0,860.4 1292.0,861.7 1293.0,859.7 1294.0,858.3 1295.0,859.6 1297.0,860.4 1298.0,860.2 1299.0,858.3 1300.0,859.4 1301.0,859.8 1303.0,857.6 1304.0,855.3 1306.0,859.5 1307.0,857.2 1308.0,857.5 1310.0,859.9 1311.0,859.9 1312.0,857.6 1314.0,859.3 1315.0,857.9 1316.0,859.1 1317.0,861.4 1318.0,861.2 1320.0,856.9 1322.0,859.8 1323.0,859.5 1324.0,860.8 1325.0,863.1 1326.0,860.8 1327.0,859.6 1328.0,860.5 1330.0,860.5 1332.0,861.9 1333.0,861.2 1334.0,859.9 1336.0,861.2 1337.0,860.9 1338.0,861.9 1339.0,861.4 1340.0,859.8 1341.0,861.0 1342.0,862.9 1343.0,862.4 1344.0,861.0 1345.0,861.1 1346.0,859.9 1347.0,859.7 1348.0,862.0 1349.0,863.2 1353.0,866.0 1355.0,869.0 1357.0,869.7 1358.0,868.4 1359.0,869.9 1360.0,873.1 1361.0,874.3 1363.0,872.8 1364.0,872.6 1365.0,874.6 1366.0,875.3 1367.0,874.3 1368.0,875.9 1369.0,876.9 1370.0,876.5 1371.0,875.7 1372.0,876.3 1373.0,876.0 1374.0,878.0 1376.0,876.5 1377.0,878.6 1378.0,878.8 1379.0,878.0 1380.0,879.2 1381.0,877.5 1382.0,878.0 1383.0,878.2 1384.0,876.2 1385.0,877.9 1386.0,878.0 1388.0,876.7 1389.0,877.3 1390.0,876.4 1391.0,876.2 1393.0,876.9 1394.0,878.4 1395.0,876.7 1396.0,876.4 1399.0,878.8 1400.0,878.7 1401.0,877.5 1402.0,877.2 1404.0,878.8 1405.0,878.5 1406.0,876.7 1407.0,876.2 1408.0,879.5 1409.0,879.4 1410.0,878.4 1411.0,878.0 1412.0,877.0 1413.0,876.4 1414.0,877.0 1415.0,877.2 1417.0,875.9 1419.0,878.0 1421.0,876.9 1422.0,875.6 1423.0,876.8 1424.0,877.1 1425.0,875.9 1426.0,875.7 1427.0,877.3 1428.0,877.2 1429.0,877.8 1430.0,877.6 1431.0,878.0 1433.0,876.0 1434.0,876.9 1436.0,877.8 1437.0,877.0 1438.0,877.0 1439.0,878.3 1440.0,878.8 1442.0,878.3 1443.0,877.8 1445.0,877.8 1447.0,876.5 1448.0,877.1 1449.0,878.4 1450.0,876.6 1451.0,875.3 1452.0,875.1 1453.0,875.3 1454.0,875.0 1455.0,873.3 1456.0,872.5 1457.0,873.7 1458.0,873.0 1461.0,875.5 1462.0,875.7 1464.0,872.3 1465.0,871.2 1467.0,871.4 1468.0,870.1 1469.0,871.2 1470.0,871.8 1471.0,871.9 1472.0,871.0 1473.0,870.5 1476.0,867.5 1478.0,869.8 1481.0,865.8 1482.0,866.3 1483.0,864.7 1484.0,864.6 1486.0,861.9 1487.0,862.5 1489.0,860.8 1490.0,860.2 1492.0,858.0 1493.0,857.6 1495.0,855.5 1497.0,852.2 1499.0,851.8 1500.0,852.1 1501.0,852.0 1502.0,849.6 1503.0,849.4 1504.0,847.8 1506.0,848.7 1507.0,847.4 1508.0,848.1 1509.0,850.5 1510.0,851.3 1511.0,851.2 1512.0,851.9 1513.0,854.2 1514.0,853.1 1515.0,853.0 1516.0,855.4 1518.0,855.0 1519.0,856.3 1520.0,856.4 1521.0,856.8 1523.0,856.3 1524.0,858.1 1525.0,858.0 1526.0,857.2 1527.0,858.1 1528.0,859.9 1529.0,859.8 1531.0,861.5 1533.0,860.5 1534.0,862.6 1535.0,863.9 1537.0,865.2 1538.0,864.6 1540.0,865.7 1541.0,865.0 1542.0,866.6 1543.0,867.2 1544.0,866.9 1545.0,867.5 1547.0,865.4 1548.0,866.8 1550.0,866.9 1551.0,867.3 1552.0,868.3 1554.0,866.8 1555.0,867.8 1556.0,868.1 1557.0,867.0 1559.0,867.3 1560.0,867.5 1563.0,871.1 1565.0,870.4 1566.0,870.6 1567.0,870.4 1568.0,869.1 1569.0,869.5 1570.0,869.4 1572.0,868.2 1575.0,867.7 1576.0,868.9 1580.0,869.3 1581.0,868.3 1582.0,867.8 1583.0,866.2 1584.0,865.1 1585.0,866.3 1586.0,868.7 1587.0,867.2 1589.0,869.6 1590.0,868.7 1591.0,870.1 1592.0,870.6 1593.0,870.2 1594.0,870.6 1596.0,867.2 1597.0,867.6 1599.0,865.4 1600.0,866.2 1601.0,868.7 1602.0,867.1 1603.0,866.4 1604.0,866.0 1605.0,866.3 1606.0,866.0 1608.0,864.0 1609.0,863.4 1610.0,864.0 1612.0,866.8 1614.0,865.8 1617.0,860.7 1618.0,860.4 1619.0,858.8 1621.0,861.7 1623.0,860.2 1625.0,856.6 1627.0,857.2 1628.0,858.5 1629.0,858.4 1630.0,855.5 1631.0,854.5 1632.0,854.2 1634.0,852.1 1635.0,852.7 1636.0,852.9 1637.0,852.0 1638.0,850.4 1640.0,849.3 1641.0,850.5 1642.0,849.6 1644.0,849.6 1645.0,849.3 1646.0,848.6 1647.0,849.1 1648.0,852.0 1649.0,851.9 1650.0,852.3 1651.0,853.7 1652.0,852.6 1653.0,852.6 1654.0,853.0 1655.0,854.1 1658.0,854.0 1659.0,855.2 1660.0,855.8 1661.0,854.2 1663.0,856.6 1665.0,856.5 1666.0,858.6 1667.0,858.6 1668.0,859.0 1669.0,858.8 1670.0,858.2 1671.0,858.8 1672.0,858.3 1674.0,860.2 1677.0,861.9 1678.0,863.6 1680.0,860.4 1681.0,860.5 1683.0,861.4 1684.0,861.1 1685.0,861.6 1686.0,863.5 1688.0,861.9 1689.0,861.9 1690.0,862.5 1691.0,863.8 1692.0,863.6 1693.0,862.6 1694.0,859.7 1696.0,864.0 1697.0,864.4 1699.0,860.4 1700.0,861.5 1702.0,859.2 1703.0,860.4 1704.0,862.3 1705.0,862.6 1707.0,860.4 1708.0,861.9 1709.0,859.5 1710.0,858.7 1711.0,858.3 1712.0,860.0" fill="none" stroke="#000" stroke-width="2.7" stroke-linejoin="round" stroke-linecap="round" />
<polyline points="1063.0,886.0 1105.0,885.8 1131.0,885.3 1137.0,884.9 1141.0,884.3 1144.0,883.5 1147.0,882.3 1150.0,880.3 1152.0,878.5 1155.0,874.9 1157.0,871.8 1159.0,868.1 1162.0,861.6 1170.0,841.2 1173.0,834.5 1175.0,831.1 1176.0,829.8 1177.0,828.8 1178.0,828.2 1179.0,827.9 1180.0,828.0 1181.0,828.4 1182.0,829.1 1183.0,830.2 1185.0,833.3 1188.0,839.6 1195.0,857.4 1198.0,864.4 1201.0,870.3 1204.0,875.0 1206.0,877.4 1208.0,879.3 1210.0,880.7 1212.0,881.8 1216.0,883.2 1219.0,883.8 1222.0,884.1 1232.0,884.4 1252.0,884.3 1318.0,883.0 1351.0,882.1 1457.0,878.8 1524.0,876.8 1623.0,874.3 1711.0,872.2" fill="none" stroke="#ff0000" stroke-width="2.4" stroke-linejoin="round" stroke-linecap="round" />
<polyline points="1063.0,886.0 1132.0,885.7 1203.0,884.9 1238.0,884.0 1249.0,883.5 1257.0,882.9 1262.0,882.2 1267.0,881.1 1271.0,879.9 1275.0,878.2 1278.0,876.5 1282.0,873.9 1286.0,870.9 1294.0,864.3 1297.0,862.1 1299.0,861.0 1301.0,860.2 1304.0,859.8 1307.0,860.3 1309.0,861.1 1311.0,862.2 1314.0,864.2 1325.0,872.6 1329.0,875.1 1333.0,877.0 1337.0,878.5 1342.0,879.7 1347.0,880.3 1354.0,880.8 1369.0,880.8 1398.0,880.3 1580.0,875.3 1711.0,872.2" fill="none" stroke="#ff00ff" stroke-width="2.4" stroke-linejoin="round" stroke-linecap="round" />
<polyline points="1063.0,886.1 1136.0,885.8 1224.0,884.8 1270.0,883.8 1286.0,883.1 1297.0,882.5 1303.0,881.8 1308.0,880.9 1312.0,879.8 1316.0,878.2 1319.0,876.7 1323.0,874.2 1333.0,866.5 1336.0,864.5 1339.0,863.1 1342.0,862.5 1345.0,862.9 1348.0,864.2 1351.0,866.0 1358.0,871.1 1362.0,873.7 1366.0,875.9 1369.0,877.1 1373.0,878.3 1377.0,879.1 1382.0,879.6 1388.0,879.9 1401.0,879.9 1424.0,879.5 1596.0,874.9 1711.0,872.2" fill="none" stroke="#ff8000" stroke-width="2.4" stroke-linejoin="round" stroke-linecap="round" />
<polyline points="1063.0,886.1 1112.0,885.9 1170.0,885.5 1226.0,884.9 1268.0,884.1 1358.0,881.7 1416.0,879.5 1444.0,877.9 1452.0,877.1 1459.0,876.0 1465.0,874.5 1470.0,872.6 1475.0,870.2 1480.0,867.0 1484.0,864.0 1493.0,856.8 1497.0,854.0 1501.0,852.0 1503.0,851.5 1505.0,851.3 1507.0,851.5 1509.0,851.9 1513.0,853.8 1517.0,856.4 1528.0,864.6 1532.0,867.1 1536.0,869.2 1540.0,870.8 1544.0,872.1 1549.0,873.2 1554.0,873.8 1560.0,874.3 1567.0,874.5 1589.0,874.5 1711.0,872.1" fill="none" stroke="#008000" stroke-width="2.4" stroke-linejoin="round" stroke-linecap="round" />
<polyline points="1063.0,885.9 1101.0,885.7 1131.0,885.3 1147.0,884.7 1158.0,883.8 1166.0,882.6 1174.0,880.8 1182.0,878.2 1197.0,872.3 1202.0,870.6 1207.0,869.3 1212.0,868.8 1217.0,869.1 1223.0,870.4 1228.0,872.0 1244.0,877.8 1250.0,879.6 1256.0,880.9 1262.0,881.9 1269.0,882.6 1276.0,883.0 1285.0,883.1 1307.0,882.9 1346.0,882.1 1526.0,876.8 1624.0,874.2 1711.0,872.2" fill="none" stroke="#0000ff" stroke-width="2.4" stroke-linejoin="round" stroke-linecap="round" />
</g>
<line x1="819.9" y1="70.6" x2="836.2" y2="101.5" stroke="#3a3a3a" stroke-width="1.3"/>
<polygon points="819.4,69.7 820.7,75.3 823.3,73.9" fill="#222"/>
<line x1="880.1" y1="75.5" x2="865.5" y2="104" stroke="#3a3a3a" stroke-width="1.3"/>
<polygon points="880.6,74.6 876.7,78.8 879.4,80.2" fill="#222"/>
<line x1="813.2" y1="228.9" x2="831.7" y2="259.7" stroke="#3a3a3a" stroke-width="1.3"/>
<polygon points="812.7,228.0 814.2,233.5 816.8,232.0" fill="#222"/>
<line x1="879.7" y1="231.4" x2="858.2" y2="300.3" stroke="#3a3a3a" stroke-width="1.3"/>
<polygon points="880.0,230.4 876.9,235.2 879.8,236.1" fill="#222"/>
<line x1="816.4" y1="462.7" x2="834.1" y2="508.3" stroke="#3a3a3a" stroke-width="1.3"/>
<polygon points="816.0,461.8 816.6,467.4 819.4,466.4" fill="#222"/>
<line x1="877.2" y1="464.5" x2="859.2" y2="515.6" stroke="#3a3a3a" stroke-width="1.3"/>
<polygon points="877.5,463.6 874.3,468.2 877.1,469.2" fill="#222"/>
<line x1="815.3" y1="680.9" x2="832.5" y2="708.5" stroke="#3a3a3a" stroke-width="1.3"/>
<polygon points="814.8,680.1 816.4,685.5 819.0,683.9" fill="#222"/>
<line x1="871.9" y1="676.8" x2="858.5" y2="711.2" stroke="#3a3a3a" stroke-width="1.3"/>
<polygon points="872.3,675.9 868.9,680.4 871.7,681.5" fill="#222"/>
<line x1="817.4" y1="832" x2="832.4" y2="862.1" stroke="#3a3a3a" stroke-width="1.3"/>
<polygon points="817.0,831.1 818.1,836.7 820.7,835.4" fill="#222"/>
<line x1="869.2" y1="829.5" x2="860.6" y2="850.2" stroke="#3a3a3a" stroke-width="1.3"/>
<polygon points="869.6,828.6 866.1,833.1 868.9,834.2" fill="#222"/>
<g font-family='"Liberation Sans", Arial, sans-serif' font-weight="bold" fill="#000">
<text x="614.7" y="83.3" font-size="12.0" textLength="23.3" lengthAdjust="spacing">2P<tspan font-size="7.2" dy="3.4">3/2</tspan></text>
<text x="616.7" y="99" font-size="12.0" textLength="18.9" lengthAdjust="spacing" xml:space="preserve">Fe<tspan font-size="5.8" dy="-4.3">3+</tspan></text>
<text x="686.2" y="66.2" font-size="12.0" textLength="23.4" lengthAdjust="spacing">2P<tspan font-size="7.2" dy="3.4">3/2</tspan></text>
<text x="687.9" y="81.9" font-size="12.0" textLength="18.9" lengthAdjust="spacing" xml:space="preserve">Fe<tspan font-size="5.8" dy="-4.3">3+</tspan></text>
<text x="750.6" y="78.1" font-size="12.0" textLength="23.8" lengthAdjust="spacing">2P<tspan font-size="7.2" dy="3.4">3/2</tspan></text>
<text x="745.7" y="95.3" font-size="12.0" textLength="33.6" lengthAdjust="spacing" xml:space="preserve">Fe Sat.</text>
<text x="804.3" y="54.3" font-size="12.0" textLength="23.3" lengthAdjust="spacing">2P<tspan font-size="7.2" dy="3.4">1/2</tspan></text>
<text x="806" y="69.9" font-size="12.0" textLength="19.1" lengthAdjust="spacing" xml:space="preserve">Fe<tspan font-size="5.8" dy="-4.3">3+</tspan></text>
<text x="871.9" y="56.8" font-size="12.0" textLength="23.1" lengthAdjust="spacing">2P<tspan font-size="7.2" dy="3.4">1/2</tspan></text>
<text x="873.9" y="73.2" font-size="12.0" textLength="19.3" lengthAdjust="spacing" xml:space="preserve">Fe<tspan font-size="5.8" dy="-4.3">3+</tspan></text>
<text x="954" y="65.8" font-size="12.0" textLength="23.8" lengthAdjust="spacing">2P<tspan font-size="7.2" dy="3.4">1/2</tspan></text>
<text x="945" y="82.2" font-size="12.0" textLength="41.8" lengthAdjust="spacing" xml:space="preserve">Fe<tspan font-size="5.8" dy="-4.3">3+</tspan><tspan dy="4.3"> Sat.</tspan></text>
<text x="613.2" y="245" font-size="12.0" textLength="23.4" lengthAdjust="spacing">2P<tspan font-size="7.2" dy="3.4">3/2</tspan></text>
<text x="614.5" y="260.4" font-size="12.0" textLength="19.7" lengthAdjust="spacing" xml:space="preserve">Fe<tspan font-size="5.8" dy="-4.3">3+</tspan></text>
<text x="688.3" y="238.3" font-size="12.0" textLength="23.4" lengthAdjust="spacing">2P<tspan font-size="7.2" dy="3.4">3/2</tspan></text>
<text x="689.6" y="253.5" font-size="12.0" textLength="18.4" lengthAdjust="spacing" xml:space="preserve">Fe<tspan font-size="5.8" dy="-4.3">3+</tspan></text>
<text x="747.4" y="248.1" font-size="12.0" textLength="23.4" lengthAdjust="spacing">2P<tspan font-size="7.2" dy="3.4">3/2</tspan></text>
<text x="742.5" y="264.6" font-size="12.0" textLength="33.7" lengthAdjust="spacing" xml:space="preserve">Fe Sat.</text>
<text x="797.2" y="211.2" font-size="12.0" textLength="23.4" lengthAdjust="spacing">2P<tspan font-size="7.2" dy="3.4">1/2</tspan></text>
<text x="799.2" y="226.4" font-size="12.0" textLength="20.2" lengthAdjust="spacing" xml:space="preserve">Fe<tspan font-size="5.8" dy="-4.3">3+</tspan></text>
<text x="872.3" y="214.1" font-size="12.0" textLength="23.3" lengthAdjust="spacing">2P<tspan font-size="7.2" dy="3.4">1/2</tspan></text>
<text x="873.5" y="229.4" font-size="12.0" textLength="19.7" lengthAdjust="spacing" xml:space="preserve">Fe<tspan font-size="5.8" dy="-4.3">3+</tspan></text>
<text x="946.1" y="227.7" font-size="12.0" textLength="23.4" lengthAdjust="spacing">2P<tspan font-size="7.2" dy="3.4">1/2</tspan></text>
<text x="936.3" y="242.4" font-size="12.0" textLength="41.8" lengthAdjust="spacing" xml:space="preserve">Fe<tspan font-size="5.8" dy="-4.3">3+</tspan><tspan dy="4.3"> Sat.</tspan></text>
<text x="616.4" y="466.5" font-size="12.0" textLength="22.7" lengthAdjust="spacing">2P<tspan font-size="7.2" dy="3.4">3/2</tspan></text>
<text x="617.7" y="482" font-size="12.0" textLength="20.2" lengthAdjust="spacing" xml:space="preserve">Fe<tspan font-size="5.8" dy="-4.3">3+</tspan></text>
<text x="689.6" y="471.4" font-size="12.0" textLength="23.4" lengthAdjust="spacing">2P<tspan font-size="7.2" dy="3.4">3/2</tspan></text>
<text x="691.3" y="487.4" font-size="12.0" textLength="19.2" lengthAdjust="spacing" xml:space="preserve">Fe<tspan font-size="5.8" dy="-4.3">3+</tspan></text>
<text x="749.4" y="482" font-size="12.0" textLength="23.4" lengthAdjust="spacing">2P<tspan font-size="7.2" dy="3.4">3/2</tspan></text>
<text x="743.7" y="497.7" font-size="12.0" textLength="34.0" lengthAdjust="spacing" xml:space="preserve">Fe Sat.</text>
<text x="799.2" y="444.3" font-size="12.0" textLength="23.1" lengthAdjust="spacing">2P<tspan font-size="7.2" dy="3.4">1/2</tspan></text>
<text x="800.4" y="459.8" font-size="12.0" textLength="19.0" lengthAdjust="spacing" xml:space="preserve">Fe<tspan font-size="5.8" dy="-4.3">3+</tspan></text>
<text x="870.6" y="444.3" font-size="12.0" textLength="23.1" lengthAdjust="spacing">2P<tspan font-size="7.2" dy="3.4">1/2</tspan></text>
<text x="872.3" y="459.8" font-size="12.0" textLength="19.7" lengthAdjust="spacing" xml:space="preserve">Fe<tspan font-size="5.8" dy="-4.3">3+</tspan></text>
<text x="953.5" y="460.3" font-size="12.0" textLength="23.4" lengthAdjust="spacing">2P<tspan font-size="7.2" dy="3.4">1/2</tspan></text>
<text x="943.6" y="475" font-size="12.0" textLength="41.9" lengthAdjust="spacing" xml:space="preserve">Fe<tspan font-size="5.8" dy="-4.3">3+</tspan><tspan dy="4.3"> Sat.</tspan></text>
<text x="612" y="682.5" font-size="12.0" textLength="23.4" lengthAdjust="spacing">2P<tspan font-size="7.2" dy="3.4">3/2</tspan></text>
<text x="614.1" y="698.1" font-size="12.0" textLength="19.2" lengthAdjust="spacing" xml:space="preserve">Fe<tspan font-size="5.8" dy="-4.3">3+</tspan></text>
<text x="685" y="667.7" font-size="12.0" textLength="22.6" lengthAdjust="spacing">2P<tspan font-size="7.2" dy="3.4">3/2</tspan></text>
<text x="685.8" y="683.3" font-size="12.0" textLength="20.5" lengthAdjust="spacing" xml:space="preserve">Fe<tspan font-size="5.8" dy="-4.3">3+</tspan></text>
<text x="748.2" y="680" font-size="12.0" textLength="22.9" lengthAdjust="spacing">2P<tspan font-size="7.2" dy="3.4">3/2</tspan></text>
<text x="743.2" y="696.4" font-size="12.0" textLength="33.7" lengthAdjust="spacing" xml:space="preserve">Fe Sat.</text>
<text x="800.5" y="663.6" font-size="12.0" textLength="23.5" lengthAdjust="spacing">2P<tspan font-size="7.2" dy="3.4">1/2</tspan></text>
<text x="802.2" y="679.2" font-size="12.0" textLength="19.7" lengthAdjust="spacing" xml:space="preserve">Fe<tspan font-size="5.8" dy="-4.3">3+</tspan></text>
<text x="864.5" y="657.9" font-size="12.0" textLength="23.0" lengthAdjust="spacing">2P<tspan font-size="7.2" dy="3.4">1/2</tspan></text>
<text x="866.2" y="674" font-size="12.0" textLength="18.8" lengthAdjust="spacing" xml:space="preserve">Fe<tspan font-size="5.8" dy="-4.3">3+</tspan></text>
<text x="952" y="668.1" font-size="12.0" textLength="23.3" lengthAdjust="spacing">2P<tspan font-size="7.2" dy="3.4">1/2</tspan></text>
<text x="942.5" y="683.8" font-size="12.0" textLength="42.7" lengthAdjust="spacing" xml:space="preserve">Fe<tspan font-size="5.8" dy="-4.3">3+</tspan><tspan dy="4.3"> Sat.</tspan></text>
<text x="617.6" y="828.6" font-size="12.0" textLength="23.5" lengthAdjust="spacing">2P<tspan font-size="7.2" dy="3.4">3/2</tspan></text>
<text x="619.6" y="844.5" font-size="12.0" textLength="19.1" lengthAdjust="spacing" xml:space="preserve">Fe<tspan font-size="5.8" dy="-4.3">3+</tspan></text>
<text x="683.3" y="821.4" font-size="12.0" textLength="22.6" lengthAdjust="spacing">2P<tspan font-size="7.2" dy="3.4">3/2</tspan></text>
<text x="684.9" y="836.6" font-size="12.0" textLength="19.1" lengthAdjust="spacing" xml:space="preserve">Fe<tspan font-size="5.8" dy="-4.3">3+</tspan></text>
<text x="749.4" y="829.7" font-size="12.0" textLength="23.4" lengthAdjust="spacing">2P<tspan font-size="7.2" dy="3.4">3/2</tspan></text>
<text x="744.6" y="845.6" font-size="12.0" textLength="33.5" lengthAdjust="spacing" xml:space="preserve">Fe Sat.</text>
<text x="807.3" y="811.6" font-size="12.0" textLength="23.5" lengthAdjust="spacing">2P<tspan font-size="7.2" dy="3.4">1/2</tspan></text>
<text x="809.3" y="827.9" font-size="12.0" textLength="19.5" lengthAdjust="spacing" xml:space="preserve">Fe<tspan font-size="5.8" dy="-4.3">3+</tspan></text>
<text x="859.8" y="808.4" font-size="12.0" textLength="23.6" lengthAdjust="spacing">2P<tspan font-size="7.2" dy="3.4">1/2</tspan></text>
<text x="861.4" y="824.7" font-size="12.0" textLength="19.5" lengthAdjust="spacing" xml:space="preserve">Fe<tspan font-size="5.8" dy="-4.3">3+</tspan></text>
<text x="956.6" y="819" font-size="12.0" textLength="23.6" lengthAdjust="spacing">2P<tspan font-size="7.2" dy="3.4">1/2</tspan></text>
<text x="947.3" y="834.9" font-size="12.0" textLength="41.9" lengthAdjust="spacing" xml:space="preserve">Fe<tspan font-size="5.8" dy="-4.3">3+</tspan><tspan dy="4.3"> Sat.</tspan></text>
<text x="1152.1" y="43.4" font-size="13.6" textLength="28.8" lengthAdjust="spacing">2P<tspan font-size="8.6" dy="4.8">3/2</tspan></text>
<text x="1153.1" y="62.6" font-size="13.6" textLength="25.9" lengthAdjust="spacing" xml:space="preserve">Cu<tspan font-size="7.0" dy="-5.0">2+</tspan></text>
<text x="1225.4" y="125.1" font-size="13.6" textLength="28.4" lengthAdjust="spacing">2P<tspan font-size="8.6" dy="4.8">3/2</tspan></text>
<text x="1226.5" y="144.3" font-size="13.6" textLength="25.4" lengthAdjust="spacing" xml:space="preserve">Cu<tspan font-size="7.0" dy="-5.0">2+</tspan></text>
<text x="1282.9" y="99.4" font-size="13.6" textLength="28.3" lengthAdjust="spacing">2P<tspan font-size="8.6" dy="4.8">3/2</tspan></text>
<text x="1269.3" y="118.9" font-size="13.6" textLength="54.9" lengthAdjust="spacing" xml:space="preserve">Cu<tspan font-size="7.0" dy="-5.0">2+</tspan><tspan dy="5.0">  Sat.</tspan></text>
<text x="1373.4" y="115.1" font-size="13.6" textLength="28.3" lengthAdjust="spacing">2P<tspan font-size="8.6" dy="4.8">3/2</tspan></text>
<text x="1359.3" y="134.6" font-size="13.6" textLength="55.5" lengthAdjust="spacing" xml:space="preserve">Cu<tspan font-size="7.0" dy="-5.0">2+</tspan><tspan dy="5.0">  Sat.</tspan></text>
<text x="1497.5" y="77" font-size="13.6" textLength="27.9" lengthAdjust="spacing">2P<tspan font-size="8.6" dy="4.8">1/2</tspan></text>
<text x="1497.9" y="95.7" font-size="13.6" textLength="25.9" lengthAdjust="spacing" xml:space="preserve">Cu<tspan font-size="7.0" dy="-5.0">2+</tspan></text>
<text x="1124.6" y="224.9" font-size="13.6" textLength="27.7" lengthAdjust="spacing">2P<tspan font-size="8.6" dy="4.8">3/2</tspan></text>
<text x="1125.6" y="244.3" font-size="13.6" textLength="24.6" lengthAdjust="spacing" xml:space="preserve">Cu<tspan font-size="7.0" dy="-5.0">2+</tspan></text>
<text x="1207.3" y="288.4" font-size="13.6" textLength="27.4" lengthAdjust="spacing">2P<tspan font-size="8.6" dy="4.8">3/2</tspan></text>
<text x="1207.7" y="306.9" font-size="13.6" textLength="25.6" lengthAdjust="spacing" xml:space="preserve">Cu<tspan font-size="7.0" dy="-5.0">2+</tspan></text>
<text x="1266.1" y="306.5" font-size="13.6" textLength="28.1" lengthAdjust="spacing">2P<tspan font-size="8.6" dy="4.8">3/2</tspan></text>
<text x="1252.8" y="325.8" font-size="13.6" textLength="54.9" lengthAdjust="spacing" xml:space="preserve">Cu<tspan font-size="7.0" dy="-5.0">2+</tspan><tspan dy="5.0">  Sat.</tspan></text>
<text x="1353.7" y="307.3" font-size="13.6" textLength="28.3" lengthAdjust="spacing">2P<tspan font-size="8.6" dy="4.8">3/2</tspan></text>
<text x="1339.9" y="325.8" font-size="13.6" textLength="55.1" lengthAdjust="spacing" xml:space="preserve">Cu<tspan font-size="7.0" dy="-5.0">2+</tspan><tspan dy="5.0">  Sat.</tspan></text>
<text x="1487.1" y="248.5" font-size="13.6" textLength="28.3" lengthAdjust="spacing">2P<tspan font-size="8.6" dy="4.8">1/2</tspan></text>
<text x="1487.7" y="266.9" font-size="13.6" textLength="26.6" lengthAdjust="spacing" xml:space="preserve">Cu<tspan font-size="7.0" dy="-5.0">2+</tspan></text>
<text x="1535.5" y="299.7" font-size="13.6" textLength="28.1" lengthAdjust="spacing">2P<tspan font-size="8.6" dy="4.8">1/2</tspan></text>
<text x="1535.9" y="318.2" font-size="13.6" textLength="25.6" lengthAdjust="spacing" xml:space="preserve">Cu<tspan font-size="7.0" dy="-5.0">2+</tspan></text>
<text x="1134.9" y="419.7" font-size="13.6" textLength="27.6" lengthAdjust="spacing">2P<tspan font-size="8.6" dy="4.8">3/2</tspan></text>
<text x="1135.5" y="438.2" font-size="13.6" textLength="26.0" lengthAdjust="spacing" xml:space="preserve">Cu<tspan font-size="7.0" dy="-5.0">2+</tspan></text>
<text x="1223" y="504.8" font-size="13.6" textLength="27.7" lengthAdjust="spacing">2P<tspan font-size="8.6" dy="4.8">3/2</tspan></text>
<text x="1223.7" y="523.3" font-size="13.6" textLength="26.0" lengthAdjust="spacing" xml:space="preserve">Cu<tspan font-size="7.0" dy="-5.0">2+</tspan></text>
<text x="1276.4" y="465.9" font-size="13.6" textLength="28.1" lengthAdjust="spacing">2P<tspan font-size="8.6" dy="4.8">3/2</tspan></text>
<text x="1262.6" y="485.4" font-size="13.6" textLength="54.8" lengthAdjust="spacing" xml:space="preserve">Cu<tspan font-size="7.0" dy="-5.0">2+</tspan><tspan dy="5.0">  Sat.</tspan></text>
<text x="1367.5" y="482.3" font-size="13.6" textLength="28.5" lengthAdjust="spacing">2P<tspan font-size="8.6" dy="4.8">3/2</tspan></text>
<text x="1354.3" y="502.1" font-size="13.6" textLength="54.9" lengthAdjust="spacing" xml:space="preserve">Cu<tspan font-size="7.0" dy="-5.0">2+</tspan><tspan dy="5.0">  Sat.</tspan></text>
<text x="1489" y="442.1" font-size="13.6" textLength="27.9" lengthAdjust="spacing">2P<tspan font-size="8.6" dy="4.8">1/2</tspan></text>
<text x="1489.5" y="461.4" font-size="13.6" textLength="26.3" lengthAdjust="spacing" xml:space="preserve">Cu<tspan font-size="7.0" dy="-5.0">2+</tspan></text>
<text x="1142.5" y="625.5" font-size="13.6" textLength="28.4" lengthAdjust="spacing">2P<tspan font-size="8.6" dy="4.8">3/2</tspan></text>
<text x="1142.9" y="644.7" font-size="13.6" textLength="26.5" lengthAdjust="spacing" xml:space="preserve">Cu<tspan font-size="7.0" dy="-5.0">2+</tspan></text>
<text x="1223.1" y="680.2" font-size="13.6" textLength="28.4" lengthAdjust="spacing">2P<tspan font-size="8.6" dy="4.8">3/2</tspan></text>
<text x="1224" y="699.4" font-size="13.6" textLength="26.0" lengthAdjust="spacing" xml:space="preserve">Cu<tspan font-size="7.0" dy="-5.0">2+</tspan></text>
<text x="1284.9" y="663.9" font-size="13.6" textLength="28.4" lengthAdjust="spacing">2P<tspan font-size="8.6" dy="4.8">3/2</tspan></text>
<text x="1271.1" y="683.6" font-size="13.6" textLength="56.0" lengthAdjust="spacing" xml:space="preserve">Cu<tspan font-size="7.0" dy="-5.0">2+</tspan><tspan dy="5.0">  Sat.</tspan></text>
<text x="1369.2" y="675.3" font-size="13.6" textLength="28.4" lengthAdjust="spacing">2P<tspan font-size="8.6" dy="4.8">3/2</tspan></text>
<text x="1354.9" y="694.4" font-size="13.6" textLength="55.9" lengthAdjust="spacing" xml:space="preserve">Cu<tspan font-size="7.0" dy="-5.0">2+</tspan><tspan dy="5.0">  Sat.</tspan></text>
<text x="1491.6" y="640.1" font-size="13.6" textLength="28.2" lengthAdjust="spacing">2P<tspan font-size="8.6" dy="4.8">1/2</tspan></text>
<text x="1492.1" y="659.2" font-size="13.6" textLength="26.4" lengthAdjust="spacing" xml:space="preserve">Cu<tspan font-size="7.0" dy="-5.0">2+</tspan></text>
<text x="1144.4" y="805.5" font-size="13.6" textLength="28.8" lengthAdjust="spacing">2P<tspan font-size="8.6" dy="4.8">3/2</tspan></text>
<text x="1145.4" y="824.1" font-size="13.6" textLength="25.9" lengthAdjust="spacing" xml:space="preserve">Cu<tspan font-size="7.0" dy="-5.0">2+</tspan></text>
<text x="1216.4" y="833.7" font-size="13.6" textLength="28.2" lengthAdjust="spacing">2P<tspan font-size="8.6" dy="4.8">3/2</tspan></text>
<text x="1216.9" y="852.9" font-size="13.6" textLength="26.3" lengthAdjust="spacing" xml:space="preserve">Cu<tspan font-size="7.0" dy="-5.0">2+</tspan></text>
<text x="1284.9" y="827.6" font-size="13.6" textLength="28.0" lengthAdjust="spacing">2P<tspan font-size="8.6" dy="4.8">3/2</tspan></text>
<text x="1271.1" y="847.1" font-size="13.6" textLength="55.6" lengthAdjust="spacing" xml:space="preserve">Cu<tspan font-size="7.0" dy="-5.0">2+</tspan><tspan dy="5.0">  Sat.</tspan></text>
<text x="1363.1" y="832.6" font-size="13.6" textLength="27.9" lengthAdjust="spacing">2P<tspan font-size="8.6" dy="4.8">3/2</tspan></text>
<text x="1348.8" y="852.4" font-size="13.6" textLength="54.9" lengthAdjust="spacing" xml:space="preserve">Cu<tspan font-size="7.0" dy="-5.0">2+</tspan><tspan dy="5.0">  Sat.</tspan></text>
<text x="1496" y="817.9" font-size="13.6" textLength="28.2" lengthAdjust="spacing">2P<tspan font-size="8.6" dy="4.8">1/2</tspan></text>
<text x="1496.5" y="837" font-size="13.6" textLength="25.9" lengthAdjust="spacing" xml:space="preserve">Cu<tspan font-size="7.0" dy="-5.0">2+</tspan></text>
<text x="935.1" y="30.5" font-size="11.70" textLength="116.5" lengthAdjust="spacing" >Hydrothermal process</text>
<text x="930.6" y="174.8" font-size="11.70" textLength="122.0" lengthAdjust="spacing" >Ethylene glycol assisted</text>
<text x="952.2" y="189.5" font-size="11.70" textLength="77.6" lengthAdjust="spacing" >sol-gel process</text>
<text x="938.7" y="410.3" font-size="11.70" textLength="113.9" lengthAdjust="spacing" >Solid reaction process</text>
<text x="969.5" y="617.0" font-size="11.70" textLength="83.1" lengthAdjust="spacing" >co-precipitation</text>
<text x="967.5" y="792.9" font-size="11.70" textLength="84.7" lengthAdjust="spacing" >Co-precipitation</text>
<text x="1565.7" y="60.3" font-size="14.00" textLength="139.5" lengthAdjust="spacing" >Hydrothermal process</text>
<text x="1560.5" y="236.1" font-size="14.00" textLength="147.6" lengthAdjust="spacing" >Ethylene glycol assisted</text>
<text x="1587.5" y="255.6" font-size="14.00" textLength="94.0" lengthAdjust="spacing" >sol-gel process</text>
<text x="1569.7" y="424.7" font-size="14.00" textLength="136.9" lengthAdjust="spacing" >Solid reaction process</text>
<text x="1598.2" y="634.0" font-size="14.00" textLength="99.6" lengthAdjust="spacing" >co-precipitation</text>
<text x="1599.3" y="814.0" font-size="14.00" textLength="101.6" lengthAdjust="spacing" >Co-precipitation</text>
<text x="976.1" y="602.3" font-size="11.7" textLength="70.9" lengthAdjust="spacing">Cu(CH<tspan font-size="6.8" dy="2.2">3</tspan><tspan dy="-2.2">COO)</tspan><tspan font-size="6.8" dy="2.2">2</tspan></text>
<text x="1605.9" y="616" font-size="14" textLength="84.0" lengthAdjust="spacing">Cu(CH<tspan font-size="8" dy="2.6">3</tspan><tspan dy="-2.6">COO)</tspan><tspan font-size="8" dy="2.6">2</tspan></text>
</g>
</svg></body></html>
